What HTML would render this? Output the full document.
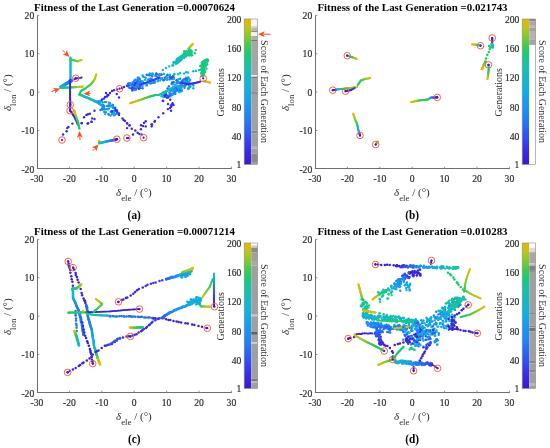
<!DOCTYPE html><html><head><meta charset="utf-8"><style>html,body{margin:0;padding:0;background:#fff;width:550px;height:448px;overflow:hidden}svg{display:block}</style></head><body>
<svg width="550" height="448" viewBox="0 0 550 448">
<defs><linearGradient id="parula" x1="0" y1="0" x2="0" y2="1"><stop offset="0.000" stop-color="#e8b800"/><stop offset="0.062" stop-color="#bfc417"/><stop offset="0.125" stop-color="#7ecb2d"/><stop offset="0.188" stop-color="#39cc51"/><stop offset="0.250" stop-color="#16ca7d"/><stop offset="0.312" stop-color="#14c4a5"/><stop offset="0.375" stop-color="#11bdbe"/><stop offset="0.438" stop-color="#10b5d2"/><stop offset="0.500" stop-color="#10ace4"/><stop offset="0.562" stop-color="#159eed"/><stop offset="0.625" stop-color="#1a8ff3"/><stop offset="0.688" stop-color="#1f7ef7"/><stop offset="0.750" stop-color="#2767f8"/><stop offset="0.812" stop-color="#304ff6"/><stop offset="0.875" stop-color="#3734ef"/><stop offset="0.938" stop-color="#3c23e0"/><stop offset="1.000" stop-color="#3e18cd"/></linearGradient></defs>
<rect width="550" height="448" fill="#fff"/>
<g transform="translate(0,0)">
<path d="M37.5 15.3 V168.5 H231.8" fill="none" stroke="#707070" stroke-width="1"/>
<path d="M37.50 168.5 v-1.8 M69.40 168.5 v-1.8 M101.80 168.5 v-1.8 M134.20 168.5 v-1.8 M166.60 168.5 v-1.8 M199.00 168.5 v-1.8 M231.40 168.5 v-1.8 M37.5 168.50 h1.8 M37.5 130.50 h1.8 M37.5 92.10 h1.8 M37.5 53.70 h1.8 M37.5 15.30 h1.8" stroke="#707070" stroke-width="0.8"/>
<g font-family="'Liberation Serif', 'Times New Roman', serif" font-size="9.6" fill="#2e2e2e" stroke="#2e2e2e" stroke-width="0.18">
<text x="37.00" y="182" text-anchor="middle">-30</text>
<text x="69.40" y="182" text-anchor="middle">-20</text>
<text x="101.80" y="182" text-anchor="middle">-10</text>
<text x="134.20" y="182" text-anchor="middle">0</text>
<text x="166.60" y="182" text-anchor="middle">10</text>
<text x="199.00" y="182" text-anchor="middle">20</text>
<text x="231.40" y="182" text-anchor="middle">30</text>
<text x="34.2" y="172.60" text-anchor="end">-20</text>
<text x="34.2" y="134.20" text-anchor="end">-10</text>
<text x="34.2" y="95.80" text-anchor="end">0</text>
<text x="34.2" y="57.40" text-anchor="end">10</text>
<text x="34.2" y="19.00" text-anchor="end">20</text>
<text x="241.3" y="168.30" text-anchor="end">1</text>
<text x="241.3" y="139.80" text-anchor="end">40</text>
<text x="241.3" y="110.58" text-anchor="end">80</text>
<text x="241.3" y="81.35" text-anchor="end">120</text>
<text x="241.3" y="52.13" text-anchor="end">160</text>
<text x="241.3" y="22.90" text-anchor="end">200</text>
</g>
<text font-family="'Liberation Serif', 'Times New Roman', serif" font-size="11" fill="#2e2e2e" x="116.1" y="195.6"><tspan font-style="italic">δ</tspan><tspan font-size="8.8" dy="5">ele</tspan><tspan dy="-5"> / (°)</tspan></text>
<text font-family="'Liberation Serif', 'Times New Roman', serif" font-size="11" fill="#2e2e2e" transform="translate(10.9,111.0) rotate(-90)"><tspan font-style="italic">δ</tspan><tspan font-size="8.8" dy="5.4">lon</tspan><tspan dy="-5.4"> / (°)</tspan></text>
<text font-family="'Liberation Serif', 'Times New Roman', serif" font-size="10" fill="#2e2e2e" text-anchor="middle" transform="translate(224.2,92.3) rotate(-90)">Generations</text>
<text font-family="'Liberation Serif', 'Times New Roman', serif" font-size="10" fill="#2e2e2e" text-anchor="middle" transform="translate(261.4,91.6) rotate(90)">Score of Each Generation</text>
<text font-family="'Liberation Serif', 'Times New Roman', serif" font-size="10.9" font-weight="bold" fill="#000" x="134.5" y="10.7" text-anchor="middle">Fitness of the Last Generation =0.00070624</text>
<text font-family="'Liberation Serif', 'Times New Roman', serif" font-size="11.3" font-weight="bold" fill="#000" transform="translate(134.2 216.5) scale(1 1.12)" x="0" y="2.45" text-anchor="middle">(a)</text>
<rect x="244.2" y="19.0" width="7.0" height="145.4" fill="url(#parula)"/>
<rect x="251.2" y="19.0" width="6.400000000000034" height="145.4" fill="#ffffff"/>
<rect x="251.2" y="19" width="6.400000000000034" height="6.899999999999999" fill="#f6f6f6"/>
<rect x="251.2" y="25.9" width="6.400000000000034" height="1.7000000000000028" fill="#d4d4d4"/>
<rect x="251.2" y="27.6" width="6.400000000000034" height="3.3999999999999986" fill="#b8b8b8"/>
<rect x="251.2" y="31" width="6.400000000000034" height="1.2999999999999972" fill="#8c8c8c"/>
<rect x="251.2" y="32.3" width="6.400000000000034" height="3.700000000000003" fill="#f2f2f2"/>
<rect x="251.2" y="36" width="6.400000000000034" height="3.8999999999999986" fill="#b0b0b0"/>
<rect x="251.2" y="39.9" width="6.400000000000034" height="1.7000000000000028" fill="#767676"/>
<rect x="251.2" y="41.6" width="6.400000000000034" height="33.4" fill="#a6a6a6"/>
<rect x="251.2" y="75" width="6.400000000000034" height="1.7000000000000028" fill="#eeeeee"/>
<rect x="251.2" y="76.7" width="6.400000000000034" height="1.2999999999999972" fill="#7a7a7a"/>
<rect x="251.2" y="78" width="6.400000000000034" height="14" fill="#a0a0a0"/>
<rect x="251.2" y="92" width="6.400000000000034" height="2" fill="#8e8e8e"/>
<rect x="251.2" y="94" width="6.400000000000034" height="36.80000000000001" fill="#a2a2a2"/>
<rect x="251.2" y="130.8" width="6.400000000000034" height="2.3999999999999773" fill="#8a8a8a"/>
<rect x="251.2" y="133.2" width="6.400000000000034" height="12.800000000000011" fill="#a0a0a0"/>
<rect x="251.2" y="146" width="6.400000000000034" height="2.5999999999999943" fill="#b2b2b2"/>
<rect x="251.2" y="148.6" width="6.400000000000034" height="4.900000000000006" fill="#a0a0a0"/>
<rect x="251.2" y="153.5" width="6.400000000000034" height="8.5" fill="#8c8c8c"/>
<rect x="251.2" y="162" width="6.400000000000034" height="2.4000000000000057" fill="#a0a0a0"/>
<rect x="244.2" y="19.0" width="13.400000000000034" height="145.4" fill="none" stroke="#8a8a8a" stroke-width="0.6"/>
</g>
<g transform="translate(278,0)">
<path d="M37.5 15.3 V168.5 H231.8" fill="none" stroke="#707070" stroke-width="1"/>
<path d="M37.50 168.5 v-1.8 M69.40 168.5 v-1.8 M101.80 168.5 v-1.8 M134.20 168.5 v-1.8 M166.60 168.5 v-1.8 M199.00 168.5 v-1.8 M231.40 168.5 v-1.8 M37.5 168.50 h1.8 M37.5 130.50 h1.8 M37.5 92.10 h1.8 M37.5 53.70 h1.8 M37.5 15.30 h1.8" stroke="#707070" stroke-width="0.8"/>
<g font-family="'Liberation Serif', 'Times New Roman', serif" font-size="9.6" fill="#2e2e2e" stroke="#2e2e2e" stroke-width="0.18">
<text x="37.00" y="182" text-anchor="middle">-30</text>
<text x="69.40" y="182" text-anchor="middle">-20</text>
<text x="101.80" y="182" text-anchor="middle">-10</text>
<text x="134.20" y="182" text-anchor="middle">0</text>
<text x="166.60" y="182" text-anchor="middle">10</text>
<text x="199.00" y="182" text-anchor="middle">20</text>
<text x="231.40" y="182" text-anchor="middle">30</text>
<text x="34.2" y="172.60" text-anchor="end">-20</text>
<text x="34.2" y="134.20" text-anchor="end">-10</text>
<text x="34.2" y="95.80" text-anchor="end">0</text>
<text x="34.2" y="57.40" text-anchor="end">10</text>
<text x="34.2" y="19.00" text-anchor="end">20</text>
<text x="241.3" y="168.30" text-anchor="end">1</text>
<text x="241.3" y="139.80" text-anchor="end">40</text>
<text x="241.3" y="110.58" text-anchor="end">80</text>
<text x="241.3" y="81.35" text-anchor="end">120</text>
<text x="241.3" y="52.13" text-anchor="end">160</text>
<text x="241.3" y="22.90" text-anchor="end">200</text>
</g>
<text font-family="'Liberation Serif', 'Times New Roman', serif" font-size="11" fill="#2e2e2e" x="116.1" y="195.6"><tspan font-style="italic">δ</tspan><tspan font-size="8.8" dy="5">ele</tspan><tspan dy="-5"> / (°)</tspan></text>
<text font-family="'Liberation Serif', 'Times New Roman', serif" font-size="11" fill="#2e2e2e" transform="translate(10.9,111.0) rotate(-90)"><tspan font-style="italic">δ</tspan><tspan font-size="8.8" dy="5.4">lon</tspan><tspan dy="-5.4"> / (°)</tspan></text>
<text font-family="'Liberation Serif', 'Times New Roman', serif" font-size="10" fill="#2e2e2e" text-anchor="middle" transform="translate(224.2,92.3) rotate(-90)">Generations</text>
<text font-family="'Liberation Serif', 'Times New Roman', serif" font-size="10" fill="#2e2e2e" text-anchor="middle" transform="translate(261.4,91.6) rotate(90)">Score of Each Generation</text>
<text font-family="'Liberation Serif', 'Times New Roman', serif" font-size="10.9" font-weight="bold" fill="#000" x="134.5" y="10.7" text-anchor="middle">Fitness of the Last Generation =0.021743</text>
<text font-family="'Liberation Serif', 'Times New Roman', serif" font-size="11.3" font-weight="bold" fill="#000" transform="translate(134.2 216.5) scale(1 1.12)" x="0" y="2.45" text-anchor="middle">(b)</text>
<rect x="244.2" y="19.0" width="7.0" height="145.4" fill="url(#parula)"/>
<rect x="251.2" y="19.0" width="6.400000000000034" height="145.4" fill="#ffffff"/>
<rect x="251.2" y="19" width="6.400000000000034" height="2.5" fill="#8a8a8a"/>
<rect x="251.2" y="21.5" width="6.400000000000034" height="3.8999999999999986" fill="#a8a8a8"/>
<rect x="251.2" y="25.4" width="6.400000000000034" height="0.5" fill="#909090"/>
<rect x="251.2" y="25.9" width="6.400000000000034" height="1.7000000000000028" fill="#b8b8b8"/>
<rect x="251.2" y="27.6" width="6.400000000000034" height="2.599999999999998" fill="#a0a0a0"/>
<rect x="251.2" y="30.2" width="6.400000000000034" height="0.8000000000000007" fill="#8c8c8c"/>
<rect x="251.2" y="31" width="6.400000000000034" height="8.899999999999999" fill="#b4b4b4"/>
<rect x="251.2" y="39.9" width="6.400000000000034" height="5.0" fill="#a4a4a4"/>
<rect x="244.2" y="19.0" width="13.400000000000034" height="145.4" fill="none" stroke="#8a8a8a" stroke-width="0.6"/>
</g>
<g transform="translate(0,224)">
<path d="M37.5 15.3 V168.5 H231.8" fill="none" stroke="#707070" stroke-width="1"/>
<path d="M37.50 168.5 v-1.8 M69.40 168.5 v-1.8 M101.80 168.5 v-1.8 M134.20 168.5 v-1.8 M166.60 168.5 v-1.8 M199.00 168.5 v-1.8 M231.40 168.5 v-1.8 M37.5 168.50 h1.8 M37.5 130.50 h1.8 M37.5 92.10 h1.8 M37.5 53.70 h1.8 M37.5 15.30 h1.8" stroke="#707070" stroke-width="0.8"/>
<g font-family="'Liberation Serif', 'Times New Roman', serif" font-size="9.6" fill="#2e2e2e" stroke="#2e2e2e" stroke-width="0.18">
<text x="37.00" y="182" text-anchor="middle">-30</text>
<text x="69.40" y="182" text-anchor="middle">-20</text>
<text x="101.80" y="182" text-anchor="middle">-10</text>
<text x="134.20" y="182" text-anchor="middle">0</text>
<text x="166.60" y="182" text-anchor="middle">10</text>
<text x="199.00" y="182" text-anchor="middle">20</text>
<text x="231.40" y="182" text-anchor="middle">30</text>
<text x="34.2" y="172.60" text-anchor="end">-20</text>
<text x="34.2" y="134.20" text-anchor="end">-10</text>
<text x="34.2" y="95.80" text-anchor="end">0</text>
<text x="34.2" y="57.40" text-anchor="end">10</text>
<text x="34.2" y="19.00" text-anchor="end">20</text>
<text x="241.3" y="168.30" text-anchor="end">1</text>
<text x="241.3" y="139.80" text-anchor="end">40</text>
<text x="241.3" y="110.58" text-anchor="end">80</text>
<text x="241.3" y="81.35" text-anchor="end">120</text>
<text x="241.3" y="52.13" text-anchor="end">160</text>
<text x="241.3" y="22.90" text-anchor="end">200</text>
</g>
<text font-family="'Liberation Serif', 'Times New Roman', serif" font-size="11" fill="#2e2e2e" x="116.1" y="195.6"><tspan font-style="italic">δ</tspan><tspan font-size="8.8" dy="5">ele</tspan><tspan dy="-5"> / (°)</tspan></text>
<text font-family="'Liberation Serif', 'Times New Roman', serif" font-size="11" fill="#2e2e2e" transform="translate(10.9,111.0) rotate(-90)"><tspan font-style="italic">δ</tspan><tspan font-size="8.8" dy="5.4">lon</tspan><tspan dy="-5.4"> / (°)</tspan></text>
<text font-family="'Liberation Serif', 'Times New Roman', serif" font-size="10" fill="#2e2e2e" text-anchor="middle" transform="translate(224.2,92.3) rotate(-90)">Generations</text>
<text font-family="'Liberation Serif', 'Times New Roman', serif" font-size="10" fill="#2e2e2e" text-anchor="middle" transform="translate(261.4,91.6) rotate(90)">Score of Each Generation</text>
<text font-family="'Liberation Serif', 'Times New Roman', serif" font-size="10.9" font-weight="bold" fill="#000" x="134.5" y="10.7" text-anchor="middle">Fitness of the Last Generation =0.00071214</text>
<text font-family="'Liberation Serif', 'Times New Roman', serif" font-size="11.3" font-weight="bold" fill="#000" transform="translate(134.2 216.5) scale(1 1.12)" x="0" y="2.45" text-anchor="middle">(c)</text>
<rect x="244.2" y="19.0" width="7.0" height="145.4" fill="url(#parula)"/>
<rect x="251.2" y="19.0" width="6.400000000000034" height="145.4" fill="#ffffff"/>
<rect x="251.2" y="21.5" width="6.400000000000034" height="2.1999999999999993" fill="#c8c8c8"/>
<rect x="251.2" y="23.7" width="6.400000000000034" height="4.5" fill="#8c8c8c"/>
<rect x="251.2" y="28.2" width="6.400000000000034" height="8.8" fill="#a0a0a0"/>
<rect x="251.2" y="37" width="6.400000000000034" height="4.600000000000001" fill="#aaaaaa"/>
<rect x="251.2" y="41.6" width="6.400000000000034" height="49.1" fill="#a0a0a0"/>
<rect x="251.2" y="90.7" width="6.400000000000034" height="1.5999999999999943" fill="#c8c8c8"/>
<rect x="251.2" y="92.3" width="6.400000000000034" height="15.700000000000003" fill="#a0a0a0"/>
<rect x="251.2" y="108" width="6.400000000000034" height="2.799999999999997" fill="#606060"/>
<rect x="251.2" y="110.8" width="6.400000000000034" height="7.700000000000003" fill="#a0a0a0"/>
<rect x="251.2" y="118.5" width="6.400000000000034" height="1.2000000000000028" fill="#d0d0d0"/>
<rect x="251.2" y="119.7" width="6.400000000000034" height="34.999999999999986" fill="#a0a0a0"/>
<rect x="251.2" y="154.7" width="6.400000000000034" height="2.5" fill="#7a7a7a"/>
<rect x="251.2" y="157.2" width="6.400000000000034" height="1.3000000000000114" fill="#b0b0b0"/>
<rect x="251.2" y="158.5" width="6.400000000000034" height="5.900000000000006" fill="#a0a0a0"/>
<rect x="244.2" y="19.0" width="13.400000000000034" height="145.4" fill="none" stroke="#8a8a8a" stroke-width="0.6"/>
</g>
<g transform="translate(278,224)">
<path d="M37.5 15.3 V168.5 H231.8" fill="none" stroke="#707070" stroke-width="1"/>
<path d="M37.50 168.5 v-1.8 M69.40 168.5 v-1.8 M101.80 168.5 v-1.8 M134.20 168.5 v-1.8 M166.60 168.5 v-1.8 M199.00 168.5 v-1.8 M231.40 168.5 v-1.8 M37.5 168.50 h1.8 M37.5 130.50 h1.8 M37.5 92.10 h1.8 M37.5 53.70 h1.8 M37.5 15.30 h1.8" stroke="#707070" stroke-width="0.8"/>
<g font-family="'Liberation Serif', 'Times New Roman', serif" font-size="9.6" fill="#2e2e2e" stroke="#2e2e2e" stroke-width="0.18">
<text x="37.00" y="182" text-anchor="middle">-30</text>
<text x="69.40" y="182" text-anchor="middle">-20</text>
<text x="101.80" y="182" text-anchor="middle">-10</text>
<text x="134.20" y="182" text-anchor="middle">0</text>
<text x="166.60" y="182" text-anchor="middle">10</text>
<text x="199.00" y="182" text-anchor="middle">20</text>
<text x="231.40" y="182" text-anchor="middle">30</text>
<text x="34.2" y="172.60" text-anchor="end">-20</text>
<text x="34.2" y="134.20" text-anchor="end">-10</text>
<text x="34.2" y="95.80" text-anchor="end">0</text>
<text x="34.2" y="57.40" text-anchor="end">10</text>
<text x="34.2" y="19.00" text-anchor="end">20</text>
<text x="241.3" y="168.30" text-anchor="end">1</text>
<text x="241.3" y="139.80" text-anchor="end">40</text>
<text x="241.3" y="110.58" text-anchor="end">80</text>
<text x="241.3" y="81.35" text-anchor="end">120</text>
<text x="241.3" y="52.13" text-anchor="end">160</text>
<text x="241.3" y="22.90" text-anchor="end">200</text>
</g>
<text font-family="'Liberation Serif', 'Times New Roman', serif" font-size="11" fill="#2e2e2e" x="116.1" y="195.6"><tspan font-style="italic">δ</tspan><tspan font-size="8.8" dy="5">ele</tspan><tspan dy="-5"> / (°)</tspan></text>
<text font-family="'Liberation Serif', 'Times New Roman', serif" font-size="11" fill="#2e2e2e" transform="translate(10.9,111.0) rotate(-90)"><tspan font-style="italic">δ</tspan><tspan font-size="8.8" dy="5.4">lon</tspan><tspan dy="-5.4"> / (°)</tspan></text>
<text font-family="'Liberation Serif', 'Times New Roman', serif" font-size="10" fill="#2e2e2e" text-anchor="middle" transform="translate(224.2,92.3) rotate(-90)">Generations</text>
<text font-family="'Liberation Serif', 'Times New Roman', serif" font-size="10" fill="#2e2e2e" text-anchor="middle" transform="translate(261.4,91.6) rotate(90)">Score of Each Generation</text>
<text font-family="'Liberation Serif', 'Times New Roman', serif" font-size="10.9" font-weight="bold" fill="#000" x="134.5" y="10.7" text-anchor="middle">Fitness of the Last Generation =0.010283</text>
<text font-family="'Liberation Serif', 'Times New Roman', serif" font-size="11.3" font-weight="bold" fill="#000" transform="translate(134.2 216.5) scale(1 1.12)" x="0" y="2.45" text-anchor="middle">(d)</text>
<rect x="244.2" y="19.0" width="7.0" height="145.4" fill="url(#parula)"/>
<rect x="251.2" y="19.0" width="6.400000000000034" height="145.4" fill="#ffffff"/>
<rect x="251.2" y="23.7" width="6.400000000000034" height="4.5" fill="#dadada"/>
<rect x="251.2" y="28.2" width="6.400000000000034" height="11.099999999999998" fill="#a8a8a8"/>
<rect x="251.2" y="39.3" width="6.400000000000034" height="2.3000000000000043" fill="#c0c0c0"/>
<rect x="251.2" y="41.6" width="6.400000000000034" height="5.0" fill="#828282"/>
<rect x="251.2" y="46.6" width="6.400000000000034" height="1.1000000000000014" fill="#606060"/>
<rect x="251.2" y="47.7" width="6.400000000000034" height="41.3" fill="#a0a0a0"/>
<rect x="251.2" y="89" width="6.400000000000034" height="1.7000000000000028" fill="#888888"/>
<rect x="251.2" y="90.7" width="6.400000000000034" height="11.099999999999994" fill="#a0a0a0"/>
<rect x="251.2" y="101.8" width="6.400000000000034" height="1.7000000000000028" fill="#888888"/>
<rect x="251.2" y="103.5" width="6.400000000000034" height="0.5" fill="#a0a0a0"/>
<rect x="251.2" y="104" width="6.400000000000034" height="3.4000000000000057" fill="#747474"/>
<rect x="251.2" y="107.4" width="6.400000000000034" height="28.900000000000006" fill="#a0a0a0"/>
<rect x="251.2" y="136.3" width="6.400000000000034" height="3.0999999999999943" fill="#888888"/>
<rect x="251.2" y="139.4" width="6.400000000000034" height="6.599999999999994" fill="#a0a0a0"/>
<rect x="251.2" y="146" width="6.400000000000034" height="2.5999999999999943" fill="#888888"/>
<rect x="251.2" y="148.6" width="6.400000000000034" height="10.400000000000006" fill="#a0a0a0"/>
<rect x="251.2" y="159" width="6.400000000000034" height="3" fill="#b8b8b8"/>
<rect x="251.2" y="162" width="6.400000000000034" height="2.4000000000000057" fill="#a0a0a0"/>
<rect x="244.2" y="19.0" width="13.400000000000034" height="145.4" fill="none" stroke="#8a8a8a" stroke-width="0.6"/>
</g>
<circle cx="70.5" cy="57.5" r="1.1" fill="#17cb76"/>
<circle cx="70.5" cy="58.2" r="1.1" fill="#16c982"/>
<circle cx="70.5" cy="59.0" r="1.1" fill="#15c88d"/>
<circle cx="70.5" cy="59.8" r="1.1" fill="#14c799"/>
<circle cx="70.5" cy="60.5" r="1.1" fill="#14c5a3"/>
<circle cx="70.5" cy="61.2" r="1.1" fill="#13c3a9"/>
<circle cx="70.5" cy="62.0" r="1.1" fill="#12c1b0"/>
<circle cx="70.5" cy="62.7" r="1.1" fill="#12c1b2"/>
<circle cx="70.5" cy="63.4" r="1.1" fill="#12c0b4"/>
<circle cx="70.5" cy="64.2" r="1.1" fill="#12bfb7"/>
<circle cx="70.5" cy="64.9" r="1.1" fill="#12bfb9"/>
<circle cx="70.5" cy="65.6" r="1.1" fill="#11bebb"/>
<circle cx="70.5" cy="66.3" r="1.1" fill="#11bdbd"/>
<circle cx="70.5" cy="67.1" r="1.1" fill="#11bdc0"/>
<circle cx="70.5" cy="67.8" r="1.1" fill="#11bcc2"/>
<circle cx="70.5" cy="68.5" r="1.1" fill="#10bbc4"/>
<circle cx="70.5" cy="69.2" r="1.1" fill="#10bbc6"/>
<circle cx="70.5" cy="69.9" r="1.1" fill="#10bac8"/>
<circle cx="70.5" cy="70.7" r="1.1" fill="#10b9ca"/>
<circle cx="70.5" cy="71.4" r="1.1" fill="#10b8cb"/>
<circle cx="70.5" cy="72.1" r="1.1" fill="#10b8cd"/>
<circle cx="70.5" cy="72.8" r="1.1" fill="#10b7cf"/>
<circle cx="70.5" cy="73.6" r="1.1" fill="#10b6d0"/>
<circle cx="70.5" cy="74.3" r="1.1" fill="#10b5d2"/>
<circle cx="70.5" cy="75.0" r="1.1" fill="#10b4d3"/>
<circle cx="70.5" cy="75.8" r="1.1" fill="#10b3d7"/>
<circle cx="70.5" cy="76.5" r="1.1" fill="#10b1da"/>
<circle cx="70.5" cy="77.3" r="1.1" fill="#10afdd"/>
<circle cx="70.5" cy="78.1" r="1.1" fill="#10aee1"/>
<circle cx="70.5" cy="78.8" r="1.1" fill="#10ace4"/>
<circle cx="70.5" cy="79.6" r="1.1" fill="#11a9e6"/>
<circle cx="70.5" cy="80.4" r="1.1" fill="#12a6e8"/>
<circle cx="70.5" cy="81.1" r="1.1" fill="#13a4e9"/>
<circle cx="70.5" cy="81.9" r="1.1" fill="#14a1eb"/>
<circle cx="70.5" cy="59.2" r="1.0" fill="#17cb76"/>
<circle cx="71.2" cy="59.4" r="1.0" fill="#18cb6f"/>
<circle cx="71.9" cy="59.7" r="1.0" fill="#18cc68"/>
<circle cx="72.7" cy="59.9" r="1.0" fill="#22cc61"/>
<circle cx="73.4" cy="60.1" r="1.0" fill="#2dcc5a"/>
<circle cx="74.1" cy="60.4" r="1.0" fill="#37cc53"/>
<circle cx="74.8" cy="60.6" r="1.0" fill="#41cc4b"/>
<circle cx="75.5" cy="60.8" r="1.0" fill="#4bcc44"/>
<circle cx="76.3" cy="61.0" r="1.0" fill="#56cc3d"/>
<circle cx="77.0" cy="61.3" r="1.0" fill="#60cc36"/>
<circle cx="77.7" cy="61.5" r="1.0" fill="#6ccb33"/>
<circle cx="78.4" cy="61.2" r="1.0" fill="#84ca2c"/>
<circle cx="79.0" cy="60.9" r="1.0" fill="#9cc925"/>
<circle cx="79.7" cy="60.6" r="1.0" fill="#b4c81e"/>
<circle cx="80.4" cy="60.4" r="1.0" fill="#c1c417"/>
<circle cx="81.0" cy="60.1" r="1.0" fill="#cec00f"/>
<circle cx="81.7" cy="59.8" r="1.0" fill="#dbbc08"/>
<circle cx="74.2" cy="79.0" r="0.9" fill="#3c1fd9"/>
<circle cx="75.0" cy="78.8" r="0.9" fill="#3c20db"/>
<circle cx="75.7" cy="78.7" r="0.9" fill="#3c21dd"/>
<circle cx="76.5" cy="78.5" r="0.9" fill="#3c22df"/>
<circle cx="77.2" cy="78.4" r="0.9" fill="#3b24e1"/>
<circle cx="78.0" cy="78.2" r="0.9" fill="#3b25e3"/>
<circle cx="78.7" cy="78.1" r="0.9" fill="#3b26e5"/>
<circle cx="79.5" cy="78.0" r="0.9" fill="#3b27e6"/>
<circle cx="80.2" cy="77.8" r="0.9" fill="#3a28e8"/>
<circle cx="81.0" cy="77.7" r="0.9" fill="#3a29ea"/>
<circle cx="81.7" cy="77.5" r="0.9" fill="#3a2aec"/>
<circle cx="60.8" cy="87.1" r="1.75" fill="#11bcc0"/>
<circle cx="61.4" cy="86.7" r="1.75" fill="#10b9c9"/>
<circle cx="62.0" cy="86.4" r="1.75" fill="#10b6d0"/>
<circle cx="62.6" cy="86.0" r="1.75" fill="#10b3d7"/>
<circle cx="63.2" cy="85.6" r="1.75" fill="#10afde"/>
<circle cx="63.8" cy="85.2" r="1.75" fill="#10ace4"/>
<circle cx="64.4" cy="84.9" r="1.75" fill="#12a6e8"/>
<circle cx="65.0" cy="84.5" r="1.75" fill="#14a1eb"/>
<circle cx="65.6" cy="84.1" r="1.75" fill="#169dee"/>
<circle cx="66.3" cy="83.7" r="1.75" fill="#1798f1"/>
<circle cx="66.9" cy="83.4" r="1.75" fill="#1993f3"/>
<circle cx="67.5" cy="83.0" r="1.75" fill="#1a8ef4"/>
<circle cx="68.2" cy="82.6" r="1.75" fill="#1c88f5"/>
<circle cx="68.8" cy="82.2" r="1.75" fill="#1e82f6"/>
<circle cx="69.4" cy="81.8" r="1.75" fill="#1f7df7"/>
<circle cx="70.0" cy="81.5" r="1.75" fill="#2176f8"/>
<circle cx="70.7" cy="81.1" r="1.75" fill="#246ff8"/>
<circle cx="71.3" cy="80.7" r="1.75" fill="#2767f8"/>
<circle cx="96.3" cy="74.3" r="1.1" fill="#e8b800"/>
<circle cx="96.0" cy="75.1" r="1.1" fill="#e1ba04"/>
<circle cx="95.8" cy="75.8" r="1.1" fill="#d9bd09"/>
<circle cx="95.5" cy="76.6" r="1.1" fill="#d2bf0d"/>
<circle cx="95.3" cy="77.3" r="1.1" fill="#cac111"/>
<circle cx="95.0" cy="78.1" r="1.1" fill="#c3c315"/>
<circle cx="94.8" cy="78.8" r="1.1" fill="#bbc61a"/>
<circle cx="94.5" cy="79.6" r="1.1" fill="#b4c81e"/>
<circle cx="94.1" cy="80.2" r="1.1" fill="#a8c921"/>
<circle cx="93.6" cy="80.8" r="1.1" fill="#9cc925"/>
<circle cx="93.2" cy="81.3" r="1.1" fill="#90ca28"/>
<circle cx="92.8" cy="81.9" r="1.1" fill="#84ca2c"/>
<circle cx="92.3" cy="82.5" r="1.1" fill="#78cb2f"/>
<circle cx="91.9" cy="83.0" r="1.1" fill="#6ccb33"/>
<circle cx="91.4" cy="83.6" r="1.1" fill="#60cc36"/>
<circle cx="91.0" cy="84.2" r="1.1" fill="#56cc3d"/>
<circle cx="90.4" cy="84.7" r="1.1" fill="#51cc41"/>
<circle cx="89.8" cy="85.2" r="1.1" fill="#4bcc44"/>
<circle cx="89.1" cy="85.6" r="1.1" fill="#46cc48"/>
<circle cx="88.5" cy="86.1" r="1.1" fill="#41cc4b"/>
<circle cx="87.9" cy="86.6" r="1.1" fill="#3ccc4f"/>
<circle cx="87.2" cy="87.0" r="1.1" fill="#37cc53"/>
<circle cx="86.6" cy="87.5" r="1.1" fill="#32cc56"/>
<circle cx="86.0" cy="88.0" r="1.1" fill="#2dcc5a"/>
<circle cx="85.4" cy="88.4" r="1.1" fill="#2acc5b"/>
<circle cx="84.8" cy="88.8" r="1.1" fill="#27cc5d"/>
<circle cx="84.1" cy="89.1" r="1.1" fill="#25cc5f"/>
<circle cx="83.5" cy="89.5" r="1.1" fill="#22cc61"/>
<circle cx="82.9" cy="89.9" r="1.1" fill="#20cc63"/>
<circle cx="82.2" cy="90.2" r="1.1" fill="#1dcc64"/>
<circle cx="81.6" cy="90.6" r="1.1" fill="#1bcc66"/>
<circle cx="81.0" cy="91.0" r="1.1" fill="#18cc68"/>
<circle cx="80.7" cy="91.7" r="1.1" fill="#18cc6b"/>
<circle cx="80.4" cy="92.4" r="1.1" fill="#18cb6e"/>
<circle cx="80.0" cy="93.1" r="1.1" fill="#17cb70"/>
<circle cx="79.7" cy="93.8" r="1.1" fill="#17cb73"/>
<circle cx="79.4" cy="94.5" r="1.1" fill="#17cb76"/>
<circle cx="60.8" cy="87.9" r="1.1" fill="#15c892"/>
<circle cx="61.5" cy="87.9" r="1.1" fill="#15c88e"/>
<circle cx="62.2" cy="87.8" r="1.1" fill="#16c889"/>
<circle cx="62.9" cy="87.8" r="1.1" fill="#16c985"/>
<circle cx="63.6" cy="87.8" r="1.1" fill="#16c981"/>
<circle cx="64.3" cy="87.7" r="1.1" fill="#17ca7c"/>
<circle cx="65.0" cy="87.7" r="1.1" fill="#17ca78"/>
<circle cx="65.8" cy="87.7" r="1.1" fill="#17cb74"/>
<circle cx="66.5" cy="87.7" r="1.1" fill="#17cb70"/>
<circle cx="67.2" cy="87.6" r="1.1" fill="#18cc6b"/>
<circle cx="67.9" cy="87.6" r="1.1" fill="#1acc67"/>
<circle cx="68.6" cy="87.6" r="1.1" fill="#20cc63"/>
<circle cx="69.3" cy="87.5" r="1.1" fill="#26cc5e"/>
<circle cx="70.0" cy="87.5" r="1.1" fill="#2dcc5a"/>
<circle cx="70.7" cy="87.5" r="1.1" fill="#36cc53"/>
<circle cx="71.5" cy="87.4" r="1.1" fill="#3fcc4d"/>
<circle cx="72.2" cy="87.4" r="1.1" fill="#49cc46"/>
<circle cx="72.9" cy="87.3" r="1.1" fill="#52cc40"/>
<circle cx="73.6" cy="87.3" r="1.1" fill="#5bcc39"/>
<circle cx="74.4" cy="87.2" r="1.1" fill="#65cc34"/>
<circle cx="75.1" cy="87.2" r="1.1" fill="#70cb31"/>
<circle cx="75.8" cy="87.1" r="1.1" fill="#7bcb2e"/>
<circle cx="76.5" cy="87.1" r="1.1" fill="#86ca2b"/>
<circle cx="77.3" cy="87.0" r="1.1" fill="#91ca28"/>
<circle cx="78.0" cy="87.0" r="1.1" fill="#9cc925"/>
<circle cx="78.7" cy="87.0" r="1.1" fill="#adc820"/>
<circle cx="79.4" cy="86.9" r="1.1" fill="#bac61b"/>
<circle cx="80.1" cy="86.9" r="1.1" fill="#c3c315"/>
<circle cx="80.8" cy="86.8" r="1.1" fill="#ccc110"/>
<circle cx="81.5" cy="86.8" r="1.1" fill="#d5be0b"/>
<circle cx="82.2" cy="86.7" r="1.1" fill="#dfbb05"/>
<circle cx="82.9" cy="86.7" r="1.1" fill="#e8b800"/>
<circle cx="70.1" cy="80.0" r="1.0" fill="#3a2aec"/>
<circle cx="70.1" cy="80.7" r="1.0" fill="#3a2aeb"/>
<circle cx="70.1" cy="81.4" r="1.0" fill="#3a29eb"/>
<circle cx="70.1" cy="82.1" r="1.0" fill="#3a29ea"/>
<circle cx="70.1" cy="82.9" r="1.0" fill="#3a28e9"/>
<circle cx="70.1" cy="83.6" r="1.0" fill="#3a28e8"/>
<circle cx="70.1" cy="84.3" r="1.0" fill="#3b27e8"/>
<circle cx="70.1" cy="85.0" r="1.0" fill="#3b27e7"/>
<circle cx="70.1" cy="85.7" r="1.0" fill="#3b27e6"/>
<circle cx="70.1" cy="86.4" r="1.0" fill="#3b26e5"/>
<circle cx="70.1" cy="87.1" r="1.0" fill="#3b26e5"/>
<circle cx="70.1" cy="87.9" r="1.0" fill="#3b25e4"/>
<circle cx="70.1" cy="88.6" r="1.0" fill="#3b25e3"/>
<circle cx="70.1" cy="89.3" r="1.0" fill="#3b24e2"/>
<circle cx="70.1" cy="90.0" r="1.0" fill="#3b24e2"/>
<circle cx="70.1" cy="90.7" r="1.0" fill="#3b24e1"/>
<circle cx="70.1" cy="91.4" r="1.0" fill="#3c23e0"/>
<circle cx="70.1" cy="92.1" r="1.0" fill="#3c23df"/>
<circle cx="70.1" cy="92.9" r="1.0" fill="#3c22df"/>
<circle cx="70.1" cy="93.6" r="1.0" fill="#3c22de"/>
<circle cx="70.1" cy="94.3" r="1.0" fill="#3c21dd"/>
<circle cx="70.1" cy="95.0" r="1.0" fill="#3c21dc"/>
<circle cx="70.1" cy="95.7" r="1.0" fill="#3c20db"/>
<circle cx="70.1" cy="96.5" r="1.0" fill="#3c20da"/>
<circle cx="70.1" cy="97.2" r="1.0" fill="#3c1fd9"/>
<circle cx="70.2" cy="98.0" r="1.0" fill="#3d1ed8"/>
<circle cx="70.2" cy="98.7" r="1.0" fill="#3d1ed7"/>
<circle cx="70.2" cy="99.5" r="1.0" fill="#3d1dd5"/>
<circle cx="70.2" cy="100.2" r="1.0" fill="#3d1cd4"/>
<circle cx="70.2" cy="101.0" r="1.0" fill="#3d1bd3"/>
<circle cx="70.2" cy="101.7" r="1.0" fill="#3d1bd2"/>
<circle cx="70.3" cy="102.5" r="1.0" fill="#3e1ad1"/>
<circle cx="70.3" cy="103.2" r="1.0" fill="#3e19cf"/>
<circle cx="70.3" cy="104.0" r="1.0" fill="#3e19ce"/>
<circle cx="70.3" cy="104.7" r="1.0" fill="#3e18cd"/>
<circle cx="70.3" cy="105.5" r="1.0" fill="#3e18cd"/>
<circle cx="70.2" cy="106.2" r="1.0" fill="#3e18cd"/>
<circle cx="70.2" cy="107.0" r="1.0" fill="#3e18cd"/>
<circle cx="70.2" cy="107.8" r="1.0" fill="#3e18cd"/>
<circle cx="70.2" cy="108.5" r="1.0" fill="#3e18cd"/>
<circle cx="70.1" cy="109.3" r="1.0" fill="#3e18cd"/>
<circle cx="70.1" cy="110.0" r="1.0" fill="#3e18cd"/>
<circle cx="70.1" cy="110.8" r="1.0" fill="#3e18cd"/>
<circle cx="71.0" cy="111.4" r="1.0" fill="#3e18cd"/>
<circle cx="71.4" cy="112.0" r="1.0" fill="#3e1ad0"/>
<circle cx="71.7" cy="112.6" r="1.0" fill="#3d1bd3"/>
<circle cx="72.1" cy="113.2" r="1.0" fill="#3d1dd5"/>
<circle cx="72.5" cy="113.8" r="1.0" fill="#3d1fd8"/>
<circle cx="72.8" cy="114.4" r="1.0" fill="#3c20db"/>
<circle cx="73.2" cy="115.0" r="1.0" fill="#3c22de"/>
<circle cx="73.5" cy="115.6" r="1.0" fill="#3b23e1"/>
<circle cx="73.9" cy="116.2" r="1.0" fill="#3b25e4"/>
<circle cx="74.3" cy="116.8" r="1.0" fill="#3b27e6"/>
<circle cx="74.6" cy="117.4" r="1.0" fill="#3a28e9"/>
<circle cx="75.0" cy="118.0" r="1.0" fill="#3a2aec"/>
<circle cx="75.3" cy="118.7" r="1.0" fill="#392eed"/>
<circle cx="75.6" cy="119.4" r="1.0" fill="#3832ee"/>
<circle cx="75.9" cy="120.1" r="1.0" fill="#3637f0"/>
<circle cx="76.2" cy="120.8" r="1.0" fill="#353bf1"/>
<circle cx="76.5" cy="121.5" r="1.0" fill="#343ff2"/>
<circle cx="76.8" cy="122.2" r="1.0" fill="#3343f3"/>
<circle cx="77.1" cy="122.9" r="1.0" fill="#3247f4"/>
<circle cx="77.4" cy="123.6" r="1.0" fill="#304cf6"/>
<circle cx="77.7" cy="124.3" r="1.0" fill="#2f50f7"/>
<circle cx="78.0" cy="125.0" r="1.0" fill="#2e54f8"/>
<circle cx="74.2" cy="110.3" r="1.1" fill="#e8b800"/>
<circle cx="74.4" cy="111.0" r="1.1" fill="#e0ba05"/>
<circle cx="74.7" cy="111.7" r="1.1" fill="#d8bd09"/>
<circle cx="74.9" cy="112.4" r="1.1" fill="#d0c00e"/>
<circle cx="75.1" cy="113.2" r="1.1" fill="#c7c213"/>
<circle cx="75.3" cy="113.9" r="1.1" fill="#bfc417"/>
<circle cx="75.5" cy="114.6" r="1.1" fill="#b7c71c"/>
<circle cx="75.8" cy="115.3" r="1.1" fill="#abc821"/>
<circle cx="76.0" cy="116.0" r="1.1" fill="#9cc925"/>
<circle cx="76.2" cy="116.7" r="1.1" fill="#8fca29"/>
<circle cx="76.4" cy="117.3" r="1.1" fill="#81ca2c"/>
<circle cx="76.7" cy="118.0" r="1.1" fill="#74cb30"/>
<circle cx="76.9" cy="118.7" r="1.1" fill="#67cc34"/>
<circle cx="77.1" cy="119.3" r="1.1" fill="#5acc3a"/>
<circle cx="77.3" cy="120.0" r="1.1" fill="#4fcc42"/>
<circle cx="77.6" cy="120.7" r="1.1" fill="#43cc4a"/>
<circle cx="77.8" cy="121.3" r="1.1" fill="#38cc52"/>
<circle cx="78.0" cy="122.0" r="1.1" fill="#2dcc5a"/>
<circle cx="78.2" cy="122.7" r="1.1" fill="#28cc5d"/>
<circle cx="78.3" cy="123.5" r="1.1" fill="#23cc60"/>
<circle cx="78.5" cy="124.2" r="1.1" fill="#1fcc63"/>
<circle cx="78.6" cy="125.0" r="1.1" fill="#1acc66"/>
<circle cx="78.8" cy="125.7" r="1.1" fill="#18cc6a"/>
<circle cx="78.9" cy="126.5" r="1.1" fill="#18cc6d"/>
<circle cx="79.1" cy="127.2" r="1.1" fill="#17cb70"/>
<circle cx="79.2" cy="128.0" r="1.1" fill="#17cb73"/>
<circle cx="79.4" cy="128.7" r="1.1" fill="#17cb76"/>
<circle cx="79.4" cy="94.5" r="1.25" fill="#16c984"/>
<circle cx="80.1" cy="94.8" r="1.25" fill="#16c88a"/>
<circle cx="80.7" cy="95.0" r="1.25" fill="#15c891"/>
<circle cx="81.4" cy="95.3" r="1.25" fill="#15c797"/>
<circle cx="82.0" cy="95.6" r="1.25" fill="#14c69e"/>
<circle cx="82.7" cy="95.8" r="1.25" fill="#14c5a2"/>
<circle cx="83.4" cy="96.1" r="1.25" fill="#13c4a6"/>
<circle cx="84.0" cy="96.4" r="1.25" fill="#13c3aa"/>
<circle cx="84.7" cy="96.7" r="1.25" fill="#13c2ae"/>
<circle cx="85.4" cy="96.9" r="1.25" fill="#12c1b1"/>
<circle cx="86.0" cy="97.2" r="1.25" fill="#12c0b5"/>
<circle cx="86.7" cy="97.5" r="1.25" fill="#12bfb9"/>
<circle cx="87.3" cy="97.7" r="1.25" fill="#11bebc"/>
<circle cx="88.0" cy="98.0" r="1.25" fill="#11bcc0"/>
<circle cx="88.7" cy="98.3" r="1.25" fill="#11bcc2"/>
<circle cx="89.4" cy="98.6" r="1.25" fill="#10bbc4"/>
<circle cx="90.1" cy="98.9" r="1.25" fill="#10bac6"/>
<circle cx="90.7" cy="99.3" r="1.25" fill="#10bac8"/>
<circle cx="91.4" cy="99.6" r="1.25" fill="#10b9ca"/>
<circle cx="92.1" cy="99.9" r="1.25" fill="#10b8cb"/>
<circle cx="92.8" cy="100.2" r="1.25" fill="#10b8cd"/>
<circle cx="93.5" cy="100.5" r="1.25" fill="#10b7ce"/>
<circle cx="94.2" cy="100.8" r="1.25" fill="#10b6d0"/>
<circle cx="94.8" cy="101.2" r="1.25" fill="#10b5d1"/>
<circle cx="95.5" cy="101.5" r="1.25" fill="#10b5d3"/>
<circle cx="96.2" cy="101.8" r="1.25" fill="#10b4d4"/>
<circle cx="96.9" cy="102.1" r="1.25" fill="#10b3d6"/>
<circle cx="97.5" cy="102.5" r="1.25" fill="#10b2d7"/>
<circle cx="98.1" cy="102.9" r="1.25" fill="#10b2d8"/>
<circle cx="98.7" cy="103.3" r="1.25" fill="#10b1d9"/>
<circle cx="99.2" cy="103.7" r="1.25" fill="#10b1db"/>
<circle cx="99.8" cy="104.1" r="1.25" fill="#10b0dc"/>
<circle cx="100.4" cy="104.4" r="1.25" fill="#10b0dd"/>
<circle cx="101.0" cy="104.8" r="1.25" fill="#10afde"/>
<circle cx="101.6" cy="105.2" r="1.25" fill="#10aedf"/>
<circle cx="102.2" cy="105.6" r="1.25" fill="#10aee1"/>
<circle cx="102.7" cy="106.0" r="1.25" fill="#10ade2"/>
<circle cx="103.3" cy="106.4" r="1.25" fill="#10ade3"/>
<circle cx="103.9" cy="106.8" r="1.25" fill="#10ace4"/>
<circle cx="115.2" cy="107.8" r="1.2" fill="#179af0"/>
<circle cx="113.1" cy="106.8" r="1.2" fill="#1993f3"/>
<circle cx="111.9" cy="106.4" r="1.2" fill="#12a6e8"/>
<circle cx="109.9" cy="103.3" r="1.2" fill="#1c89f5"/>
<circle cx="108.0" cy="105.9" r="1.2" fill="#169cee"/>
<circle cx="111.0" cy="111.4" r="1.2" fill="#10ade3"/>
<circle cx="102.2" cy="109.8" r="1.2" fill="#1b8af5"/>
<circle cx="108.9" cy="102.8" r="1.2" fill="#10abe4"/>
<circle cx="112.3" cy="113.5" r="1.2" fill="#1f7cf8"/>
<circle cx="116.7" cy="110.0" r="1.2" fill="#1a90f3"/>
<circle cx="105.9" cy="112.2" r="1.2" fill="#10abe5"/>
<circle cx="100.4" cy="110.0" r="1.2" fill="#1d86f6"/>
<circle cx="117.0" cy="111.7" r="1.2" fill="#14a1eb"/>
<circle cx="102.0" cy="108.4" r="1.2" fill="#1d84f6"/>
<circle cx="104.3" cy="112.0" r="1.2" fill="#1b8bf4"/>
<circle cx="112.5" cy="111.5" r="1.2" fill="#1a8ff3"/>
<circle cx="100.3" cy="100.9" r="1.2" fill="#14a1eb"/>
<circle cx="110.1" cy="105.5" r="1.2" fill="#10ade1"/>
<circle cx="107.4" cy="106.0" r="1.2" fill="#1d86f5"/>
<circle cx="106.6" cy="109.3" r="1.2" fill="#1c89f5"/>
<circle cx="112.4" cy="105.3" r="1.2" fill="#14a1eb"/>
<circle cx="104.8" cy="109.3" r="1.2" fill="#10b0dc"/>
<circle cx="105.2" cy="114.1" r="1.2" fill="#11aae5"/>
<circle cx="104.7" cy="102.1" r="1.2" fill="#1799f0"/>
<circle cx="115.3" cy="114.5" r="1.2" fill="#1f7cf7"/>
<circle cx="98.7" cy="101.5" r="1.2" fill="#1f7cf8"/>
<circle cx="110.7" cy="111.9" r="1.2" fill="#12a6e8"/>
<circle cx="115.4" cy="110.6" r="1.2" fill="#1895f2"/>
<circle cx="110.5" cy="115.5" r="1.2" fill="#13a3ea"/>
<circle cx="101.6" cy="101.0" r="1.2" fill="#10b1db"/>
<circle cx="109.6" cy="105.6" r="1.2" fill="#14a1eb"/>
<circle cx="108.9" cy="108.4" r="1.2" fill="#1f7ef7"/>
<circle cx="104.1" cy="106.6" r="1.2" fill="#1c88f5"/>
<circle cx="111.2" cy="111.4" r="1.2" fill="#11a9e6"/>
<circle cx="112.6" cy="112.0" r="1.2" fill="#1b8cf4"/>
<circle cx="117.1" cy="113.7" r="1.2" fill="#10aee0"/>
<circle cx="97.2" cy="101.5" r="1.2" fill="#10ace3"/>
<circle cx="106.8" cy="105.9" r="1.2" fill="#10b2d7"/>
<circle cx="106.2" cy="102.1" r="1.2" fill="#1896f2"/>
<circle cx="112.3" cy="114.1" r="1.2" fill="#207cf8"/>
<circle cx="112.8" cy="105.0" r="1.2" fill="#1d83f6"/>
<circle cx="114.3" cy="112.9" r="1.2" fill="#10aee0"/>
<circle cx="103.0" cy="106.8" r="1.2" fill="#1b8bf4"/>
<circle cx="108.8" cy="105.3" r="1.2" fill="#1992f3"/>
<circle cx="114.0" cy="115.3" r="1.2" fill="#14a0ec"/>
<circle cx="112.5" cy="113.4" r="1.2" fill="#12a7e7"/>
<circle cx="108.3" cy="114.3" r="1.2" fill="#10ade2"/>
<circle cx="102.7" cy="102.5" r="1.2" fill="#1994f2"/>
<circle cx="103.9" cy="109.2" r="1.2" fill="#1f7df7"/>
<circle cx="114.7" cy="110.4" r="1.2" fill="#1a90f3"/>
<circle cx="102.9" cy="105.6" r="1.2" fill="#1991f3"/>
<circle cx="113.2" cy="108.0" r="1.2" fill="#159dee"/>
<circle cx="103.5" cy="105.2" r="1.2" fill="#1f7ff7"/>
<circle cx="118.3" cy="113.1" r="1.2" fill="#10b0db"/>
<circle cx="117.2" cy="112.8" r="1.2" fill="#1d83f6"/>
<circle cx="108.0" cy="109.2" r="1.2" fill="#10b3d7"/>
<circle cx="114.0" cy="111.2" r="1.2" fill="#11a9e6"/>
<circle cx="110.8" cy="106.4" r="1.2" fill="#179af0"/>
<circle cx="99.9" cy="102.4" r="1.2" fill="#12a6e8"/>
<circle cx="108.9" cy="114.5" r="1.2" fill="#1c87f5"/>
<circle cx="117.0" cy="111.0" r="1.2" fill="#343ff2"/>
<circle cx="119.0" cy="113.5" r="1.2" fill="#343ff2"/>
<circle cx="115.0" cy="108.0" r="1.2" fill="#343ff2"/>
<circle cx="106.0" cy="93.0" r="1.2" fill="#3b26e6"/>
<circle cx="108.5" cy="95.0" r="1.2" fill="#3b26e6"/>
<circle cx="107.0" cy="96.5" r="1.2" fill="#3b26e6"/>
<circle cx="103.9" cy="98.6" r="1.2" fill="#3b26e6"/>
<circle cx="94.5" cy="110.8" r="1.2" fill="#3b26e6"/>
<circle cx="86.4" cy="114.9" r="1.2" fill="#3b26e6"/>
<circle cx="88.0" cy="114.3" r="1.2" fill="#3b26e6"/>
<circle cx="89.9" cy="113.7" r="1.2" fill="#3b26e6"/>
<circle cx="84.0" cy="117.2" r="1.2" fill="#3b26e6"/>
<circle cx="92.2" cy="118.4" r="1.2" fill="#3b26e6"/>
<circle cx="94.5" cy="119.0" r="1.2" fill="#3b26e6"/>
<circle cx="91.6" cy="121.9" r="1.2" fill="#3b26e6"/>
<circle cx="87.6" cy="123.6" r="1.2" fill="#3b26e6"/>
<circle cx="81.7" cy="123.0" r="1.2" fill="#3b26e6"/>
<circle cx="72.4" cy="123.6" r="1.2" fill="#3b26e6"/>
<circle cx="68.4" cy="127.0" r="1.2" fill="#3b26e6"/>
<circle cx="67.2" cy="128.1" r="1.2" fill="#3b26e6"/>
<circle cx="66.6" cy="131.3" r="1.2" fill="#3b26e6"/>
<circle cx="63.1" cy="134.5" r="1.2" fill="#3b26e6"/>
<circle cx="81.7" cy="123.3" r="1.2" fill="#3b26e6"/>
<circle cx="88.1" cy="123.3" r="1.2" fill="#3b26e6"/>
<circle cx="91.6" cy="121.7" r="1.2" fill="#3b26e6"/>
<circle cx="99.2" cy="141.0" r="1.25" fill="#e8b800"/>
<circle cx="99.2" cy="141.8" r="1.25" fill="#bdc519"/>
<circle cx="99.2" cy="142.5" r="1.25" fill="#74cb30"/>
<circle cx="99.2" cy="143.3" r="1.25" fill="#2dcc5a"/>
<circle cx="99.9" cy="143.1" r="1.25" fill="#17cb73"/>
<circle cx="100.6" cy="142.9" r="1.25" fill="#15c88c"/>
<circle cx="101.3" cy="142.7" r="1.25" fill="#14c5a3"/>
<circle cx="101.9" cy="142.6" r="1.25" fill="#12c1b1"/>
<circle cx="102.6" cy="142.4" r="1.25" fill="#11bdbf"/>
<circle cx="103.3" cy="142.2" r="1.25" fill="#10b8cc"/>
<circle cx="104.0" cy="142.0" r="1.25" fill="#10b3d6"/>
<circle cx="104.7" cy="141.9" r="1.25" fill="#10b0dc"/>
<circle cx="105.5" cy="141.7" r="1.25" fill="#10ade3"/>
<circle cx="106.2" cy="141.6" r="1.25" fill="#11a8e7"/>
<circle cx="106.9" cy="141.4" r="1.25" fill="#13a3ea"/>
<circle cx="107.6" cy="141.3" r="1.25" fill="#159eed"/>
<circle cx="108.4" cy="141.1" r="1.25" fill="#1799f0"/>
<circle cx="109.1" cy="141.0" r="1.25" fill="#1993f3"/>
<circle cx="109.8" cy="140.8" r="1.25" fill="#1b8df4"/>
<circle cx="110.5" cy="140.7" r="1.25" fill="#1c87f5"/>
<circle cx="111.3" cy="140.5" r="1.25" fill="#1e80f7"/>
<circle cx="112.0" cy="140.4" r="1.25" fill="#207af8"/>
<circle cx="112.7" cy="140.2" r="1.25" fill="#256cf8"/>
<circle cx="113.4" cy="140.1" r="1.25" fill="#2a5ff8"/>
<circle cx="114.1" cy="139.9" r="1.25" fill="#2f51f7"/>
<circle cx="114.8" cy="139.7" r="1.25" fill="#3342f3"/>
<circle cx="115.5" cy="139.5" r="1.25" fill="#3733ef"/>
<circle cx="116.2" cy="139.4" r="1.25" fill="#3b27e8"/>
<circle cx="116.9" cy="139.2" r="1.25" fill="#3c21dc"/>
<circle cx="123.6" cy="120.0" r="1.2" fill="#3b25e3"/>
<circle cx="127.1" cy="123.5" r="1.2" fill="#3b25e3"/>
<circle cx="129.5" cy="125.2" r="1.2" fill="#3b25e3"/>
<circle cx="127.1" cy="128.1" r="1.2" fill="#3b25e3"/>
<circle cx="131.8" cy="128.7" r="1.2" fill="#3b25e3"/>
<circle cx="135.3" cy="130.5" r="1.2" fill="#3b25e3"/>
<circle cx="137.6" cy="132.8" r="1.2" fill="#3b25e3"/>
<circle cx="139.3" cy="134.0" r="1.2" fill="#3b25e3"/>
<circle cx="141.7" cy="134.5" r="1.2" fill="#3b25e3"/>
<circle cx="133.0" cy="134.5" r="1.2" fill="#3b25e3"/>
<circle cx="128.3" cy="138.0" r="1.2" fill="#3b25e3"/>
<circle cx="141.0" cy="125.2" r="1.2" fill="#3b25e3"/>
<circle cx="144.0" cy="122.9" r="1.2" fill="#3b25e3"/>
<circle cx="145.7" cy="126.4" r="1.2" fill="#3b25e3"/>
<circle cx="143.0" cy="126.0" r="1.2" fill="#3b25e3"/>
<circle cx="145.7" cy="121.2" r="1.2" fill="#3b25e3"/>
<circle cx="152.1" cy="124.7" r="1.2" fill="#3b25e3"/>
<circle cx="154.5" cy="121.7" r="1.2" fill="#3b25e3"/>
<circle cx="151.6" cy="126.4" r="1.2" fill="#3b25e3"/>
<circle cx="140.9" cy="129.3" r="1.2" fill="#3b25e3"/>
<circle cx="112.0" cy="111.4" r="1.2" fill="#3a2aec"/>
<circle cx="115.5" cy="110.3" r="1.2" fill="#3a2aec"/>
<circle cx="117.0" cy="111.5" r="1.2" fill="#3a2aec"/>
<circle cx="119.0" cy="114.9" r="1.2" fill="#3a2aec"/>
<circle cx="122.5" cy="118.4" r="1.2" fill="#3a2aec"/>
<circle cx="125.0" cy="121.0" r="1.2" fill="#3a2aec"/>
<circle cx="127.1" cy="123.1" r="1.2" fill="#3a2aec"/>
<circle cx="129.5" cy="125.4" r="1.2" fill="#3a2aec"/>
<circle cx="151.6" cy="124.2" r="1.2" fill="#3a2aec"/>
<circle cx="155.0" cy="121.0" r="1.2" fill="#3a2aec"/>
<circle cx="158.5" cy="117.2" r="1.2" fill="#3a2aec"/>
<circle cx="163.2" cy="113.2" r="1.2" fill="#3a2aec"/>
<circle cx="167.9" cy="109.1" r="1.2" fill="#3a2aec"/>
<circle cx="171.3" cy="106.8" r="1.2" fill="#3a2aec"/>
<circle cx="172.5" cy="103.3" r="1.2" fill="#3a2aec"/>
<circle cx="170.2" cy="99.8" r="1.2" fill="#3a2aec"/>
<circle cx="166.7" cy="97.5" r="1.2" fill="#3a2aec"/>
<circle cx="163.2" cy="101.0" r="1.2" fill="#3a2aec"/>
<circle cx="168.0" cy="104.0" r="1.2" fill="#3a2aec"/>
<circle cx="170.0" cy="108.0" r="1.2" fill="#3a2aec"/>
<circle cx="173.5" cy="105.0" r="1.2" fill="#3a2aec"/>
<circle cx="171.0" cy="110.7" r="1.2" fill="#3a2aec"/>
<circle cx="172.0" cy="104.5" r="1.2" fill="#3a2aec"/>
<circle cx="112.0" cy="91.0" r="1.2" fill="#3b26e6"/>
<circle cx="114.0" cy="90.3" r="1.2" fill="#3b26e6"/>
<circle cx="116.7" cy="94.0" r="1.2" fill="#3b26e6"/>
<circle cx="119.0" cy="97.5" r="1.2" fill="#3b26e6"/>
<circle cx="117.0" cy="89.5" r="1.2" fill="#3b26e6"/>
<circle cx="122.0" cy="88.0" r="1.2" fill="#3b26e6"/>
<circle cx="124.0" cy="87.0" r="1.2" fill="#3b26e6"/>
<circle cx="127.0" cy="85.8" r="1.2" fill="#3b26e6"/>
<circle cx="102.0" cy="99.5" r="1.2" fill="#3b26e6"/>
<circle cx="105.0" cy="97.0" r="1.2" fill="#3b26e6"/>
<circle cx="107.5" cy="95.0" r="1.2" fill="#3b26e6"/>
<circle cx="110.0" cy="93.0" r="1.2" fill="#3b26e6"/>
<circle cx="152.4" cy="82.3" r="1.2" fill="#11a9e6"/>
<circle cx="157.2" cy="78.2" r="1.2" fill="#2470f8"/>
<circle cx="151.5" cy="83.1" r="1.2" fill="#1a8ff3"/>
<circle cx="145.1" cy="79.8" r="1.2" fill="#10b1da"/>
<circle cx="167.3" cy="79.5" r="1.2" fill="#1d85f6"/>
<circle cx="164.9" cy="79.3" r="1.2" fill="#13a3ea"/>
<circle cx="150.3" cy="78.7" r="1.2" fill="#1d84f6"/>
<circle cx="140.0" cy="81.8" r="1.2" fill="#14a2eb"/>
<circle cx="160.1" cy="80.4" r="1.2" fill="#13a5e8"/>
<circle cx="161.2" cy="74.4" r="1.2" fill="#2e55f8"/>
<circle cx="172.8" cy="76.8" r="1.2" fill="#3344f3"/>
<circle cx="139.7" cy="81.2" r="1.2" fill="#10b2d9"/>
<circle cx="146.5" cy="85.5" r="1.2" fill="#11aae5"/>
<circle cx="132.1" cy="83.5" r="1.2" fill="#10b4d4"/>
<circle cx="153.5" cy="82.2" r="1.2" fill="#2177f8"/>
<circle cx="132.8" cy="82.5" r="1.2" fill="#1e80f7"/>
<circle cx="159.2" cy="74.9" r="1.2" fill="#266af8"/>
<circle cx="140.9" cy="81.2" r="1.2" fill="#12a7e7"/>
<circle cx="159.4" cy="74.3" r="1.2" fill="#1f7df7"/>
<circle cx="159.0" cy="77.9" r="1.2" fill="#1b8af5"/>
<circle cx="167.6" cy="74.7" r="1.2" fill="#1f7cf7"/>
<circle cx="170.0" cy="76.3" r="1.2" fill="#1b8cf4"/>
<circle cx="174.0" cy="77.9" r="1.2" fill="#1c89f5"/>
<circle cx="138.0" cy="86.1" r="1.2" fill="#2276f8"/>
<circle cx="140.4" cy="82.3" r="1.2" fill="#1e83f6"/>
<circle cx="138.6" cy="77.6" r="1.2" fill="#159fec"/>
<circle cx="147.1" cy="75.1" r="1.2" fill="#2a5ff8"/>
<circle cx="156.3" cy="75.4" r="1.2" fill="#1e80f7"/>
<circle cx="141.0" cy="85.0" r="1.2" fill="#266bf8"/>
<circle cx="137.9" cy="79.2" r="1.2" fill="#1d86f5"/>
<circle cx="143.7" cy="83.4" r="1.2" fill="#2b5df8"/>
<circle cx="152.8" cy="73.8" r="1.2" fill="#2274f8"/>
<circle cx="142.6" cy="81.4" r="1.2" fill="#2274f8"/>
<circle cx="156.6" cy="74.3" r="1.2" fill="#2864f8"/>
<circle cx="143.8" cy="83.3" r="1.2" fill="#1b8cf4"/>
<circle cx="161.6" cy="74.6" r="1.2" fill="#2372f8"/>
<circle cx="157.6" cy="77.0" r="1.2" fill="#169cee"/>
<circle cx="140.7" cy="81.8" r="1.2" fill="#2373f8"/>
<circle cx="172.0" cy="79.0" r="1.2" fill="#12a7e7"/>
<circle cx="146.8" cy="84.7" r="1.2" fill="#1897f1"/>
<circle cx="152.5" cy="82.7" r="1.2" fill="#1a8ef4"/>
<circle cx="148.2" cy="82.4" r="1.2" fill="#2768f8"/>
<circle cx="140.6" cy="82.1" r="1.2" fill="#1c86f5"/>
<circle cx="146.7" cy="74.6" r="1.2" fill="#207bf8"/>
<circle cx="159.7" cy="75.5" r="1.2" fill="#10afdd"/>
<circle cx="134.6" cy="88.2" r="1.2" fill="#2963f8"/>
<circle cx="135.4" cy="87.7" r="1.2" fill="#1f7cf8"/>
<circle cx="148.4" cy="74.9" r="1.2" fill="#1895f2"/>
<circle cx="140.5" cy="84.5" r="1.2" fill="#12a7e7"/>
<circle cx="157.8" cy="79.4" r="1.2" fill="#1a91f3"/>
<circle cx="147.0" cy="83.4" r="1.2" fill="#3148f5"/>
<circle cx="149.8" cy="73.5" r="1.2" fill="#159fed"/>
<circle cx="151.6" cy="79.0" r="1.2" fill="#256bf8"/>
<circle cx="166.0" cy="77.1" r="1.2" fill="#11a8e7"/>
<circle cx="139.1" cy="82.6" r="1.2" fill="#2079f8"/>
<circle cx="135.4" cy="86.4" r="1.2" fill="#10b0dd"/>
<circle cx="142.6" cy="88.2" r="1.2" fill="#2177f8"/>
<circle cx="148.2" cy="79.4" r="1.2" fill="#246ff8"/>
<circle cx="152.1" cy="73.8" r="1.2" fill="#169cee"/>
<circle cx="169.4" cy="75.8" r="1.2" fill="#1799f0"/>
<circle cx="150.6" cy="78.8" r="1.2" fill="#159fec"/>
<circle cx="169.6" cy="79.5" r="1.2" fill="#11aae5"/>
<circle cx="136.1" cy="85.3" r="1.2" fill="#2f50f7"/>
<circle cx="149.4" cy="81.0" r="1.2" fill="#1c89f5"/>
<circle cx="137.0" cy="80.5" r="1.2" fill="#1a8ef4"/>
<circle cx="167.0" cy="75.4" r="1.2" fill="#207bf8"/>
<circle cx="165.0" cy="77.8" r="1.2" fill="#2c59f8"/>
<circle cx="146.4" cy="83.9" r="1.2" fill="#14a1eb"/>
<circle cx="143.9" cy="77.0" r="1.2" fill="#13a5e9"/>
<circle cx="136.1" cy="83.0" r="1.2" fill="#1b8bf4"/>
<circle cx="139.5" cy="86.4" r="1.2" fill="#2e54f8"/>
<circle cx="157.9" cy="79.6" r="1.2" fill="#1a90f3"/>
<circle cx="157.8" cy="81.2" r="1.2" fill="#10b3d6"/>
<circle cx="172.3" cy="78.3" r="1.2" fill="#256cf8"/>
<circle cx="147.3" cy="83.2" r="1.2" fill="#10b4d5"/>
<circle cx="160.8" cy="78.4" r="1.2" fill="#1a8df4"/>
<circle cx="148.8" cy="81.6" r="1.2" fill="#1e80f7"/>
<circle cx="135.8" cy="79.7" r="1.2" fill="#1f7df7"/>
<circle cx="137.3" cy="87.1" r="1.2" fill="#2079f8"/>
<circle cx="135.0" cy="82.7" r="1.2" fill="#10abe5"/>
<circle cx="161.9" cy="78.7" r="1.2" fill="#2d57f8"/>
<circle cx="139.8" cy="78.9" r="1.2" fill="#256cf8"/>
<circle cx="149.7" cy="75.4" r="1.2" fill="#2e55f8"/>
<circle cx="137.2" cy="80.3" r="1.2" fill="#10ade2"/>
<circle cx="154.8" cy="82.5" r="1.2" fill="#1f7df7"/>
<circle cx="137.1" cy="83.7" r="1.2" fill="#304cf6"/>
<circle cx="162.6" cy="79.5" r="1.2" fill="#169dee"/>
<circle cx="155.4" cy="75.1" r="1.2" fill="#1a8ef4"/>
<circle cx="145.7" cy="77.8" r="1.2" fill="#169bef"/>
<circle cx="173.8" cy="79.0" r="1.2" fill="#10abe5"/>
<circle cx="138.4" cy="85.2" r="1.2" fill="#2177f8"/>
<circle cx="152.8" cy="74.4" r="1.2" fill="#11aae6"/>
<circle cx="137.7" cy="80.9" r="1.2" fill="#246ef8"/>
<circle cx="166.4" cy="78.3" r="1.2" fill="#11a8e6"/>
<circle cx="132.8" cy="87.7" r="1.2" fill="#1798f1"/>
<circle cx="151.6" cy="74.9" r="1.2" fill="#10afde"/>
<circle cx="134.2" cy="85.3" r="1.2" fill="#2669f8"/>
<circle cx="137.4" cy="86.2" r="1.2" fill="#207bf8"/>
<circle cx="150.4" cy="83.5" r="1.2" fill="#266bf8"/>
<circle cx="163.7" cy="80.2" r="1.2" fill="#256bf8"/>
<circle cx="132.5" cy="87.3" r="1.2" fill="#2e55f8"/>
<circle cx="154.0" cy="80.7" r="1.2" fill="#3247f4"/>
<circle cx="137.9" cy="87.2" r="1.2" fill="#1a8ef4"/>
<circle cx="132.4" cy="84.7" r="1.2" fill="#3246f4"/>
<circle cx="147.6" cy="80.5" r="1.2" fill="#10b2d8"/>
<circle cx="155.6" cy="76.1" r="1.2" fill="#1b8bf4"/>
<circle cx="152.2" cy="76.2" r="1.2" fill="#2079f8"/>
<circle cx="164.0" cy="73.9" r="1.2" fill="#10afde"/>
<circle cx="170.1" cy="77.8" r="1.2" fill="#3246f4"/>
<circle cx="166.8" cy="79.7" r="1.2" fill="#10b4d4"/>
<circle cx="158.0" cy="79.7" r="1.2" fill="#10afde"/>
<circle cx="150.1" cy="80.3" r="1.2" fill="#1994f3"/>
<circle cx="142.7" cy="75.4" r="1.2" fill="#1994f3"/>
<circle cx="167.5" cy="77.7" r="1.2" fill="#10ade3"/>
<circle cx="133.3" cy="82.8" r="1.2" fill="#3341f3"/>
<circle cx="169.9" cy="78.7" r="1.2" fill="#207af8"/>
<circle cx="155.0" cy="81.3" r="1.2" fill="#1798f1"/>
<circle cx="143.1" cy="76.5" r="1.2" fill="#10aedf"/>
<circle cx="142.7" cy="81.7" r="1.2" fill="#11a9e6"/>
<circle cx="156.3" cy="73.5" r="1.2" fill="#314af5"/>
<circle cx="153.5" cy="82.8" r="1.2" fill="#1897f1"/>
<circle cx="171.4" cy="77.5" r="1.2" fill="#304df6"/>
<circle cx="141.1" cy="85.5" r="1.2" fill="#266af8"/>
<circle cx="137.8" cy="77.6" r="1.2" fill="#1c87f5"/>
<circle cx="162.2" cy="78.1" r="1.2" fill="#10ade2"/>
<circle cx="134.2" cy="80.5" r="1.2" fill="#207af8"/>
<circle cx="142.6" cy="85.9" r="1.2" fill="#10aee0"/>
<circle cx="129.9" cy="83.1" r="1.2" fill="#169bef"/>
<circle cx="173.1" cy="76.3" r="1.2" fill="#2e53f8"/>
<circle cx="134.0" cy="83.1" r="1.2" fill="#2e54f8"/>
<circle cx="128.3" cy="85.5" r="0.9" fill="#3a2aec"/>
<circle cx="129.0" cy="85.4" r="0.9" fill="#3a2aec"/>
<circle cx="129.8" cy="85.4" r="0.9" fill="#3a2aec"/>
<circle cx="130.5" cy="85.3" r="0.9" fill="#3a2aec"/>
<circle cx="131.2" cy="85.2" r="0.9" fill="#3a2aec"/>
<circle cx="132.0" cy="85.2" r="0.9" fill="#3a2aec"/>
<circle cx="132.7" cy="85.1" r="0.9" fill="#3a2aec"/>
<circle cx="133.4" cy="85.1" r="0.9" fill="#3a2aec"/>
<circle cx="134.2" cy="85.0" r="0.9" fill="#3a2aec"/>
<circle cx="134.9" cy="84.9" r="0.9" fill="#3a2aec"/>
<circle cx="135.6" cy="84.9" r="0.9" fill="#3a2aec"/>
<circle cx="136.3" cy="84.8" r="0.9" fill="#3a2aec"/>
<circle cx="137.1" cy="84.8" r="0.9" fill="#3a2aec"/>
<circle cx="137.8" cy="84.7" r="0.9" fill="#3a2aec"/>
<circle cx="138.5" cy="84.6" r="0.9" fill="#3a2aec"/>
<circle cx="139.3" cy="84.6" r="0.9" fill="#3a2aec"/>
<circle cx="140.0" cy="84.5" r="0.9" fill="#3a2aec"/>
<circle cx="140.7" cy="84.3" r="0.9" fill="#392ced"/>
<circle cx="141.4" cy="84.1" r="0.9" fill="#392eed"/>
<circle cx="142.1" cy="83.8" r="0.9" fill="#3830ee"/>
<circle cx="142.8" cy="83.6" r="0.9" fill="#3832ee"/>
<circle cx="143.5" cy="83.4" r="0.9" fill="#3734ef"/>
<circle cx="144.1" cy="83.2" r="0.9" fill="#3735ef"/>
<circle cx="144.8" cy="83.0" r="0.9" fill="#3637f0"/>
<circle cx="145.5" cy="82.8" r="0.9" fill="#3639f0"/>
<circle cx="146.2" cy="82.5" r="0.9" fill="#353bf1"/>
<circle cx="146.9" cy="82.3" r="0.9" fill="#353df1"/>
<circle cx="147.6" cy="82.1" r="0.9" fill="#343ff2"/>
<circle cx="148.3" cy="81.8" r="0.9" fill="#343ff2"/>
<circle cx="149.0" cy="81.6" r="0.9" fill="#343ff2"/>
<circle cx="149.7" cy="81.3" r="0.9" fill="#343ff2"/>
<circle cx="150.4" cy="81.0" r="0.9" fill="#343ff2"/>
<circle cx="151.0" cy="80.7" r="0.9" fill="#343ff2"/>
<circle cx="151.7" cy="80.5" r="0.9" fill="#343ff2"/>
<circle cx="152.4" cy="80.2" r="0.9" fill="#343ff2"/>
<circle cx="153.1" cy="79.9" r="0.9" fill="#343ff2"/>
<circle cx="153.8" cy="79.7" r="0.9" fill="#343ff2"/>
<circle cx="154.5" cy="79.4" r="0.9" fill="#343ff2"/>
<circle cx="155.2" cy="79.1" r="0.9" fill="#343ff2"/>
<circle cx="155.9" cy="78.9" r="0.9" fill="#343ff2"/>
<circle cx="156.5" cy="78.6" r="0.9" fill="#343ff2"/>
<circle cx="157.2" cy="78.3" r="0.9" fill="#343ff2"/>
<circle cx="157.9" cy="78.0" r="0.9" fill="#343ff2"/>
<circle cx="158.6" cy="77.8" r="0.9" fill="#343ff2"/>
<circle cx="159.3" cy="77.5" r="0.9" fill="#343ff2"/>
<circle cx="162.8" cy="69.9" r="1.2" fill="#10bac8"/>
<circle cx="166.0" cy="68.0" r="1.2" fill="#10bac8"/>
<circle cx="169.2" cy="66.4" r="1.2" fill="#10bac8"/>
<circle cx="173.2" cy="65.2" r="1.2" fill="#10bac8"/>
<circle cx="176.1" cy="63.5" r="1.2" fill="#10bac8"/>
<circle cx="179.6" cy="61.2" r="1.2" fill="#10bac8"/>
<circle cx="172.3" cy="65.5" r="1.2" fill="#10bac8"/>
<circle cx="175.8" cy="63.7" r="1.2" fill="#10bac8"/>
<circle cx="179.3" cy="60.8" r="1.2" fill="#10bac8"/>
<circle cx="181.6" cy="57.9" r="1.2" fill="#10bac8"/>
<circle cx="192.7" cy="44.0" r="1.2" fill="#e8b800"/>
<circle cx="192.2" cy="44.6" r="1.2" fill="#debb06"/>
<circle cx="191.7" cy="45.1" r="1.2" fill="#d4be0b"/>
<circle cx="191.2" cy="45.7" r="1.2" fill="#cbc111"/>
<circle cx="190.6" cy="46.3" r="1.2" fill="#c1c417"/>
<circle cx="190.1" cy="46.9" r="1.2" fill="#b7c71c"/>
<circle cx="189.6" cy="47.5" r="1.2" fill="#a8c921"/>
<circle cx="189.1" cy="48.0" r="1.2" fill="#96c927"/>
<circle cx="188.6" cy="48.6" r="1.2" fill="#84ca2c"/>
<circle cx="188.9" cy="49.3" r="1.2" fill="#6ccb33"/>
<circle cx="189.2" cy="50.0" r="1.2" fill="#56cc3d"/>
<circle cx="189.4" cy="50.6" r="1.2" fill="#41cc4b"/>
<circle cx="189.7" cy="51.3" r="1.2" fill="#2dcc5a"/>
<circle cx="190.0" cy="52.0" r="1.2" fill="#18cc68"/>
<circle cx="189.2" cy="53.4" r="1.2" fill="#14c79a"/>
<circle cx="184.6" cy="54.2" r="1.2" fill="#16c88a"/>
<circle cx="190.6" cy="50.4" r="1.2" fill="#16c981"/>
<circle cx="187.7" cy="52.5" r="1.2" fill="#14c5a3"/>
<circle cx="188.7" cy="52.3" r="1.2" fill="#17cb71"/>
<circle cx="188.3" cy="53.6" r="1.2" fill="#16c986"/>
<circle cx="187.9" cy="53.9" r="1.2" fill="#15c88c"/>
<circle cx="190.3" cy="53.5" r="1.2" fill="#15c88c"/>
<circle cx="190.5" cy="51.4" r="1.2" fill="#17ca7a"/>
<circle cx="185.3" cy="53.8" r="1.2" fill="#15c88d"/>
<circle cx="185.5" cy="55.6" r="1.2" fill="#14c5a4"/>
<circle cx="190.4" cy="53.1" r="1.2" fill="#16ca7f"/>
<circle cx="188.7" cy="54.1" r="1.2" fill="#17cb74"/>
<circle cx="186.0" cy="56.2" r="1.2" fill="#12c1af"/>
<circle cx="190.2" cy="50.6" r="1.2" fill="#1dcc65"/>
<circle cx="191.6" cy="52.7" r="1.2" fill="#17ca77"/>
<circle cx="189.9" cy="53.7" r="1.2" fill="#14c69f"/>
<circle cx="190.3" cy="52.7" r="1.2" fill="#16c88a"/>
<circle cx="188.2" cy="53.9" r="1.2" fill="#14c69c"/>
<circle cx="189.0" cy="50.7" r="1.2" fill="#15c88d"/>
<circle cx="187.8" cy="53.4" r="1.2" fill="#15c797"/>
<circle cx="184.0" cy="57.9" r="1.2" fill="#12c0b4"/>
<circle cx="181.2" cy="56.8" r="1.2" fill="#12bfb8"/>
<circle cx="183.2" cy="54.6" r="1.2" fill="#12c1b1"/>
<circle cx="180.2" cy="57.1" r="1.2" fill="#11bdbe"/>
<circle cx="181.6" cy="59.3" r="1.2" fill="#11bcc3"/>
<circle cx="183.9" cy="56.6" r="1.2" fill="#14c5a4"/>
<circle cx="182.1" cy="56.0" r="1.2" fill="#13c4a5"/>
<circle cx="185.1" cy="56.3" r="1.2" fill="#15c797"/>
<circle cx="183.4" cy="54.2" r="1.2" fill="#15c793"/>
<circle cx="184.4" cy="56.5" r="1.2" fill="#13c2ad"/>
<circle cx="183.4" cy="57.4" r="1.2" fill="#11beb9"/>
<circle cx="184.4" cy="56.8" r="1.2" fill="#13c3ab"/>
<circle cx="181.9" cy="55.8" r="1.2" fill="#13c4a6"/>
<circle cx="181.1" cy="56.5" r="1.2" fill="#12c0b2"/>
<circle cx="183.4" cy="57.4" r="1.2" fill="#14c69f"/>
<circle cx="179.7" cy="57.4" r="1.2" fill="#12c1b2"/>
<circle cx="185.4" cy="56.6" r="1.2" fill="#15c794"/>
<circle cx="180.5" cy="58.5" r="1.2" fill="#13c4a8"/>
<circle cx="179.8" cy="58.0" r="1.2" fill="#11beba"/>
<circle cx="177.6" cy="61.5" r="1.2" fill="#11bcc3"/>
<circle cx="178.2" cy="62.5" r="1.2" fill="#10b9ca"/>
<circle cx="178.9" cy="59.6" r="1.2" fill="#13c2af"/>
<circle cx="176.5" cy="63.2" r="1.2" fill="#10bbc5"/>
<circle cx="177.0" cy="62.8" r="1.2" fill="#10b7cd"/>
<circle cx="176.9" cy="62.5" r="1.2" fill="#11bdbd"/>
<circle cx="178.2" cy="58.8" r="1.2" fill="#11bcc1"/>
<circle cx="177.3" cy="60.8" r="1.2" fill="#12c0b2"/>
<circle cx="173.8" cy="62.2" r="1.2" fill="#11bcc1"/>
<circle cx="180.2" cy="60.2" r="1.2" fill="#12bfb8"/>
<circle cx="173.6" cy="62.8" r="1.2" fill="#10b7cf"/>
<circle cx="176.9" cy="59.3" r="1.2" fill="#11bdbd"/>
<circle cx="174.0" cy="61.9" r="1.2" fill="#11bdbd"/>
<circle cx="175.9" cy="61.4" r="1.2" fill="#10bac7"/>
<circle cx="178.3" cy="58.3" r="1.2" fill="#10bac9"/>
<circle cx="178.1" cy="59.9" r="1.2" fill="#13c2ad"/>
<circle cx="179.3" cy="60.7" r="1.2" fill="#12c1b0"/>
<circle cx="178.2" cy="60.7" r="1.2" fill="#11bcc2"/>
<circle cx="178.8" cy="58.0" r="1.2" fill="#12c0b2"/>
<circle cx="180.8" cy="60.2" r="1.2" fill="#10bbc4"/>
<circle cx="177.0" cy="59.6" r="1.2" fill="#10bac9"/>
<circle cx="179.0" cy="60.6" r="1.2" fill="#11bebb"/>
<circle cx="194.8" cy="53.2" r="1.2" fill="#18cb6d"/>
<circle cx="190.5" cy="52.6" r="1.2" fill="#17cb6f"/>
<circle cx="191.0" cy="52.8" r="1.2" fill="#16c983"/>
<circle cx="188.3" cy="52.6" r="1.2" fill="#14c69c"/>
<circle cx="186.5" cy="54.6" r="1.2" fill="#15c799"/>
<circle cx="186.5" cy="51.0" r="1.2" fill="#15c88c"/>
<circle cx="184.6" cy="52.2" r="1.2" fill="#16ca7e"/>
<circle cx="192.1" cy="55.2" r="1.2" fill="#14c79b"/>
<circle cx="191.7" cy="51.2" r="1.2" fill="#15c88d"/>
<circle cx="190.9" cy="55.0" r="1.2" fill="#17ca7a"/>
<circle cx="195.8" cy="50.1" r="1.2" fill="#15c88e"/>
<circle cx="189.8" cy="50.2" r="1.2" fill="#14c69d"/>
<circle cx="188.4" cy="53.4" r="1.2" fill="#15c798"/>
<circle cx="184.8" cy="51.9" r="1.2" fill="#17ca76"/>
<circle cx="191.3" cy="55.3" r="1.2" fill="#16c980"/>
<circle cx="189.8" cy="52.5" r="1.2" fill="#14c69c"/>
<circle cx="184.8" cy="54.0" r="1.2" fill="#17cb70"/>
<circle cx="184.2" cy="51.1" r="1.2" fill="#15c88e"/>
<circle cx="187.8" cy="55.0" r="1.2" fill="#15c892"/>
<circle cx="187.7" cy="52.9" r="1.2" fill="#18cc6b"/>
<circle cx="187.5" cy="53.8" r="1.2" fill="#14c69d"/>
<circle cx="189.2" cy="55.6" r="1.2" fill="#15c794"/>
<circle cx="188.3" cy="53.9" r="1.2" fill="#16c980"/>
<circle cx="190.9" cy="53.7" r="1.2" fill="#17ca7a"/>
<circle cx="187.9" cy="52.1" r="1.2" fill="#16c88a"/>
<circle cx="207.2" cy="60.3" r="2.0" fill="#2dcc5a"/>
<circle cx="206.5" cy="60.6" r="2.0" fill="#28cc5d"/>
<circle cx="205.8" cy="61.0" r="2.0" fill="#24cc5f"/>
<circle cx="205.1" cy="61.3" r="2.0" fill="#20cc62"/>
<circle cx="204.4" cy="61.7" r="2.0" fill="#1ccc65"/>
<circle cx="203.7" cy="62.0" r="2.0" fill="#18cc68"/>
<circle cx="203.6" cy="62.8" r="2.0" fill="#18cc6c"/>
<circle cx="203.4" cy="63.6" r="2.0" fill="#17cb70"/>
<circle cx="203.3" cy="64.4" r="2.0" fill="#17cb75"/>
<circle cx="203.1" cy="65.2" r="2.0" fill="#17ca79"/>
<circle cx="203.0" cy="66.0" r="2.0" fill="#16ca7d"/>
<circle cx="203.0" cy="66.8" r="2.0" fill="#16c981"/>
<circle cx="203.0" cy="67.6" r="2.0" fill="#16c985"/>
<circle cx="203.0" cy="68.4" r="2.0" fill="#16c88a"/>
<circle cx="203.0" cy="69.2" r="2.0" fill="#15c88e"/>
<circle cx="203.0" cy="70.0" r="2.0" fill="#15c892"/>
<circle cx="202.9" cy="70.8" r="2.0" fill="#15c794"/>
<circle cx="202.9" cy="71.5" r="2.0" fill="#15c796"/>
<circle cx="202.8" cy="72.3" r="2.0" fill="#15c798"/>
<circle cx="202.8" cy="73.1" r="2.0" fill="#14c79a"/>
<circle cx="202.7" cy="73.9" r="2.0" fill="#14c69c"/>
<circle cx="202.7" cy="74.6" r="2.0" fill="#14c69e"/>
<circle cx="202.6" cy="75.4" r="2.0" fill="#14c6a0"/>
<circle cx="202.5" cy="62.5" r="1.2" fill="#22cc61"/>
<circle cx="205.1" cy="64.6" r="1.2" fill="#16c97f"/>
<circle cx="203.3" cy="67.1" r="1.2" fill="#16c980"/>
<circle cx="201.0" cy="69.7" r="1.2" fill="#27cc5e"/>
<circle cx="204.8" cy="72.5" r="1.2" fill="#15c796"/>
<circle cx="202.9" cy="70.3" r="1.2" fill="#17cb70"/>
<circle cx="205.1" cy="66.8" r="1.2" fill="#18cc6a"/>
<circle cx="203.5" cy="73.3" r="1.2" fill="#13c4a5"/>
<circle cx="206.0" cy="61.1" r="1.2" fill="#15c88d"/>
<circle cx="203.5" cy="62.5" r="1.2" fill="#16c988"/>
<circle cx="207.2" cy="60.1" r="1.2" fill="#14c69e"/>
<circle cx="203.0" cy="74.6" r="1.2" fill="#18cb6d"/>
<circle cx="201.1" cy="69.4" r="1.2" fill="#14c69f"/>
<circle cx="206.5" cy="68.7" r="1.2" fill="#18cc6b"/>
<circle cx="201.6" cy="73.5" r="1.2" fill="#16c889"/>
<circle cx="207.5" cy="61.2" r="1.2" fill="#13c4a5"/>
<circle cx="203.7" cy="74.9" r="1.2" fill="#16c987"/>
<circle cx="204.1" cy="62.2" r="1.2" fill="#16c981"/>
<circle cx="203.3" cy="74.2" r="1.2" fill="#17cb70"/>
<circle cx="203.8" cy="62.0" r="1.2" fill="#14c6a1"/>
<circle cx="201.5" cy="72.9" r="1.2" fill="#14c69c"/>
<circle cx="203.6" cy="74.0" r="1.2" fill="#14c5a3"/>
<circle cx="200.9" cy="65.7" r="1.2" fill="#15c793"/>
<circle cx="203.9" cy="66.8" r="1.2" fill="#17cb70"/>
<circle cx="202.2" cy="69.1" r="1.2" fill="#15c794"/>
<circle cx="206.3" cy="62.4" r="1.2" fill="#16c985"/>
<circle cx="203.5" cy="67.1" r="1.2" fill="#16c981"/>
<circle cx="204.3" cy="64.7" r="1.2" fill="#18cc69"/>
<circle cx="205.2" cy="71.4" r="1.2" fill="#15c793"/>
<circle cx="204.8" cy="67.1" r="1.2" fill="#16c985"/>
<circle cx="203.0" cy="68.3" r="1.2" fill="#14c69c"/>
<circle cx="201.7" cy="62.8" r="1.2" fill="#17ca7c"/>
<circle cx="201.7" cy="72.4" r="1.2" fill="#21cc62"/>
<circle cx="206.3" cy="64.9" r="1.2" fill="#25cc5f"/>
<circle cx="202.6" cy="65.5" r="1.2" fill="#17ca7c"/>
<circle cx="205.4" cy="66.2" r="1.2" fill="#18cc6c"/>
<circle cx="207.2" cy="64.3" r="1.2" fill="#14c79b"/>
<circle cx="203.1" cy="71.0" r="1.2" fill="#17cb76"/>
<circle cx="201.1" cy="65.9" r="1.2" fill="#20cc62"/>
<circle cx="205.0" cy="65.8" r="1.2" fill="#17cb72"/>
<circle cx="202.1" cy="66.7" r="1.2" fill="#18cc6a"/>
<circle cx="200.3" cy="66.2" r="1.2" fill="#14c6a1"/>
<circle cx="204.3" cy="71.6" r="1.2" fill="#2bcc5b"/>
<circle cx="206.3" cy="61.9" r="1.2" fill="#16c889"/>
<circle cx="204.4" cy="70.0" r="1.2" fill="#17cb73"/>
<circle cx="170.0" cy="74.8" r="1.2" fill="#10b7ce"/>
<circle cx="174.0" cy="74.5" r="1.2" fill="#10b7ce"/>
<circle cx="178.0" cy="74.2" r="1.2" fill="#10b7ce"/>
<circle cx="184.0" cy="73.6" r="1.2" fill="#10b7ce"/>
<circle cx="188.0" cy="72.5" r="1.2" fill="#10b7ce"/>
<circle cx="193.3" cy="71.3" r="1.2" fill="#10b7ce"/>
<circle cx="199.0" cy="70.1" r="1.2" fill="#10b7ce"/>
<circle cx="174.4" cy="74.0" r="1.2" fill="#10b7ce"/>
<circle cx="180.0" cy="73.0" r="1.2" fill="#10b7ce"/>
<circle cx="186.0" cy="72.2" r="1.2" fill="#10b7ce"/>
<circle cx="196.0" cy="71.0" r="1.2" fill="#10b7ce"/>
<circle cx="203.7" cy="81.1" r="1.1" fill="#9cc925"/>
<circle cx="204.4" cy="81.3" r="1.1" fill="#a9c921"/>
<circle cx="205.1" cy="81.4" r="1.1" fill="#b5c81d"/>
<circle cx="205.8" cy="81.6" r="1.1" fill="#bdc519"/>
<circle cx="206.5" cy="81.8" r="1.1" fill="#c4c315"/>
<circle cx="207.3" cy="81.9" r="1.1" fill="#cbc111"/>
<circle cx="208.0" cy="82.1" r="1.1" fill="#d2bf0d"/>
<circle cx="208.7" cy="82.3" r="1.1" fill="#dabc08"/>
<circle cx="209.4" cy="82.4" r="1.1" fill="#e1ba04"/>
<circle cx="210.1" cy="82.6" r="1.1" fill="#e8b800"/>
<circle cx="177.5" cy="79.9" r="1.2" fill="#1e81f6"/>
<circle cx="164.3" cy="94.9" r="1.2" fill="#1e80f7"/>
<circle cx="182.3" cy="81.1" r="1.2" fill="#10afdf"/>
<circle cx="165.9" cy="92.9" r="1.2" fill="#11a9e6"/>
<circle cx="183.9" cy="79.2" r="1.2" fill="#1d85f6"/>
<circle cx="180.2" cy="90.3" r="1.2" fill="#2767f8"/>
<circle cx="171.5" cy="84.0" r="1.2" fill="#13a4e9"/>
<circle cx="172.8" cy="84.4" r="1.2" fill="#1994f2"/>
<circle cx="180.8" cy="86.1" r="1.2" fill="#1799f0"/>
<circle cx="184.4" cy="85.3" r="1.2" fill="#10ace4"/>
<circle cx="181.6" cy="90.2" r="1.2" fill="#10aedf"/>
<circle cx="181.4" cy="87.5" r="1.2" fill="#1897f1"/>
<circle cx="170.8" cy="93.8" r="1.2" fill="#2275f8"/>
<circle cx="179.8" cy="85.7" r="1.2" fill="#2768f8"/>
<circle cx="168.9" cy="86.4" r="1.2" fill="#2d58f8"/>
<circle cx="174.6" cy="89.1" r="1.2" fill="#2961f8"/>
<circle cx="176.7" cy="90.5" r="1.2" fill="#10b0db"/>
<circle cx="179.9" cy="87.9" r="1.2" fill="#1d86f5"/>
<circle cx="174.8" cy="91.7" r="1.2" fill="#1c89f5"/>
<circle cx="186.8" cy="84.4" r="1.2" fill="#2961f8"/>
<circle cx="163.3" cy="95.1" r="1.2" fill="#2963f8"/>
<circle cx="180.3" cy="78.8" r="1.2" fill="#1a90f3"/>
<circle cx="188.2" cy="81.7" r="1.2" fill="#1f7cf8"/>
<circle cx="179.0" cy="88.5" r="1.2" fill="#1895f2"/>
<circle cx="178.5" cy="82.5" r="1.2" fill="#179af0"/>
<circle cx="173.6" cy="82.4" r="1.2" fill="#10b3d6"/>
<circle cx="170.0" cy="96.4" r="1.2" fill="#1b8df4"/>
<circle cx="176.6" cy="82.4" r="1.2" fill="#256bf8"/>
<circle cx="181.9" cy="86.1" r="1.2" fill="#1897f1"/>
<circle cx="180.7" cy="85.3" r="1.2" fill="#159fec"/>
<circle cx="178.5" cy="86.5" r="1.2" fill="#169bef"/>
<circle cx="164.6" cy="96.5" r="1.2" fill="#10aee1"/>
<circle cx="185.6" cy="82.2" r="1.2" fill="#11abe5"/>
<circle cx="184.5" cy="87.8" r="1.2" fill="#207cf8"/>
<circle cx="163.3" cy="97.0" r="1.2" fill="#10b3d6"/>
<circle cx="181.2" cy="89.1" r="1.2" fill="#169bef"/>
<circle cx="173.9" cy="89.2" r="1.2" fill="#1992f3"/>
<circle cx="178.3" cy="90.6" r="1.2" fill="#256df8"/>
<circle cx="169.5" cy="92.7" r="1.2" fill="#266af8"/>
<circle cx="164.7" cy="94.3" r="1.2" fill="#2a60f8"/>
<circle cx="170.9" cy="90.8" r="1.2" fill="#1895f2"/>
<circle cx="177.9" cy="82.0" r="1.2" fill="#10ace4"/>
<circle cx="168.2" cy="95.7" r="1.2" fill="#2d57f8"/>
<circle cx="178.9" cy="82.6" r="1.2" fill="#1b8df4"/>
<circle cx="173.5" cy="93.2" r="1.2" fill="#256df8"/>
<circle cx="173.3" cy="94.0" r="1.2" fill="#1e81f7"/>
<circle cx="171.0" cy="95.2" r="1.2" fill="#10b3d7"/>
<circle cx="184.5" cy="81.6" r="1.2" fill="#10b0dc"/>
<circle cx="171.3" cy="94.4" r="1.2" fill="#1f7ef7"/>
<circle cx="169.7" cy="92.5" r="1.2" fill="#14a0ec"/>
<circle cx="183.8" cy="86.1" r="1.2" fill="#10ace3"/>
<circle cx="164.1" cy="94.1" r="1.2" fill="#169cee"/>
<circle cx="173.5" cy="87.3" r="1.2" fill="#2961f8"/>
<circle cx="167.5" cy="88.5" r="1.2" fill="#256cf8"/>
<circle cx="171.1" cy="89.9" r="1.2" fill="#1798f1"/>
<circle cx="177.2" cy="85.4" r="1.2" fill="#13a4e9"/>
<circle cx="169.1" cy="89.3" r="1.2" fill="#169bef"/>
<circle cx="178.5" cy="82.3" r="1.2" fill="#11aae5"/>
<circle cx="163.3" cy="92.7" r="1.2" fill="#2768f8"/>
<circle cx="174.1" cy="92.0" r="1.2" fill="#207af8"/>
<circle cx="184.9" cy="85.1" r="1.2" fill="#10b2d9"/>
<circle cx="164.0" cy="92.3" r="1.2" fill="#10b2d9"/>
<circle cx="175.3" cy="93.8" r="1.2" fill="#2373f8"/>
<circle cx="176.7" cy="89.4" r="1.2" fill="#10abe4"/>
<circle cx="186.5" cy="80.4" r="1.2" fill="#169aef"/>
<circle cx="187.2" cy="82.0" r="1.2" fill="#1798f0"/>
<circle cx="181.7" cy="83.2" r="1.2" fill="#10b3d7"/>
<circle cx="185.8" cy="83.5" r="1.2" fill="#207cf8"/>
<circle cx="169.8" cy="95.2" r="1.2" fill="#2470f8"/>
<circle cx="179.8" cy="87.2" r="1.2" fill="#12a7e7"/>
<circle cx="176.2" cy="91.3" r="1.2" fill="#1895f2"/>
<circle cx="174.2" cy="87.8" r="1.2" fill="#256ef8"/>
<circle cx="187.0" cy="80.9" r="1.2" fill="#246ef8"/>
<circle cx="181.3" cy="90.4" r="1.2" fill="#2d57f8"/>
<circle cx="188.3" cy="78.7" r="1.2" fill="#1993f3"/>
<circle cx="176.4" cy="87.7" r="1.2" fill="#2079f8"/>
<circle cx="172.2" cy="95.0" r="1.2" fill="#2470f8"/>
<circle cx="172.3" cy="94.6" r="1.2" fill="#14a2ea"/>
<circle cx="187.3" cy="78.3" r="1.2" fill="#159fec"/>
<circle cx="172.1" cy="82.4" r="1.2" fill="#2c5af8"/>
<circle cx="166.0" cy="91.1" r="1.2" fill="#10b1da"/>
<circle cx="188.2" cy="77.5" r="1.2" fill="#1896f2"/>
<circle cx="176.5" cy="80.2" r="1.2" fill="#2a60f8"/>
<circle cx="186.0" cy="77.8" r="1.2" fill="#1897f1"/>
<circle cx="187.1" cy="78.3" r="1.2" fill="#1f7ff7"/>
<circle cx="174.7" cy="87.2" r="1.2" fill="#1e82f6"/>
<circle cx="171.7" cy="89.4" r="1.2" fill="#2962f8"/>
<circle cx="181.3" cy="89.0" r="1.2" fill="#11a8e7"/>
<circle cx="179.4" cy="92.3" r="1.2" fill="#10b0db"/>
<circle cx="174.1" cy="87.2" r="1.2" fill="#10aee1"/>
<circle cx="181.0" cy="82.5" r="1.2" fill="#1797f1"/>
<circle cx="181.3" cy="91.3" r="1.2" fill="#14a2ea"/>
<circle cx="175.2" cy="84.7" r="1.2" fill="#10b1da"/>
<circle cx="179.4" cy="90.3" r="1.2" fill="#2371f8"/>
<circle cx="182.9" cy="80.4" r="1.2" fill="#1e82f6"/>
<circle cx="174.0" cy="93.2" r="1.2" fill="#1b8cf4"/>
<circle cx="177.4" cy="88.3" r="1.2" fill="#10b0dd"/>
<circle cx="176.7" cy="89.4" r="1.2" fill="#159eed"/>
<circle cx="167.4" cy="96.3" r="1.2" fill="#1e80f7"/>
<circle cx="176.7" cy="89.4" r="1.2" fill="#266af8"/>
<circle cx="186.0" cy="81.4" r="1.2" fill="#10b0dc"/>
<circle cx="173.6" cy="93.8" r="1.2" fill="#1799f0"/>
<circle cx="182.2" cy="85.2" r="1.2" fill="#1a90f3"/>
<circle cx="188.7" cy="78.6" r="1.2" fill="#11aae5"/>
<circle cx="183.2" cy="80.2" r="1.2" fill="#1c88f5"/>
<circle cx="175.7" cy="87.1" r="1.2" fill="#266bf8"/>
<circle cx="177.1" cy="82.7" r="1.2" fill="#1e81f6"/>
<circle cx="181.8" cy="81.5" r="1.2" fill="#2d57f8"/>
<circle cx="180.4" cy="82.3" r="1.2" fill="#10ade2"/>
<circle cx="165.0" cy="96.9" r="1.2" fill="#12a8e7"/>
<circle cx="185.4" cy="79.2" r="1.2" fill="#2768f8"/>
<circle cx="174.6" cy="91.8" r="1.2" fill="#2470f8"/>
<circle cx="178.5" cy="79.2" r="1.2" fill="#10aee0"/>
<circle cx="185.3" cy="85.8" r="1.2" fill="#1e80f7"/>
<circle cx="173.2" cy="91.2" r="1.2" fill="#14a2ea"/>
<circle cx="173.5" cy="82.3" r="1.2" fill="#2768f8"/>
<circle cx="161.6" cy="96.2" r="1.2" fill="#10b1d9"/>
<circle cx="190.1" cy="79.9" r="1.2" fill="#14a1eb"/>
<circle cx="186.1" cy="79.3" r="1.2" fill="#246ff8"/>
<circle cx="189.3" cy="81.7" r="1.2" fill="#1799f0"/>
<circle cx="193.3" cy="88.3" r="1.2" fill="#10b0dc"/>
<circle cx="188.4" cy="89.1" r="1.2" fill="#13a4e9"/>
<circle cx="189.2" cy="86.9" r="1.2" fill="#10afde"/>
<circle cx="188.9" cy="84.9" r="1.2" fill="#10b2d9"/>
<circle cx="189.5" cy="87.5" r="1.2" fill="#11aae5"/>
<circle cx="193.2" cy="84.5" r="1.2" fill="#10aee1"/>
<circle cx="190.4" cy="86.8" r="1.2" fill="#13a5e9"/>
<circle cx="188.2" cy="88.3" r="1.2" fill="#11aae5"/>
<circle cx="190.3" cy="85.6" r="1.2" fill="#10b3d7"/>
<circle cx="193.4" cy="85.6" r="1.2" fill="#11a9e6"/>
<circle cx="127.7" cy="85.6" r="1.2" fill="#3342f3"/>
<circle cx="137.6" cy="84.8" r="1.2" fill="#207af8"/>
<circle cx="136.2" cy="84.6" r="1.2" fill="#1e81f6"/>
<circle cx="137.1" cy="86.0" r="1.2" fill="#256ef8"/>
<circle cx="138.2" cy="84.8" r="1.2" fill="#1b8cf4"/>
<circle cx="138.6" cy="88.2" r="1.2" fill="#1e80f7"/>
<circle cx="133.1" cy="88.2" r="1.2" fill="#2276f8"/>
<circle cx="132.8" cy="88.6" r="1.2" fill="#1c89f5"/>
<circle cx="135.5" cy="88.9" r="1.2" fill="#2f50f7"/>
<circle cx="134.3" cy="87.5" r="1.2" fill="#1d86f5"/>
<circle cx="128.7" cy="87.1" r="1.2" fill="#1f7df7"/>
<circle cx="130.1" cy="88.1" r="1.2" fill="#1e82f6"/>
<circle cx="132.3" cy="90.5" r="1.2" fill="#2c59f8"/>
<circle cx="128.3" cy="83.5" r="1.2" fill="#2d56f8"/>
<circle cx="140.4" cy="88.0" r="1.2" fill="#2864f8"/>
<circle cx="136.3" cy="87.4" r="1.2" fill="#1992f3"/>
<circle cx="132.3" cy="85.5" r="1.2" fill="#1f7ef7"/>
<circle cx="138.9" cy="88.7" r="1.2" fill="#3637f0"/>
<circle cx="136.1" cy="84.4" r="1.2" fill="#3246f4"/>
<circle cx="138.7" cy="83.0" r="1.2" fill="#1991f3"/>
<circle cx="133.5" cy="89.0" r="1.2" fill="#3a29ea"/>
<circle cx="136.5" cy="82.4" r="1.2" fill="#2c59f8"/>
<circle cx="139.0" cy="83.0" r="1.2" fill="#1c88f5"/>
<circle cx="135.8" cy="89.4" r="1.2" fill="#3637f0"/>
<circle cx="135.2" cy="89.9" r="1.2" fill="#1b8af5"/>
<circle cx="132.4" cy="86.6" r="1.2" fill="#1d84f6"/>
<circle cx="136.7" cy="84.9" r="1.2" fill="#1c89f5"/>
<circle cx="135.2" cy="82.9" r="1.2" fill="#392ded"/>
<circle cx="130.5" cy="84.7" r="1.2" fill="#1a90f3"/>
<circle cx="133.3" cy="83.1" r="1.2" fill="#1993f3"/>
<circle cx="129.6" cy="87.8" r="1.2" fill="#1e82f6"/>
<circle cx="134.2" cy="90.0" r="1.2" fill="#1a91f3"/>
<circle cx="131.9" cy="88.4" r="1.2" fill="#392eed"/>
<circle cx="132.9" cy="88.0" r="1.2" fill="#3247f4"/>
<circle cx="132.0" cy="88.8" r="1.2" fill="#343ef2"/>
<circle cx="130.0" cy="103.3" r="1.1" fill="#e8b800"/>
<circle cx="130.7" cy="103.1" r="1.1" fill="#e4b903"/>
<circle cx="131.3" cy="102.9" r="1.1" fill="#dfbb05"/>
<circle cx="132.0" cy="102.6" r="1.1" fill="#dbbc08"/>
<circle cx="132.7" cy="102.4" r="1.1" fill="#d7bd0a"/>
<circle cx="133.3" cy="102.2" r="1.1" fill="#d2bf0d"/>
<circle cx="134.0" cy="102.0" r="1.1" fill="#cec00f"/>
<circle cx="134.7" cy="101.8" r="1.1" fill="#cac111"/>
<circle cx="135.3" cy="101.5" r="1.1" fill="#c5c314"/>
<circle cx="136.0" cy="101.3" r="1.1" fill="#c1c416"/>
<circle cx="136.7" cy="101.1" r="1.1" fill="#bdc519"/>
<circle cx="137.3" cy="100.9" r="1.1" fill="#b8c71b"/>
<circle cx="138.0" cy="100.7" r="1.1" fill="#b4c81e"/>
<circle cx="138.7" cy="100.4" r="1.1" fill="#acc820"/>
<circle cx="139.3" cy="100.2" r="1.1" fill="#a4c923"/>
<circle cx="140.0" cy="100.0" r="1.1" fill="#9cc925"/>
<circle cx="140.7" cy="99.8" r="1.1" fill="#94ca27"/>
<circle cx="141.4" cy="99.5" r="1.1" fill="#8bca2a"/>
<circle cx="142.1" cy="99.2" r="1.1" fill="#83ca2c"/>
<circle cx="142.8" cy="99.0" r="1.1" fill="#7acb2e"/>
<circle cx="143.4" cy="98.8" r="1.1" fill="#72cb31"/>
<circle cx="144.1" cy="98.5" r="1.1" fill="#6acc33"/>
<circle cx="144.8" cy="98.2" r="1.1" fill="#61cc36"/>
<circle cx="145.5" cy="98.0" r="1.1" fill="#5acc3a"/>
<circle cx="146.2" cy="97.8" r="1.1" fill="#53cc3f"/>
<circle cx="146.9" cy="97.5" r="1.1" fill="#4bcc44"/>
<circle cx="147.6" cy="97.3" r="1.1" fill="#45cc49"/>
<circle cx="148.3" cy="97.1" r="1.1" fill="#3fcc4d"/>
<circle cx="149.0" cy="96.9" r="1.1" fill="#38cc51"/>
<circle cx="149.6" cy="96.7" r="1.1" fill="#32cc56"/>
<circle cx="150.3" cy="96.5" r="1.1" fill="#2ccc5a"/>
<circle cx="151.0" cy="96.3" r="1.1" fill="#25cc5f"/>
<circle cx="151.7" cy="96.1" r="1.1" fill="#1fcc63"/>
<circle cx="152.4" cy="95.9" r="1.1" fill="#19cc67"/>
<circle cx="153.1" cy="95.7" r="1.1" fill="#18cc6c"/>
<circle cx="153.7" cy="95.5" r="1.1" fill="#17cb70"/>
<circle cx="154.4" cy="95.3" r="1.1" fill="#17cb74"/>
<circle cx="155.1" cy="95.1" r="1.1" fill="#17ca79"/>
<circle cx="155.8" cy="94.9" r="1.1" fill="#16ca7d"/>
<circle cx="156.7" cy="95.0" r="1.1" fill="#16c984"/>
<circle cx="157.6" cy="95.0" r="1.1" fill="#16c88b"/>
<circle cx="158.5" cy="95.1" r="1.1" fill="#15c892"/>
<circle cx="159.2" cy="94.8" r="1.1" fill="#15c797"/>
<circle cx="159.8" cy="94.5" r="1.1" fill="#14c69c"/>
<circle cx="160.4" cy="94.2" r="1.1" fill="#14c6a0"/>
<circle cx="161.1" cy="93.9" r="1.1" fill="#14c5a3"/>
<circle cx="161.8" cy="93.5" r="1.1" fill="#13c4a6"/>
<circle cx="162.4" cy="93.2" r="1.1" fill="#13c3a9"/>
<circle cx="163.1" cy="92.9" r="1.1" fill="#13c3ac"/>
<circle cx="163.7" cy="92.6" r="1.1" fill="#13c2ae"/>
<circle cx="164.3" cy="92.3" r="1.1" fill="#12c1b1"/>
<circle cx="165.0" cy="92.0" r="1.1" fill="#12c0b4"/>
<circle cx="165.6" cy="91.7" r="1.1" fill="#12c0b6"/>
<circle cx="166.2" cy="91.3" r="1.1" fill="#12bfb7"/>
<circle cx="166.8" cy="91.0" r="1.1" fill="#12bfb9"/>
<circle cx="167.4" cy="90.6" r="1.1" fill="#11beba"/>
<circle cx="168.1" cy="90.3" r="1.1" fill="#11bebc"/>
<circle cx="168.7" cy="89.9" r="1.1" fill="#11bdbd"/>
<circle cx="169.3" cy="89.6" r="1.1" fill="#11bdbf"/>
<circle cx="169.9" cy="89.2" r="1.1" fill="#11bcc0"/>
<circle cx="170.5" cy="88.9" r="1.1" fill="#11bcc2"/>
<circle cx="171.1" cy="88.6" r="1.1" fill="#10bbc4"/>
<circle cx="171.7" cy="88.2" r="1.1" fill="#10bbc5"/>
<circle cx="172.3" cy="87.9" r="1.1" fill="#10bac7"/>
<circle cx="172.9" cy="87.5" r="1.1" fill="#10bac8"/>
<circle cx="173.6" cy="87.2" r="1.1" fill="#10b9c9"/>
<circle cx="174.2" cy="86.8" r="1.1" fill="#10b9ca"/>
<circle cx="174.8" cy="86.5" r="1.1" fill="#10b8cb"/>
<circle cx="175.4" cy="86.1" r="1.1" fill="#10b8cd"/>
<circle cx="176.0" cy="85.8" r="1.1" fill="#10b7ce"/>
<circle cx="162.8" cy="100.7" r="1.2" fill="#3a2aec"/>
<circle cx="166.3" cy="94.9" r="1.2" fill="#3a2aec"/>
<circle cx="170.9" cy="105.4" r="1.2" fill="#3a2aec"/>
<circle cx="165.0" cy="96.0" r="1.2" fill="#3a2aec"/>
<circle cx="168.0" cy="97.5" r="1.2" fill="#3a2aec"/>
<circle cx="200.3" cy="81.6" r="1.0" fill="#3c21dc"/>
<circle cx="199.6" cy="81.8" r="1.0" fill="#3c22dd"/>
<circle cx="198.8" cy="82.0" r="1.0" fill="#3c22de"/>
<circle cx="198.1" cy="82.2" r="1.0" fill="#3c23df"/>
<circle cx="197.4" cy="82.4" r="1.0" fill="#3c23e0"/>
<circle cx="196.7" cy="82.5" r="1.0" fill="#3b24e1"/>
<circle cx="195.9" cy="82.7" r="1.0" fill="#3b24e2"/>
<circle cx="195.2" cy="82.9" r="1.0" fill="#3b25e3"/>
<circle cx="194.5" cy="83.1" r="1.0" fill="#3b25e4"/>
<circle cx="193.7" cy="83.3" r="1.0" fill="#3b26e5"/>
<circle cx="193.0" cy="83.5" r="1.0" fill="#3b26e6"/>
<circle cx="192.2" cy="83.6" r="1.0" fill="#3b27e7"/>
<circle cx="191.4" cy="83.6" r="1.0" fill="#3b27e8"/>
<circle cx="190.6" cy="83.7" r="1.0" fill="#3a28e8"/>
<circle cx="189.9" cy="83.8" r="1.0" fill="#3a28e9"/>
<circle cx="189.1" cy="83.9" r="1.0" fill="#3a29ea"/>
<circle cx="188.3" cy="83.9" r="1.0" fill="#3a29eb"/>
<circle cx="187.5" cy="84.0" r="1.0" fill="#3a2aec"/>
<circle cx="186.8" cy="83.8" r="1.0" fill="#392ded"/>
<circle cx="186.0" cy="83.7" r="1.0" fill="#382fee"/>
<circle cx="185.3" cy="83.5" r="1.0" fill="#3832ee"/>
<circle cx="184.6" cy="83.4" r="1.0" fill="#3734ef"/>
<circle cx="183.8" cy="83.2" r="1.0" fill="#3637f0"/>
<circle cx="183.1" cy="83.1" r="1.0" fill="#363af0"/>
<circle cx="182.3" cy="83.0" r="1.0" fill="#353cf1"/>
<circle cx="181.6" cy="82.8" r="1.0" fill="#343ff2"/>
<circle cx="180.9" cy="83.0" r="1.0" fill="#343ff2"/>
<circle cx="180.2" cy="83.3" r="1.0" fill="#343ff2"/>
<circle cx="75.7" cy="78.2" r="1.1" fill="#3e18cd"/>
<circle cx="75.7" cy="78.2" r="3.3" fill="none" stroke="#f4633c" stroke-width="1.0"/>
<circle cx="70.3" cy="104.7" r="1.1" fill="#3e18cd"/>
<circle cx="70.3" cy="104.7" r="3.3" fill="none" stroke="#f4633c" stroke-width="1.0"/>
<circle cx="70.1" cy="110.8" r="1.1" fill="#3e18cd"/>
<circle cx="70.1" cy="110.8" r="3.3" fill="none" stroke="#f4633c" stroke-width="1.0"/>
<circle cx="62.0" cy="140.0" r="1.1" fill="#3e18cd"/>
<circle cx="62.0" cy="140.0" r="3.3" fill="none" stroke="#f4633c" stroke-width="1.0"/>
<circle cx="116.9" cy="139.2" r="1.1" fill="#3e18cd"/>
<circle cx="116.9" cy="139.2" r="3.3" fill="none" stroke="#f4633c" stroke-width="1.0"/>
<circle cx="126.9" cy="138.0" r="1.1" fill="#3e18cd"/>
<circle cx="126.9" cy="138.0" r="3.3" fill="none" stroke="#f4633c" stroke-width="1.0"/>
<circle cx="143.6" cy="137.7" r="1.1" fill="#3e18cd"/>
<circle cx="143.6" cy="137.7" r="3.3" fill="none" stroke="#f4633c" stroke-width="1.0"/>
<circle cx="119.6" cy="88.7" r="1.1" fill="#3e18cd"/>
<circle cx="119.6" cy="88.7" r="3.3" fill="none" stroke="#f4633c" stroke-width="1.0"/>
<circle cx="203.2" cy="78.4" r="1.1" fill="#3e18cd"/>
<circle cx="203.2" cy="78.4" r="3.3" fill="none" stroke="#f4633c" stroke-width="1.0"/>
<path d="M62.5 50.2 L65.5 53.0" stroke="#fc4f18" stroke-width="1.0" fill="none"/>
<path d="M69.5 56.9 L62.7 54.4 L65.7 53.2 L66.7 50.2Z" fill="#fc4f18"/>
<path d="M51.5 91.6 L54.9 90.3" stroke="#fc4f18" stroke-width="1.0" fill="none"/>
<path d="M60.2 88.4 L55.0 93.4 L55.2 90.2 L53.0 88.0Z" fill="#fc4f18"/>
<path d="M90.5 93.4 L89.1 93.5" stroke="#fc4f18" stroke-width="1.0" fill="none"/>
<path d="M83.5 93.7 L90.0 90.5 L88.8 93.5 L90.2 96.3Z" fill="#fc4f18"/>
<path d="M80.0 139.8 L79.8 136.6" stroke="#fc4f18" stroke-width="1.0" fill="none"/>
<path d="M79.4 131.0 L82.7 137.4 L79.8 136.3 L77.0 137.8Z" fill="#fc4f18"/>
<path d="M92.8 150.8 L94.8 148.5" stroke="#fc4f18" stroke-width="1.0" fill="none"/>
<path d="M98.6 144.4 L96.3 151.2 L95.0 148.3 L92.0 147.3Z" fill="#fc4f18"/>
<path d="M270.5 34.2 L263.6 34.2" stroke="#fc4f18" stroke-width="1.0" fill="none"/>
<path d="M258.0 34.2 L264.6 31.3 L263.3 34.2 L264.6 37.1Z" fill="#fc4f18"/>
<circle cx="347.3" cy="55.7" r="1.1" fill="#3e18cd"/>
<circle cx="348.3" cy="56.0" r="1.1" fill="#1c88f5"/>
<circle cx="349.3" cy="56.3" r="1.1" fill="#14c6a0"/>
<circle cx="350.0" cy="56.5" r="1.1" fill="#15c892"/>
<circle cx="350.6" cy="56.8" r="1.1" fill="#16c984"/>
<circle cx="351.3" cy="57.0" r="1.1" fill="#17cb76"/>
<circle cx="352.0" cy="57.2" r="1.1" fill="#18cc68"/>
<circle cx="352.7" cy="57.4" r="1.1" fill="#38cc52"/>
<circle cx="353.3" cy="57.7" r="1.1" fill="#59cc3b"/>
<circle cx="354.0" cy="57.9" r="1.1" fill="#7dcb2e"/>
<circle cx="354.7" cy="58.2" r="1.1" fill="#a3c923"/>
<circle cx="355.4" cy="58.4" r="1.1" fill="#bfc518"/>
<circle cx="356.0" cy="58.7" r="1.1" fill="#d4be0c"/>
<circle cx="356.7" cy="58.9" r="1.1" fill="#e8b800"/>
<circle cx="332.8" cy="90.2" r="1.1" fill="#3d1cd3"/>
<circle cx="333.6" cy="90.1" r="1.1" fill="#3d1dd6"/>
<circle cx="334.4" cy="90.0" r="1.1" fill="#3d1ed8"/>
<circle cx="335.2" cy="89.8" r="1.1" fill="#3c20da"/>
<circle cx="336.0" cy="89.7" r="1.1" fill="#3c21dc"/>
<circle cx="336.7" cy="89.6" r="1.1" fill="#2c59f8"/>
<circle cx="337.4" cy="89.5" r="1.1" fill="#1a8ff3"/>
<circle cx="338.2" cy="89.3" r="1.1" fill="#10b1da"/>
<circle cx="338.9" cy="89.2" r="1.1" fill="#14c6a0"/>
<circle cx="339.6" cy="89.1" r="1.1" fill="#15c798"/>
<circle cx="340.4" cy="89.1" r="1.1" fill="#15c890"/>
<circle cx="341.1" cy="89.0" r="1.1" fill="#16c889"/>
<circle cx="341.8" cy="89.0" r="1.1" fill="#16c981"/>
<circle cx="342.6" cy="88.9" r="1.1" fill="#17ca79"/>
<circle cx="343.3" cy="88.9" r="1.1" fill="#17cb71"/>
<circle cx="344.0" cy="88.8" r="1.1" fill="#18cc6a"/>
<circle cx="344.8" cy="88.8" r="1.1" fill="#21cc62"/>
<circle cx="345.5" cy="88.7" r="1.1" fill="#2dcc5a"/>
<circle cx="346.2" cy="88.6" r="1.1" fill="#3ccc4f"/>
<circle cx="346.9" cy="88.5" r="1.1" fill="#4bcc44"/>
<circle cx="347.7" cy="88.4" r="1.1" fill="#5bcc3a"/>
<circle cx="348.4" cy="88.3" r="1.1" fill="#6ccb33"/>
<circle cx="349.1" cy="88.2" r="1.1" fill="#7ecb2d"/>
<circle cx="349.8" cy="88.1" r="1.1" fill="#90ca28"/>
<circle cx="350.5" cy="88.0" r="1.1" fill="#a2c923"/>
<circle cx="351.3" cy="87.9" r="1.1" fill="#b4c81e"/>
<circle cx="352.0" cy="87.8" r="1.1" fill="#bec518"/>
<circle cx="352.7" cy="87.7" r="1.1" fill="#c7c213"/>
<circle cx="353.4" cy="87.5" r="1.1" fill="#cdc010"/>
<circle cx="354.2" cy="87.4" r="1.1" fill="#d2bf0d"/>
<circle cx="354.9" cy="87.2" r="1.1" fill="#d8bd09"/>
<circle cx="355.6" cy="87.1" r="1.1" fill="#ddbb06"/>
<circle cx="356.4" cy="87.0" r="1.1" fill="#e3ba03"/>
<circle cx="357.1" cy="86.8" r="1.1" fill="#e8b800"/>
<circle cx="345.5" cy="91.2" r="1.0" fill="#3e18cd"/>
<circle cx="346.2" cy="91.1" r="1.0" fill="#3e19cf"/>
<circle cx="346.9" cy="90.9" r="1.0" fill="#3d1bd1"/>
<circle cx="347.6" cy="90.8" r="1.0" fill="#3d1cd4"/>
<circle cx="348.4" cy="90.6" r="1.0" fill="#3d1dd6"/>
<circle cx="349.1" cy="90.5" r="1.0" fill="#3d1ed8"/>
<circle cx="349.8" cy="90.3" r="1.0" fill="#3c20da"/>
<circle cx="350.5" cy="90.2" r="1.0" fill="#3c21dc"/>
<circle cx="351.1" cy="89.9" r="1.0" fill="#3b25e3"/>
<circle cx="351.8" cy="89.6" r="1.0" fill="#3a29ea"/>
<circle cx="352.4" cy="89.3" r="1.0" fill="#3830ee"/>
<circle cx="353.0" cy="88.9" r="1.0" fill="#3639f0"/>
<circle cx="353.6" cy="88.6" r="1.0" fill="#3342f3"/>
<circle cx="354.3" cy="88.3" r="1.0" fill="#314bf5"/>
<circle cx="354.9" cy="88.0" r="1.0" fill="#2e54f8"/>
<circle cx="357.8" cy="85.1" r="1.1" fill="#18cc68"/>
<circle cx="358.2" cy="84.5" r="1.1" fill="#1bcc66"/>
<circle cx="358.6" cy="83.8" r="1.1" fill="#1ecc64"/>
<circle cx="359.0" cy="83.2" r="1.1" fill="#21cc62"/>
<circle cx="359.5" cy="82.6" r="1.1" fill="#24cc60"/>
<circle cx="359.9" cy="82.0" r="1.1" fill="#27cc5e"/>
<circle cx="360.3" cy="81.3" r="1.1" fill="#2acc5c"/>
<circle cx="360.7" cy="80.7" r="1.1" fill="#2dcc5a"/>
<circle cx="361.4" cy="80.4" r="1.1" fill="#35cc54"/>
<circle cx="362.1" cy="80.1" r="1.1" fill="#3ecc4e"/>
<circle cx="362.9" cy="79.8" r="1.1" fill="#46cc48"/>
<circle cx="363.6" cy="79.6" r="1.1" fill="#4fcc42"/>
<circle cx="364.3" cy="79.3" r="1.1" fill="#57cc3c"/>
<circle cx="365.0" cy="79.0" r="1.1" fill="#60cc36"/>
<circle cx="365.7" cy="78.9" r="1.1" fill="#7acb2f"/>
<circle cx="366.5" cy="78.7" r="1.1" fill="#93ca27"/>
<circle cx="367.2" cy="78.6" r="1.1" fill="#adc820"/>
<circle cx="368.0" cy="78.5" r="1.1" fill="#bec518"/>
<circle cx="368.7" cy="78.4" r="1.1" fill="#ccc110"/>
<circle cx="369.5" cy="78.2" r="1.1" fill="#dabc08"/>
<circle cx="370.2" cy="78.1" r="1.1" fill="#e8b800"/>
<circle cx="360.0" cy="135.4" r="1.1" fill="#3e18cd"/>
<circle cx="359.8" cy="134.7" r="1.1" fill="#3b25e3"/>
<circle cx="359.6" cy="134.0" r="1.1" fill="#353cf1"/>
<circle cx="359.4" cy="133.3" r="1.1" fill="#2c59f8"/>
<circle cx="359.1" cy="132.7" r="1.1" fill="#2275f8"/>
<circle cx="358.9" cy="132.0" r="1.1" fill="#1b8af5"/>
<circle cx="358.7" cy="131.3" r="1.1" fill="#169cee"/>
<circle cx="358.5" cy="130.6" r="1.1" fill="#10ace4"/>
<circle cx="358.3" cy="129.9" r="1.1" fill="#10b1db"/>
<circle cx="358.2" cy="129.2" r="1.1" fill="#10b5d1"/>
<circle cx="358.0" cy="128.4" r="1.1" fill="#10bac8"/>
<circle cx="357.9" cy="127.7" r="1.1" fill="#11bebb"/>
<circle cx="357.7" cy="127.0" r="1.1" fill="#13c2ad"/>
<circle cx="357.6" cy="126.3" r="1.1" fill="#14c6a0"/>
<circle cx="357.4" cy="125.5" r="1.1" fill="#16c989"/>
<circle cx="357.3" cy="124.8" r="1.1" fill="#17cb71"/>
<circle cx="357.1" cy="124.1" r="1.1" fill="#2dcc5a"/>
<circle cx="356.8" cy="123.4" r="1.1" fill="#38cc52"/>
<circle cx="356.5" cy="122.6" r="1.1" fill="#44cc49"/>
<circle cx="356.2" cy="121.9" r="1.1" fill="#50cc41"/>
<circle cx="355.8" cy="121.2" r="1.1" fill="#5ccc39"/>
<circle cx="355.5" cy="120.5" r="1.1" fill="#69cc34"/>
<circle cx="355.2" cy="119.7" r="1.1" fill="#76cb30"/>
<circle cx="354.9" cy="119.0" r="1.1" fill="#84ca2c"/>
<circle cx="354.7" cy="118.3" r="1.1" fill="#96c927"/>
<circle cx="354.5" cy="117.7" r="1.1" fill="#a8c921"/>
<circle cx="354.3" cy="117.0" r="1.1" fill="#b7c71c"/>
<circle cx="354.0" cy="116.3" r="1.1" fill="#c1c417"/>
<circle cx="353.8" cy="115.6" r="1.1" fill="#cbc111"/>
<circle cx="353.6" cy="114.9" r="1.1" fill="#d4be0b"/>
<circle cx="353.4" cy="114.3" r="1.1" fill="#debb06"/>
<circle cx="353.2" cy="113.6" r="1.1" fill="#e8b800"/>
<circle cx="375.7" cy="144.5" r="1.1" fill="#3e18cd"/>
<circle cx="376.1" cy="143.8" r="1.1" fill="#1c88f5"/>
<circle cx="376.5" cy="143.0" r="1.1" fill="#14c6a0"/>
<circle cx="377.0" cy="142.4" r="1.1" fill="#2dcc5a"/>
<circle cx="377.4" cy="141.9" r="1.1" fill="#9cc925"/>
<circle cx="377.9" cy="141.3" r="1.1" fill="#e8b800"/>
<circle cx="437.3" cy="97.4" r="1.1" fill="#3e18cd"/>
<circle cx="436.6" cy="97.4" r="1.1" fill="#3e1ad0"/>
<circle cx="435.8" cy="97.4" r="1.1" fill="#3d1cd3"/>
<circle cx="435.1" cy="97.5" r="1.1" fill="#3d1dd6"/>
<circle cx="434.3" cy="97.5" r="1.1" fill="#3c1fd9"/>
<circle cx="433.6" cy="97.5" r="1.1" fill="#3c21dc"/>
<circle cx="432.9" cy="97.5" r="1.1" fill="#382fee"/>
<circle cx="432.1" cy="97.5" r="1.1" fill="#314af5"/>
<circle cx="431.4" cy="97.5" r="1.1" fill="#2962f8"/>
<circle cx="430.7" cy="97.5" r="1.1" fill="#207af8"/>
<circle cx="430.1" cy="98.0" r="1.1" fill="#169aef"/>
<circle cx="429.6" cy="98.4" r="1.1" fill="#10b2d9"/>
<circle cx="429.1" cy="98.8" r="1.1" fill="#12c1b0"/>
<circle cx="428.5" cy="99.3" r="1.1" fill="#18cc68"/>
<circle cx="427.8" cy="99.4" r="1.1" fill="#1ccc65"/>
<circle cx="427.1" cy="99.6" r="1.1" fill="#20cc62"/>
<circle cx="426.3" cy="99.7" r="1.1" fill="#24cc5f"/>
<circle cx="425.6" cy="99.9" r="1.1" fill="#28cc5d"/>
<circle cx="424.9" cy="100.0" r="1.1" fill="#2dcc5a"/>
<circle cx="424.2" cy="100.0" r="1.1" fill="#2fcc58"/>
<circle cx="423.4" cy="100.1" r="1.1" fill="#32cc56"/>
<circle cx="422.7" cy="100.2" r="1.1" fill="#34cc54"/>
<circle cx="422.0" cy="100.2" r="1.1" fill="#37cc53"/>
<circle cx="421.3" cy="100.2" r="1.1" fill="#39cc51"/>
<circle cx="420.6" cy="100.3" r="1.1" fill="#3ccc4f"/>
<circle cx="419.8" cy="100.4" r="1.1" fill="#3fcc4d"/>
<circle cx="419.1" cy="100.4" r="1.1" fill="#41cc4b"/>
<circle cx="418.4" cy="100.6" r="1.1" fill="#52cc40"/>
<circle cx="417.6" cy="100.7" r="1.1" fill="#63cc35"/>
<circle cx="416.9" cy="100.9" r="1.1" fill="#77cb2f"/>
<circle cx="416.2" cy="101.1" r="1.1" fill="#8bca2a"/>
<circle cx="415.5" cy="101.2" r="1.1" fill="#9ec924"/>
<circle cx="414.7" cy="101.4" r="1.1" fill="#b2c81f"/>
<circle cx="414.0" cy="101.5" r="1.1" fill="#bdc519"/>
<circle cx="413.3" cy="101.7" r="1.1" fill="#c8c212"/>
<circle cx="412.6" cy="101.9" r="1.1" fill="#d3bf0c"/>
<circle cx="411.8" cy="102.0" r="1.1" fill="#ddbb06"/>
<circle cx="411.1" cy="102.2" r="1.1" fill="#e8b800"/>
<circle cx="492.2" cy="38.0" r="1.1" fill="#3e18cd"/>
<circle cx="492.2" cy="38.7" r="1.1" fill="#3e1ad0"/>
<circle cx="492.2" cy="39.5" r="1.1" fill="#3d1bd2"/>
<circle cx="492.2" cy="40.2" r="1.1" fill="#3d1cd5"/>
<circle cx="492.2" cy="40.9" r="1.1" fill="#3d1ed7"/>
<circle cx="492.2" cy="41.7" r="1.1" fill="#3c20da"/>
<circle cx="492.2" cy="42.4" r="1.1" fill="#3c21dc"/>
<circle cx="492.0" cy="43.2" r="1.1" fill="#304ff6"/>
<circle cx="491.9" cy="44.0" r="1.1" fill="#1e81f6"/>
<circle cx="491.7" cy="44.9" r="1.1" fill="#13a4e9"/>
<circle cx="491.5" cy="45.7" r="1.1" fill="#10bac8"/>
<circle cx="490.0" cy="47.9" r="1.2" fill="#11bcc3"/>
<circle cx="489.0" cy="45.9" r="1.2" fill="#17ca7d"/>
<circle cx="492.3" cy="47.0" r="1.2" fill="#13c4a5"/>
<circle cx="492.4" cy="45.3" r="1.2" fill="#12c0b5"/>
<circle cx="491.5" cy="44.1" r="1.2" fill="#11bcc2"/>
<circle cx="492.8" cy="44.7" r="1.2" fill="#16c987"/>
<circle cx="492.9" cy="45.6" r="1.2" fill="#15c891"/>
<circle cx="492.9" cy="47.5" r="1.2" fill="#11bdbe"/>
<circle cx="491.3" cy="46.9" r="1.25" fill="#17cb76"/>
<circle cx="489.8" cy="49.0" r="1.25" fill="#17cb71"/>
<circle cx="488.8" cy="51.9" r="1.25" fill="#18cc6c"/>
<circle cx="487.3" cy="54.7" r="1.25" fill="#1acc67"/>
<circle cx="486.0" cy="58.5" r="1.25" fill="#24cc60"/>
<circle cx="485.6" cy="61.4" r="1.25" fill="#2bcc5b"/>
<circle cx="485.5" cy="61.8" r="1.2" fill="#2dcc5a"/>
<circle cx="485.1" cy="62.5" r="1.2" fill="#3dcc4e"/>
<circle cx="484.7" cy="63.2" r="1.2" fill="#4dcc43"/>
<circle cx="484.3" cy="63.8" r="1.2" fill="#5ecc37"/>
<circle cx="483.9" cy="64.5" r="1.2" fill="#71cb31"/>
<circle cx="483.5" cy="65.2" r="1.2" fill="#84ca2c"/>
<circle cx="483.3" cy="65.9" r="1.2" fill="#9cc925"/>
<circle cx="483.0" cy="66.5" r="1.2" fill="#b4c81e"/>
<circle cx="482.8" cy="67.2" r="1.2" fill="#c1c417"/>
<circle cx="482.6" cy="67.9" r="1.2" fill="#cec00f"/>
<circle cx="482.3" cy="68.5" r="1.2" fill="#dbbc08"/>
<circle cx="482.1" cy="69.2" r="1.2" fill="#e8b800"/>
<circle cx="480.5" cy="45.7" r="1.1" fill="#3a2aec"/>
<circle cx="479.5" cy="45.5" r="1.1" fill="#169cee"/>
<circle cx="478.5" cy="45.2" r="1.1" fill="#16ca7d"/>
<circle cx="477.6" cy="45.0" r="1.1" fill="#1dcc64"/>
<circle cx="476.8" cy="44.8" r="1.1" fill="#41cc4b"/>
<circle cx="476.0" cy="44.7" r="1.1" fill="#60cc36"/>
<circle cx="475.2" cy="44.7" r="1.1" fill="#84ca2c"/>
<circle cx="474.5" cy="44.6" r="1.1" fill="#a8c921"/>
<circle cx="473.7" cy="44.5" r="1.1" fill="#c1c417"/>
<circle cx="472.9" cy="44.5" r="1.1" fill="#d4be0b"/>
<circle cx="472.1" cy="44.4" r="1.1" fill="#e8b800"/>
<circle cx="488.5" cy="64.9" r="1.1" fill="#3e18cd"/>
<circle cx="488.6" cy="65.7" r="1.1" fill="#1c88f5"/>
<circle cx="488.6" cy="66.5" r="1.1" fill="#14c6a0"/>
<circle cx="488.7" cy="67.4" r="1.1" fill="#15c892"/>
<circle cx="488.7" cy="68.3" r="1.1" fill="#16c984"/>
<circle cx="488.8" cy="69.2" r="1.1" fill="#17cb76"/>
<circle cx="488.7" cy="70.0" r="1.1" fill="#17cb70"/>
<circle cx="488.6" cy="70.7" r="1.1" fill="#18cc6a"/>
<circle cx="488.5" cy="71.5" r="1.1" fill="#1ecc64"/>
<circle cx="488.4" cy="72.2" r="1.1" fill="#27cc5e"/>
<circle cx="488.3" cy="73.0" r="1.1" fill="#30cc58"/>
<circle cx="488.2" cy="73.7" r="1.1" fill="#38cc52"/>
<circle cx="488.1" cy="74.5" r="1.1" fill="#41cc4b"/>
<circle cx="488.0" cy="75.3" r="1.1" fill="#60cc36"/>
<circle cx="487.9" cy="76.1" r="1.1" fill="#84ca2c"/>
<circle cx="487.8" cy="76.8" r="1.1" fill="#a8c921"/>
<circle cx="487.7" cy="77.6" r="1.1" fill="#c1c417"/>
<circle cx="487.6" cy="78.4" r="1.1" fill="#d4be0b"/>
<circle cx="487.5" cy="79.2" r="1.1" fill="#e8b800"/>
<circle cx="347.3" cy="55.7" r="1.1" fill="#3e18cd"/>
<circle cx="347.3" cy="55.7" r="3.3" fill="none" stroke="#f4633c" stroke-width="1.0"/>
<circle cx="332.8" cy="90.2" r="1.1" fill="#3e18cd"/>
<circle cx="332.8" cy="90.2" r="3.3" fill="none" stroke="#f4633c" stroke-width="1.0"/>
<circle cx="345.5" cy="91.2" r="1.1" fill="#3e18cd"/>
<circle cx="345.5" cy="91.2" r="3.3" fill="none" stroke="#f4633c" stroke-width="1.0"/>
<circle cx="360.0" cy="135.4" r="1.1" fill="#3e18cd"/>
<circle cx="360.0" cy="135.4" r="3.3" fill="none" stroke="#f4633c" stroke-width="1.0"/>
<circle cx="375.7" cy="144.5" r="1.1" fill="#3e18cd"/>
<circle cx="375.7" cy="144.5" r="3.3" fill="none" stroke="#f4633c" stroke-width="1.0"/>
<circle cx="437.3" cy="97.4" r="1.1" fill="#3e18cd"/>
<circle cx="437.3" cy="97.4" r="3.3" fill="none" stroke="#f4633c" stroke-width="1.0"/>
<circle cx="492.2" cy="38.0" r="1.1" fill="#3e18cd"/>
<circle cx="492.2" cy="38.0" r="3.3" fill="none" stroke="#f4633c" stroke-width="1.0"/>
<circle cx="480.5" cy="45.7" r="1.1" fill="#3e18cd"/>
<circle cx="480.5" cy="45.7" r="3.3" fill="none" stroke="#f4633c" stroke-width="1.0"/>
<circle cx="488.5" cy="64.9" r="1.1" fill="#3e18cd"/>
<circle cx="488.5" cy="64.9" r="3.3" fill="none" stroke="#f4633c" stroke-width="1.0"/>
<circle cx="68.1" cy="261.5" r="1.25" fill="#3d1cd3"/>
<circle cx="68.7" cy="263.8" r="1.25" fill="#3d1cd4"/>
<circle cx="68.7" cy="265.4" r="1.25" fill="#3d1cd5"/>
<circle cx="69.3" cy="267.4" r="1.25" fill="#3d1dd5"/>
<circle cx="70.1" cy="269.7" r="1.25" fill="#3d1dd6"/>
<circle cx="70.4" cy="272.7" r="1.25" fill="#3d1ed7"/>
<circle cx="71.3" cy="276.3" r="1.25" fill="#3d1fd8"/>
<circle cx="71.7" cy="279.3" r="1.25" fill="#3c1fd9"/>
<circle cx="72.4" cy="281.8" r="1.25" fill="#3c20da"/>
<circle cx="72.8" cy="285.7" r="1.25" fill="#3c21dc"/>
<circle cx="73.2" cy="267.8" r="1.25" fill="#3d1cd3"/>
<circle cx="74.1" cy="269.8" r="1.25" fill="#3d1cd4"/>
<circle cx="75.6" cy="273.1" r="1.25" fill="#3d1cd5"/>
<circle cx="75.8" cy="275.1" r="1.25" fill="#3d1dd5"/>
<circle cx="76.8" cy="277.1" r="1.25" fill="#3d1dd6"/>
<circle cx="77.6" cy="279.7" r="1.25" fill="#3d1dd6"/>
<circle cx="78.6" cy="282.6" r="1.25" fill="#3d1ed7"/>
<circle cx="79.9" cy="285.6" r="1.25" fill="#3d1ed8"/>
<circle cx="80.7" cy="289.0" r="1.25" fill="#3d1fd9"/>
<circle cx="81.6" cy="292.9" r="1.25" fill="#3c1fd9"/>
<circle cx="82.1" cy="295.3" r="1.25" fill="#3c20da"/>
<circle cx="83.6" cy="298.5" r="1.25" fill="#3c20db"/>
<circle cx="84.4" cy="300.2" r="1.25" fill="#3c20db"/>
<circle cx="85.0" cy="301.3" r="1.25" fill="#3c21dc"/>
<circle cx="85.4" cy="303.1" r="1.25" fill="#3c21dc"/>
<circle cx="86.4" cy="306.4" r="1.25" fill="#3c21dd"/>
<circle cx="87.1" cy="307.7" r="1.25" fill="#3c21dd"/>
<circle cx="87.7" cy="311.4" r="1.25" fill="#3c22de"/>
<circle cx="87.8" cy="315.1" r="1.25" fill="#3c22df"/>
<circle cx="86.1" cy="304.8" r="1.2" fill="#2767f8"/>
<circle cx="86.4" cy="305.8" r="1.2" fill="#2768f8"/>
<circle cx="86.4" cy="306.1" r="1.2" fill="#2669f8"/>
<circle cx="86.9" cy="307.0" r="1.2" fill="#266af8"/>
<circle cx="87.1" cy="308.1" r="1.2" fill="#256bf8"/>
<circle cx="86.8" cy="308.5" r="1.2" fill="#256cf8"/>
<circle cx="87.0" cy="309.3" r="1.2" fill="#256df8"/>
<circle cx="87.2" cy="310.0" r="1.2" fill="#246ef8"/>
<circle cx="87.3" cy="310.9" r="1.2" fill="#246ff8"/>
<circle cx="87.3" cy="311.3" r="1.2" fill="#2371f8"/>
<circle cx="87.5" cy="311.9" r="1.2" fill="#2372f8"/>
<circle cx="87.4" cy="313.0" r="1.2" fill="#2373f8"/>
<circle cx="87.6" cy="313.5" r="1.2" fill="#2274f8"/>
<circle cx="87.4" cy="314.1" r="1.2" fill="#2275f8"/>
<circle cx="87.8" cy="314.6" r="1.2" fill="#2276f8"/>
<circle cx="88.0" cy="315.7" r="1.2" fill="#2177f8"/>
<circle cx="87.7" cy="316.4" r="1.2" fill="#2178f8"/>
<circle cx="88.1" cy="317.1" r="1.2" fill="#2079f8"/>
<circle cx="88.1" cy="317.8" r="1.2" fill="#207af8"/>
<circle cx="88.5" cy="318.1" r="1.2" fill="#207bf8"/>
<circle cx="88.3" cy="319.2" r="1.2" fill="#1f7cf8"/>
<circle cx="89.1" cy="319.7" r="1.2" fill="#1f7df7"/>
<circle cx="89.0" cy="320.6" r="1.2" fill="#1f7ef7"/>
<circle cx="89.1" cy="321.1" r="1.2" fill="#1f7ff7"/>
<circle cx="89.3" cy="321.8" r="1.2" fill="#1e80f7"/>
<circle cx="89.7" cy="322.5" r="1.2" fill="#1e81f7"/>
<circle cx="89.7" cy="323.5" r="1.2" fill="#1e81f6"/>
<circle cx="89.7" cy="324.0" r="1.2" fill="#1e82f6"/>
<circle cx="90.4" cy="324.6" r="1.2" fill="#1d84f6"/>
<circle cx="90.3" cy="325.6" r="1.2" fill="#1d86f5"/>
<circle cx="90.5" cy="325.9" r="1.2" fill="#1c88f5"/>
<circle cx="90.9" cy="326.9" r="1.2" fill="#1c89f5"/>
<circle cx="90.9" cy="327.3" r="1.2" fill="#1b8bf4"/>
<circle cx="91.3" cy="328.3" r="1.2" fill="#1b8df4"/>
<circle cx="91.5" cy="329.0" r="1.2" fill="#1a8ff4"/>
<circle cx="91.6" cy="329.4" r="1.2" fill="#1a90f3"/>
<circle cx="92.0" cy="330.5" r="1.2" fill="#1993f3"/>
<circle cx="92.0" cy="330.9" r="1.2" fill="#1895f2"/>
<circle cx="91.9" cy="331.8" r="1.2" fill="#1897f2"/>
<circle cx="92.0" cy="332.8" r="1.2" fill="#1798f0"/>
<circle cx="92.5" cy="333.1" r="1.2" fill="#169aef"/>
<circle cx="92.3" cy="334.3" r="1.2" fill="#169cee"/>
<circle cx="92.6" cy="335.1" r="1.2" fill="#159eed"/>
<circle cx="92.5" cy="335.4" r="1.2" fill="#159fec"/>
<circle cx="92.6" cy="336.6" r="1.2" fill="#14a1eb"/>
<circle cx="92.7" cy="337.0" r="1.2" fill="#13a3ea"/>
<circle cx="92.9" cy="337.8" r="1.2" fill="#12a5e8"/>
<circle cx="93.0" cy="338.8" r="1.2" fill="#12a8e7"/>
<circle cx="93.0" cy="339.0" r="1.2" fill="#11aae5"/>
<circle cx="93.6" cy="340.3" r="1.2" fill="#10ace4"/>
<circle cx="93.7" cy="340.7" r="1.2" fill="#10ade1"/>
<circle cx="93.8" cy="341.7" r="1.2" fill="#10afde"/>
<circle cx="93.5" cy="342.4" r="1.2" fill="#10b0dc"/>
<circle cx="94.0" cy="343.0" r="1.2" fill="#10b2d9"/>
<circle cx="93.9" cy="343.5" r="1.2" fill="#10b3d6"/>
<circle cx="93.9" cy="344.2" r="1.2" fill="#10b4d3"/>
<circle cx="93.9" cy="345.2" r="1.2" fill="#10b6d0"/>
<circle cx="94.1" cy="346.0" r="1.2" fill="#10b7ce"/>
<circle cx="94.1" cy="346.8" r="1.2" fill="#10b9cb"/>
<circle cx="94.6" cy="347.6" r="1.2" fill="#10bac8"/>
<circle cx="94.9" cy="348.3" r="1.2" fill="#11bcc1"/>
<circle cx="94.9" cy="348.4" r="1.2" fill="#11beba"/>
<circle cx="95.2" cy="349.3" r="1.2" fill="#12c0b2"/>
<circle cx="95.1" cy="350.3" r="1.2" fill="#13c3ab"/>
<circle cx="95.5" cy="350.8" r="1.2" fill="#14c5a4"/>
<circle cx="95.9" cy="351.7" r="1.2" fill="#14c79a"/>
<circle cx="95.7" cy="352.2" r="1.2" fill="#15c88e"/>
<circle cx="96.2" cy="353.0" r="1.2" fill="#16c981"/>
<circle cx="96.4" cy="353.7" r="1.2" fill="#17cb75"/>
<circle cx="96.2" cy="354.5" r="1.2" fill="#18cc68"/>
<circle cx="96.8" cy="355.0" r="1.2" fill="#27cc5e"/>
<circle cx="97.1" cy="356.1" r="1.2" fill="#36cc53"/>
<circle cx="97.3" cy="356.7" r="1.2" fill="#45cc49"/>
<circle cx="97.1" cy="357.2" r="1.2" fill="#54cc3e"/>
<circle cx="97.8" cy="357.6" r="1.2" fill="#64cc35"/>
<circle cx="97.7" cy="358.4" r="1.2" fill="#76cb30"/>
<circle cx="98.1" cy="359.1" r="1.2" fill="#87ca2b"/>
<circle cx="98.3" cy="360.0" r="1.2" fill="#99c926"/>
<circle cx="98.3" cy="360.2" r="1.2" fill="#aac821"/>
<circle cx="98.6" cy="360.9" r="1.2" fill="#b8c71c"/>
<circle cx="98.8" cy="362.1" r="1.2" fill="#c2c416"/>
<circle cx="99.5" cy="362.3" r="1.2" fill="#cbc111"/>
<circle cx="99.5" cy="363.1" r="1.2" fill="#d5be0b"/>
<circle cx="99.6" cy="363.7" r="1.2" fill="#debb05"/>
<circle cx="100.1" cy="364.6" r="1.2" fill="#e8b800"/>
<circle cx="81.2" cy="284.3" r="1.25" fill="#e8b800"/>
<circle cx="80.6" cy="284.9" r="1.25" fill="#d2bf0d"/>
<circle cx="80.0" cy="285.5" r="1.25" fill="#bdc519"/>
<circle cx="79.4" cy="286.1" r="1.25" fill="#9cc925"/>
<circle cx="78.8" cy="286.6" r="1.25" fill="#84ca2c"/>
<circle cx="78.2" cy="287.0" r="1.25" fill="#6ccb33"/>
<circle cx="77.7" cy="287.5" r="1.25" fill="#56cc3d"/>
<circle cx="77.1" cy="287.9" r="1.25" fill="#41cc4b"/>
<circle cx="76.5" cy="288.4" r="1.25" fill="#2dcc5a"/>
<circle cx="75.7" cy="288.4" r="1.25" fill="#22cc61"/>
<circle cx="74.9" cy="288.4" r="1.25" fill="#18cc68"/>
<circle cx="74.0" cy="288.4" r="1.25" fill="#18cb6f"/>
<circle cx="73.2" cy="288.4" r="1.25" fill="#17cb76"/>
<circle cx="72.4" cy="288.4" r="1.25" fill="#16ca7d"/>
<circle cx="72.5" cy="289.1" r="1.25" fill="#16c88b"/>
<circle cx="72.6" cy="289.8" r="1.25" fill="#14c799"/>
<circle cx="72.8" cy="290.6" r="1.25" fill="#14c5a4"/>
<circle cx="72.9" cy="291.3" r="1.25" fill="#13c2ac"/>
<circle cx="73.0" cy="292.0" r="1.25" fill="#12c0b4"/>
<circle cx="73.0" cy="292.8" r="1.25" fill="#12beb9"/>
<circle cx="73.0" cy="293.5" r="1.25" fill="#11bdbe"/>
<circle cx="73.0" cy="294.2" r="1.25" fill="#10bcc3"/>
<circle cx="73.0" cy="295.0" r="1.25" fill="#10bac8"/>
<circle cx="73.0" cy="295.8" r="1.25" fill="#10b8cb"/>
<circle cx="73.0" cy="296.5" r="1.25" fill="#10b6cf"/>
<circle cx="73.0" cy="297.2" r="1.25" fill="#10b5d2"/>
<circle cx="73.0" cy="298.0" r="1.25" fill="#10b3d6"/>
<circle cx="73.3" cy="298.7" r="1.25" fill="#10b0dd"/>
<circle cx="73.7" cy="299.3" r="1.25" fill="#10ace4"/>
<circle cx="74.0" cy="300.0" r="1.25" fill="#12a7e8"/>
<circle cx="74.3" cy="300.7" r="1.25" fill="#14a1eb"/>
<circle cx="74.7" cy="301.3" r="1.25" fill="#169cee"/>
<circle cx="75.0" cy="302.0" r="1.25" fill="#1896f2"/>
<circle cx="75.3" cy="302.7" r="1.25" fill="#1993f3"/>
<circle cx="75.6" cy="303.4" r="1.25" fill="#1a90f3"/>
<circle cx="75.9" cy="304.1" r="1.25" fill="#1a8ef4"/>
<circle cx="76.1" cy="304.9" r="1.25" fill="#1b8bf4"/>
<circle cx="76.4" cy="305.6" r="1.25" fill="#1c88f5"/>
<circle cx="76.7" cy="306.3" r="1.25" fill="#1d85f6"/>
<circle cx="77.0" cy="307.0" r="1.25" fill="#1e82f6"/>
<circle cx="77.3" cy="307.7" r="1.25" fill="#1e81f6"/>
<circle cx="77.7" cy="308.3" r="1.25" fill="#1e80f7"/>
<circle cx="78.0" cy="309.0" r="1.25" fill="#1f7ef7"/>
<circle cx="78.3" cy="309.7" r="1.25" fill="#1f7df7"/>
<circle cx="78.7" cy="310.3" r="1.25" fill="#207bf8"/>
<circle cx="79.0" cy="311.0" r="1.25" fill="#207af8"/>
<circle cx="79.0" cy="311.0" r="1.3" fill="#207af8"/>
<circle cx="79.3" cy="312.0" r="1.3" fill="#207af8"/>
<circle cx="79.0" cy="312.1" r="1.3" fill="#207af8"/>
<circle cx="79.6" cy="313.5" r="1.3" fill="#207af8"/>
<circle cx="79.6" cy="313.8" r="1.3" fill="#207af8"/>
<circle cx="79.9" cy="314.3" r="1.3" fill="#207af8"/>
<circle cx="79.7" cy="315.0" r="1.3" fill="#207af8"/>
<circle cx="80.1" cy="315.9" r="1.3" fill="#207af8"/>
<circle cx="80.0" cy="317.0" r="1.3" fill="#2178f8"/>
<circle cx="80.8" cy="317.4" r="1.3" fill="#2177f8"/>
<circle cx="80.8" cy="318.3" r="1.3" fill="#2275f8"/>
<circle cx="81.1" cy="319.3" r="1.3" fill="#2274f8"/>
<circle cx="80.8" cy="319.8" r="1.3" fill="#2372f8"/>
<circle cx="80.8" cy="320.7" r="1.3" fill="#2372f8"/>
<circle cx="81.2" cy="321.2" r="1.3" fill="#2372f8"/>
<circle cx="81.3" cy="322.0" r="1.3" fill="#2372f8"/>
<circle cx="81.8" cy="322.6" r="1.3" fill="#2372f8"/>
<circle cx="82.1" cy="323.6" r="1.3" fill="#2372f8"/>
<circle cx="81.9" cy="324.3" r="1.3" fill="#2372f8"/>
<circle cx="82.2" cy="325.3" r="1.3" fill="#2372f8"/>
<circle cx="82.1" cy="325.8" r="1.3" fill="#2372f8"/>
<circle cx="82.4" cy="326.8" r="1.3" fill="#2372f8"/>
<circle cx="82.3" cy="327.5" r="1.3" fill="#2372f8"/>
<circle cx="82.9" cy="328.0" r="1.3" fill="#2372f8"/>
<circle cx="82.4" cy="328.5" r="1.3" fill="#2372f8"/>
<circle cx="82.9" cy="329.5" r="1.3" fill="#2372f8"/>
<circle cx="83.2" cy="330.4" r="1.3" fill="#2372f8"/>
<circle cx="82.7" cy="330.6" r="1.3" fill="#2372f8"/>
<circle cx="82.9" cy="331.2" r="1.3" fill="#2372f8"/>
<circle cx="83.3" cy="332.5" r="1.3" fill="#2372f8"/>
<circle cx="83.6" cy="332.7" r="1.3" fill="#2372f8"/>
<circle cx="83.7" cy="333.5" r="1.3" fill="#2372f8"/>
<circle cx="83.4" cy="334.5" r="1.3" fill="#2372f8"/>
<circle cx="83.3" cy="334.7" r="1.3" fill="#2372f8"/>
<circle cx="92.9" cy="363.5" r="1.25" fill="#3e18cd"/>
<circle cx="92.4" cy="361.5" r="1.25" fill="#3e19ce"/>
<circle cx="92.0" cy="360.0" r="1.25" fill="#3e19cf"/>
<circle cx="91.5" cy="357.5" r="1.25" fill="#3e1ad0"/>
<circle cx="91.0" cy="353.7" r="1.25" fill="#3d1bd3"/>
<circle cx="90.6" cy="352.2" r="1.25" fill="#3d1cd3"/>
<circle cx="90.4" cy="350.8" r="1.25" fill="#3d1cd4"/>
<circle cx="89.9" cy="349.0" r="1.25" fill="#3d1dd5"/>
<circle cx="88.8" cy="345.8" r="1.25" fill="#3d1ed7"/>
<circle cx="87.8" cy="343.1" r="1.25" fill="#3c1fd9"/>
<circle cx="87.2" cy="341.2" r="1.25" fill="#3c1fda"/>
<circle cx="86.1" cy="337.9" r="1.25" fill="#3c20dc"/>
<circle cx="85.1" cy="335.7" r="1.25" fill="#3c21dd"/>
<circle cx="84.2" cy="332.5" r="1.25" fill="#3c22df"/>
<circle cx="83.6" cy="329.5" r="1.25" fill="#3b23e0"/>
<circle cx="83.0" cy="325.9" r="1.25" fill="#3b24e2"/>
<circle cx="82.1" cy="322.3" r="1.25" fill="#3b26e4"/>
<circle cx="75.5" cy="311.0" r="1.25" fill="#2767f8"/>
<circle cx="75.7" cy="313.7" r="1.25" fill="#266af8"/>
<circle cx="75.6" cy="315.5" r="1.25" fill="#256bf8"/>
<circle cx="76.0" cy="318.6" r="1.25" fill="#246ef8"/>
<circle cx="76.0" cy="320.4" r="1.25" fill="#2470f8"/>
<circle cx="76.1" cy="323.8" r="1.25" fill="#2373f8"/>
<circle cx="76.6" cy="325.6" r="1.25" fill="#2275f8"/>
<circle cx="76.5" cy="327.7" r="1.25" fill="#2177f8"/>
<circle cx="76.7" cy="330.9" r="1.25" fill="#207af8"/>
<circle cx="74.5" cy="331.0" r="1.3" fill="#e8b800"/>
<circle cx="74.8" cy="331.7" r="1.3" fill="#d2bf0d"/>
<circle cx="75.0" cy="332.3" r="1.3" fill="#bdc519"/>
<circle cx="75.2" cy="333.0" r="1.3" fill="#9cc925"/>
<circle cx="75.5" cy="333.7" r="1.3" fill="#74cb30"/>
<circle cx="75.8" cy="334.3" r="1.3" fill="#4fcc42"/>
<circle cx="76.0" cy="335.0" r="1.3" fill="#2dcc5a"/>
<circle cx="76.2" cy="335.7" r="1.3" fill="#1ecc64"/>
<circle cx="76.4" cy="336.4" r="1.3" fill="#18cb6e"/>
<circle cx="76.6" cy="337.1" r="1.3" fill="#17ca78"/>
<circle cx="76.9" cy="337.9" r="1.3" fill="#16c982"/>
<circle cx="77.1" cy="338.6" r="1.3" fill="#15c88c"/>
<circle cx="77.3" cy="339.3" r="1.3" fill="#15c796"/>
<circle cx="77.5" cy="340.0" r="1.3" fill="#14c6a0"/>
<circle cx="77.7" cy="340.7" r="1.3" fill="#14c4a5"/>
<circle cx="77.9" cy="341.4" r="1.3" fill="#13c3aa"/>
<circle cx="78.1" cy="342.1" r="1.3" fill="#12c2af"/>
<circle cx="78.2" cy="342.8" r="1.3" fill="#12c0b4"/>
<circle cx="78.4" cy="343.4" r="1.3" fill="#11beb9"/>
<circle cx="78.6" cy="344.1" r="1.3" fill="#11bdbe"/>
<circle cx="78.8" cy="344.8" r="1.3" fill="#10bbc3"/>
<circle cx="79.0" cy="345.5" r="1.3" fill="#10bac8"/>
<circle cx="68.2" cy="312.7" r="1.1" fill="#18cc68"/>
<circle cx="68.9" cy="312.7" r="1.1" fill="#1acc67"/>
<circle cx="69.7" cy="312.7" r="1.1" fill="#1bcc66"/>
<circle cx="70.4" cy="312.6" r="1.1" fill="#1dcc64"/>
<circle cx="71.1" cy="312.6" r="1.1" fill="#1fcc63"/>
<circle cx="71.9" cy="312.6" r="1.1" fill="#21cc62"/>
<circle cx="72.6" cy="312.6" r="1.1" fill="#22cc61"/>
<circle cx="73.3" cy="312.6" r="1.1" fill="#24cc60"/>
<circle cx="74.1" cy="312.6" r="1.1" fill="#26cc5e"/>
<circle cx="74.8" cy="312.6" r="1.1" fill="#27cc5d"/>
<circle cx="75.5" cy="312.5" r="1.1" fill="#29cc5c"/>
<circle cx="76.3" cy="312.5" r="1.1" fill="#2bcc5b"/>
<circle cx="77.0" cy="312.5" r="1.1" fill="#2dcc5a"/>
<circle cx="77.7" cy="312.5" r="1.1" fill="#2dcc5a"/>
<circle cx="78.4" cy="312.5" r="1.1" fill="#2dcc5a"/>
<circle cx="79.2" cy="312.5" r="1.1" fill="#2dcc5a"/>
<circle cx="79.9" cy="312.4" r="1.1" fill="#2dcc5a"/>
<circle cx="80.6" cy="312.4" r="1.1" fill="#2dcc5a"/>
<circle cx="81.3" cy="312.4" r="1.1" fill="#2dcc5a"/>
<circle cx="82.1" cy="312.4" r="1.1" fill="#2dcc5a"/>
<circle cx="82.8" cy="312.4" r="1.1" fill="#2dcc5a"/>
<circle cx="83.5" cy="312.4" r="1.1" fill="#2dcc5a"/>
<circle cx="84.2" cy="312.3" r="1.1" fill="#2dcc5a"/>
<circle cx="85.0" cy="312.3" r="1.1" fill="#2dcc5a"/>
<circle cx="85.7" cy="312.3" r="1.1" fill="#2dcc5a"/>
<circle cx="86.4" cy="312.3" r="1.1" fill="#2dcc5a"/>
<circle cx="83.2" cy="311.2" r="1.4" fill="#dbbc08"/>
<circle cx="86.4" cy="312.3" r="0.85" fill="#3c21dc"/>
<circle cx="87.1" cy="312.3" r="0.85" fill="#3c21dc"/>
<circle cx="87.8" cy="312.2" r="0.85" fill="#3c21dc"/>
<circle cx="88.5" cy="312.2" r="0.85" fill="#3c21dc"/>
<circle cx="89.3" cy="312.2" r="0.85" fill="#3c21dc"/>
<circle cx="90.0" cy="312.2" r="0.85" fill="#3c21dc"/>
<circle cx="90.7" cy="312.1" r="0.85" fill="#3c21dc"/>
<circle cx="91.4" cy="312.1" r="0.85" fill="#3c21dc"/>
<circle cx="92.1" cy="312.1" r="0.85" fill="#3c21dc"/>
<circle cx="92.8" cy="312.1" r="0.85" fill="#3c21dc"/>
<circle cx="93.6" cy="312.0" r="0.85" fill="#3c21dc"/>
<circle cx="94.3" cy="312.0" r="0.85" fill="#3c21dc"/>
<circle cx="95.0" cy="312.0" r="0.85" fill="#3c21dc"/>
<circle cx="95.7" cy="311.9" r="0.85" fill="#3c21dc"/>
<circle cx="96.4" cy="311.9" r="0.85" fill="#3c21dc"/>
<circle cx="97.1" cy="311.9" r="0.85" fill="#3c21dc"/>
<circle cx="97.8" cy="311.9" r="0.85" fill="#3c21dc"/>
<circle cx="98.6" cy="311.8" r="0.85" fill="#3c21dc"/>
<circle cx="99.3" cy="311.8" r="0.85" fill="#3c21dc"/>
<circle cx="100.0" cy="311.8" r="0.85" fill="#3c21dc"/>
<circle cx="100.7" cy="311.8" r="0.85" fill="#3c21dc"/>
<circle cx="101.4" cy="311.7" r="0.85" fill="#3c21dc"/>
<circle cx="102.1" cy="311.7" r="0.85" fill="#3c21dc"/>
<circle cx="102.8" cy="311.7" r="0.85" fill="#3c21dc"/>
<circle cx="103.6" cy="311.6" r="0.85" fill="#3c21dc"/>
<circle cx="104.3" cy="311.6" r="0.85" fill="#3c21dc"/>
<circle cx="105.0" cy="311.6" r="0.85" fill="#3c21dc"/>
<circle cx="105.7" cy="311.6" r="0.85" fill="#3c21dc"/>
<circle cx="106.4" cy="311.5" r="0.85" fill="#3c21dc"/>
<circle cx="107.1" cy="311.5" r="0.85" fill="#3c21dc"/>
<circle cx="107.9" cy="311.5" r="0.85" fill="#3c21dc"/>
<circle cx="108.6" cy="311.5" r="0.85" fill="#3c21dc"/>
<circle cx="109.3" cy="311.4" r="0.85" fill="#3c21dc"/>
<circle cx="110.0" cy="311.4" r="0.85" fill="#3c21dc"/>
<circle cx="110.7" cy="311.3" r="0.85" fill="#3c21dc"/>
<circle cx="111.4" cy="311.3" r="0.85" fill="#3c21dc"/>
<circle cx="112.1" cy="311.2" r="0.85" fill="#3c21dc"/>
<circle cx="112.9" cy="311.1" r="0.85" fill="#3c21dc"/>
<circle cx="113.6" cy="311.1" r="0.85" fill="#3c21dc"/>
<circle cx="114.3" cy="311.0" r="0.85" fill="#3c21dc"/>
<circle cx="115.0" cy="310.9" r="0.85" fill="#3c21dc"/>
<circle cx="115.7" cy="310.9" r="0.85" fill="#3c21dc"/>
<circle cx="116.4" cy="310.8" r="0.85" fill="#3c21dc"/>
<circle cx="117.1" cy="310.8" r="0.85" fill="#3c21dc"/>
<circle cx="117.9" cy="310.7" r="0.85" fill="#3c21dc"/>
<circle cx="118.6" cy="310.6" r="0.85" fill="#3c21dc"/>
<circle cx="119.3" cy="310.6" r="0.85" fill="#3c21dc"/>
<circle cx="120.0" cy="310.5" r="0.85" fill="#3c21dc"/>
<circle cx="120.7" cy="310.4" r="0.85" fill="#3c21dc"/>
<circle cx="121.4" cy="310.4" r="0.85" fill="#3c21dc"/>
<circle cx="122.1" cy="310.3" r="0.85" fill="#3c21dc"/>
<circle cx="122.9" cy="310.2" r="0.85" fill="#3c21dc"/>
<circle cx="123.6" cy="310.2" r="0.85" fill="#3c21dc"/>
<circle cx="124.3" cy="310.1" r="0.85" fill="#3c21dc"/>
<circle cx="125.0" cy="310.1" r="0.85" fill="#3c21dc"/>
<circle cx="125.7" cy="310.0" r="0.85" fill="#3c21dc"/>
<circle cx="126.4" cy="309.9" r="0.85" fill="#3c21dc"/>
<circle cx="127.1" cy="309.9" r="0.85" fill="#3c21dc"/>
<circle cx="127.9" cy="309.8" r="0.85" fill="#3c21dc"/>
<circle cx="128.6" cy="309.7" r="0.85" fill="#3c21dc"/>
<circle cx="129.3" cy="309.7" r="0.85" fill="#3c21dc"/>
<circle cx="130.0" cy="309.6" r="0.85" fill="#3c21dc"/>
<circle cx="130.7" cy="309.6" r="0.85" fill="#3c21dc"/>
<circle cx="131.5" cy="309.5" r="0.85" fill="#3c20dc"/>
<circle cx="132.2" cy="309.5" r="0.85" fill="#3c20db"/>
<circle cx="132.9" cy="309.4" r="0.85" fill="#3c20db"/>
<circle cx="133.7" cy="309.4" r="0.85" fill="#3c20da"/>
<circle cx="134.4" cy="309.4" r="0.85" fill="#3c1fda"/>
<circle cx="135.1" cy="309.3" r="0.85" fill="#3c1fd9"/>
<circle cx="135.8" cy="309.3" r="0.85" fill="#3c1fd9"/>
<circle cx="136.6" cy="309.3" r="0.85" fill="#3d1fd8"/>
<circle cx="137.3" cy="309.2" r="0.85" fill="#3d1ed8"/>
<circle cx="138.0" cy="309.2" r="0.85" fill="#3d1ed7"/>
<circle cx="138.8" cy="309.1" r="0.85" fill="#3d1ed7"/>
<circle cx="139.5" cy="309.1" r="0.85" fill="#3d1dd6"/>
<circle cx="86.4" cy="313.6" r="1.1" fill="#18cc68"/>
<circle cx="87.1" cy="313.7" r="1.1" fill="#18cb6d"/>
<circle cx="87.9" cy="313.9" r="1.1" fill="#17cb72"/>
<circle cx="88.6" cy="314.0" r="1.1" fill="#17ca77"/>
<circle cx="89.3" cy="314.1" r="1.1" fill="#17ca7c"/>
<circle cx="90.1" cy="314.2" r="1.1" fill="#16c981"/>
<circle cx="90.8" cy="314.4" r="1.1" fill="#16c987"/>
<circle cx="91.6" cy="314.5" r="1.1" fill="#15c88c"/>
<circle cx="92.3" cy="314.6" r="1.1" fill="#15c891"/>
<circle cx="93.0" cy="314.7" r="1.1" fill="#15c796"/>
<circle cx="93.8" cy="314.9" r="1.1" fill="#14c79b"/>
<circle cx="94.5" cy="315.0" r="1.1" fill="#14c6a0"/>
<circle cx="95.2" cy="315.0" r="1.1" fill="#14c5a4"/>
<circle cx="96.0" cy="315.1" r="1.1" fill="#13c4a8"/>
<circle cx="96.7" cy="315.1" r="1.1" fill="#13c3ab"/>
<circle cx="97.4" cy="315.1" r="1.1" fill="#12c2af"/>
<circle cx="98.2" cy="315.2" r="1.1" fill="#12c0b3"/>
<circle cx="98.9" cy="315.2" r="1.1" fill="#12bfb6"/>
<circle cx="99.6" cy="315.3" r="1.1" fill="#11beba"/>
<circle cx="100.3" cy="315.3" r="1.1" fill="#11bdbe"/>
<circle cx="101.1" cy="315.3" r="1.1" fill="#11bcc2"/>
<circle cx="101.8" cy="315.4" r="1.1" fill="#10bbc6"/>
<circle cx="102.5" cy="315.4" r="1.1" fill="#10bac9"/>
<circle cx="103.3" cy="315.5" r="1.1" fill="#10b8cb"/>
<circle cx="104.0" cy="315.5" r="1.1" fill="#10b7ce"/>
<circle cx="104.7" cy="315.5" r="1.1" fill="#10b6d1"/>
<circle cx="105.5" cy="315.6" r="1.1" fill="#10b4d3"/>
<circle cx="106.2" cy="315.6" r="1.1" fill="#10b3d6"/>
<circle cx="107.0" cy="315.6" r="1.1" fill="#10b0dc"/>
<circle cx="107.7" cy="315.7" r="1.1" fill="#10ade1"/>
<circle cx="108.5" cy="315.7" r="1.1" fill="#11aae5"/>
<circle cx="109.2" cy="315.8" r="1.1" fill="#12a5e8"/>
<circle cx="110.0" cy="315.8" r="1.1" fill="#14a1eb"/>
<circle cx="110.2" cy="316.4" r="1.25" fill="#207af8"/>
<circle cx="112.4" cy="316.1" r="1.25" fill="#2079f8"/>
<circle cx="113.8" cy="316.3" r="1.25" fill="#2178f8"/>
<circle cx="115.6" cy="316.4" r="1.25" fill="#2178f8"/>
<circle cx="117.0" cy="316.5" r="1.25" fill="#2177f8"/>
<circle cx="119.3" cy="316.2" r="1.25" fill="#2276f8"/>
<circle cx="121.4" cy="316.1" r="1.25" fill="#2275f8"/>
<circle cx="123.5" cy="316.2" r="1.25" fill="#2274f8"/>
<circle cx="124.3" cy="316.5" r="1.25" fill="#2274f8"/>
<circle cx="126.4" cy="316.5" r="1.25" fill="#2373f8"/>
<circle cx="128.5" cy="316.2" r="1.25" fill="#2372f8"/>
<circle cx="129.6" cy="316.3" r="1.25" fill="#2371f8"/>
<circle cx="130.6" cy="316.2" r="1.25" fill="#2371f8"/>
<circle cx="131.9" cy="316.7" r="1.25" fill="#2470f8"/>
<circle cx="133.5" cy="316.4" r="1.25" fill="#2470f8"/>
<circle cx="135.4" cy="316.8" r="1.25" fill="#246ff8"/>
<circle cx="137.9" cy="316.7" r="1.25" fill="#246ef8"/>
<circle cx="139.0" cy="317.0" r="1.25" fill="#256df8"/>
<circle cx="140.8" cy="317.0" r="1.25" fill="#256df8"/>
<circle cx="141.9" cy="316.8" r="1.25" fill="#256cf8"/>
<circle cx="144.2" cy="317.4" r="1.25" fill="#256bf8"/>
<circle cx="145.8" cy="317.5" r="1.25" fill="#266af8"/>
<circle cx="148.1" cy="317.5" r="1.25" fill="#2669f8"/>
<circle cx="149.7" cy="317.6" r="1.25" fill="#2669f8"/>
<circle cx="152.1" cy="318.0" r="1.25" fill="#2768f8"/>
<circle cx="153.4" cy="318.2" r="1.25" fill="#2767f8"/>
<circle cx="153.6" cy="318.4" r="1.25" fill="#3c21dc"/>
<circle cx="155.5" cy="318.2" r="1.25" fill="#3c21dc"/>
<circle cx="158.6" cy="318.4" r="1.25" fill="#3c21dc"/>
<circle cx="162.9" cy="318.3" r="1.25" fill="#3c20db"/>
<circle cx="166.1" cy="319.2" r="1.25" fill="#3c20da"/>
<circle cx="168.5" cy="319.9" r="1.25" fill="#3c20da"/>
<circle cx="170.3" cy="320.0" r="1.25" fill="#3c1fda"/>
<circle cx="173.5" cy="320.9" r="1.25" fill="#3c1fd9"/>
<circle cx="176.6" cy="321.6" r="1.25" fill="#3d1fd9"/>
<circle cx="178.7" cy="322.0" r="1.25" fill="#3d1ed8"/>
<circle cx="181.1" cy="322.6" r="1.25" fill="#3d1ed8"/>
<circle cx="185.5" cy="323.2" r="1.25" fill="#3d1ed7"/>
<circle cx="187.8" cy="323.6" r="1.25" fill="#3d1ed7"/>
<circle cx="192.2" cy="324.5" r="1.25" fill="#3d1dd6"/>
<circle cx="194.3" cy="325.1" r="1.25" fill="#3d1dd5"/>
<circle cx="198.5" cy="325.9" r="1.25" fill="#3d1dd5"/>
<circle cx="202.0" cy="326.7" r="1.25" fill="#3d1cd4"/>
<circle cx="206.4" cy="327.9" r="1.25" fill="#3d1cd3"/>
<circle cx="95.9" cy="299.1" r="1.1" fill="#e8b800"/>
<circle cx="96.5" cy="299.6" r="1.1" fill="#dfbb05"/>
<circle cx="97.1" cy="300.0" r="1.1" fill="#d6bd0a"/>
<circle cx="97.6" cy="300.5" r="1.1" fill="#cdc00f"/>
<circle cx="98.2" cy="300.9" r="1.1" fill="#c5c314"/>
<circle cx="98.8" cy="301.4" r="1.1" fill="#bcc61a"/>
<circle cx="99.4" cy="301.8" r="1.1" fill="#b2c81f"/>
<circle cx="100.0" cy="302.3" r="1.1" fill="#a1c923"/>
<circle cx="100.6" cy="302.7" r="1.1" fill="#91ca28"/>
<circle cx="101.1" cy="303.2" r="1.1" fill="#81ca2d"/>
<circle cx="101.7" cy="303.6" r="1.1" fill="#70cb31"/>
<circle cx="102.3" cy="304.1" r="1.1" fill="#60cc36"/>
<circle cx="101.8" cy="304.6" r="1.1" fill="#5bcc39"/>
<circle cx="101.2" cy="305.1" r="1.1" fill="#57cc3c"/>
<circle cx="100.7" cy="305.6" r="1.1" fill="#52cc40"/>
<circle cx="100.2" cy="306.1" r="1.1" fill="#4dcc43"/>
<circle cx="99.6" cy="306.6" r="1.1" fill="#49cc46"/>
<circle cx="99.1" cy="307.0" r="1.1" fill="#44cc49"/>
<circle cx="98.5" cy="307.5" r="1.1" fill="#3fcc4d"/>
<circle cx="98.0" cy="308.0" r="1.1" fill="#3bcc50"/>
<circle cx="97.5" cy="308.5" r="1.1" fill="#36cc53"/>
<circle cx="96.9" cy="309.0" r="1.1" fill="#31cc56"/>
<circle cx="96.4" cy="309.5" r="1.1" fill="#2dcc5a"/>
<circle cx="95.8" cy="310.0" r="1.1" fill="#28cc5d"/>
<circle cx="95.3" cy="310.4" r="1.1" fill="#24cc5f"/>
<circle cx="94.7" cy="310.9" r="1.1" fill="#20cc62"/>
<circle cx="94.2" cy="311.3" r="1.1" fill="#1ccc65"/>
<circle cx="93.6" cy="311.8" r="1.1" fill="#18cc68"/>
<circle cx="118.3" cy="302.0" r="1.25" fill="#3d1cd3"/>
<circle cx="121.6" cy="300.0" r="1.25" fill="#3d1dd6"/>
<circle cx="123.3" cy="299.5" r="1.25" fill="#3d1ed8"/>
<circle cx="125.9" cy="297.9" r="1.25" fill="#3c20da"/>
<circle cx="127.2" cy="297.6" r="1.25" fill="#3c20dc"/>
<circle cx="130.7" cy="295.6" r="1.25" fill="#3c23df"/>
<circle cx="133.3" cy="293.7" r="1.25" fill="#3b24e2"/>
<circle cx="135.2" cy="291.9" r="1.25" fill="#3b26e5"/>
<circle cx="137.1" cy="290.3" r="1.25" fill="#3b27e7"/>
<circle cx="138.8" cy="289.1" r="1.25" fill="#3a28e9"/>
<circle cx="142.8" cy="287.5" r="1.25" fill="#3a2aec"/>
<circle cx="145.7" cy="285.9" r="1.25" fill="#392fed"/>
<circle cx="147.5" cy="284.7" r="1.25" fill="#3831ee"/>
<circle cx="150.9" cy="283.8" r="1.25" fill="#3735ef"/>
<circle cx="153.3" cy="283.0" r="1.25" fill="#3638f0"/>
<circle cx="155.6" cy="282.5" r="1.25" fill="#353bf1"/>
<circle cx="159.5" cy="281.1" r="1.25" fill="#3440f2"/>
<circle cx="162.2" cy="280.2" r="1.25" fill="#3344f3"/>
<circle cx="166.2" cy="279.0" r="1.25" fill="#3148f5"/>
<circle cx="169.5" cy="278.4" r="1.25" fill="#304df6"/>
<circle cx="171.7" cy="277.5" r="1.25" fill="#2f4ff7"/>
<circle cx="166.3" cy="279.4" r="1.3" fill="#2767f8"/>
<circle cx="167.3" cy="278.8" r="1.3" fill="#266af8"/>
<circle cx="167.6" cy="278.7" r="1.3" fill="#256df8"/>
<circle cx="168.4" cy="278.4" r="1.3" fill="#2470f8"/>
<circle cx="169.3" cy="278.6" r="1.3" fill="#2373f8"/>
<circle cx="170.0" cy="277.8" r="1.3" fill="#2276f8"/>
<circle cx="170.4" cy="277.8" r="1.3" fill="#2179f8"/>
<circle cx="171.4" cy="277.4" r="1.3" fill="#207bf8"/>
<circle cx="171.7" cy="277.3" r="1.3" fill="#1f7df7"/>
<circle cx="172.5" cy="276.9" r="1.3" fill="#1e7ff7"/>
<circle cx="173.4" cy="277.4" r="1.3" fill="#1e82f6"/>
<circle cx="174.1" cy="277.0" r="1.3" fill="#1d84f6"/>
<circle cx="175.1" cy="276.9" r="1.3" fill="#1d86f5"/>
<circle cx="175.8" cy="276.4" r="1.3" fill="#1c88f5"/>
<circle cx="176.4" cy="275.9" r="1.3" fill="#1b8cf4"/>
<circle cx="177.2" cy="275.9" r="1.3" fill="#1a90f3"/>
<circle cx="177.6" cy="276.1" r="1.3" fill="#1895f2"/>
<circle cx="178.2" cy="275.4" r="1.3" fill="#1798f1"/>
<circle cx="179.4" cy="275.5" r="1.3" fill="#169cee"/>
<circle cx="179.5" cy="274.9" r="1.3" fill="#159fec"/>
<circle cx="180.4" cy="274.7" r="1.3" fill="#14a2ea"/>
<circle cx="181.5" cy="274.6" r="1.3" fill="#12a5e8"/>
<circle cx="181.8" cy="274.6" r="1.3" fill="#11a9e6"/>
<circle cx="182.7" cy="274.4" r="1.3" fill="#10ace4"/>
<circle cx="183.5" cy="274.4" r="1.3" fill="#10afde"/>
<circle cx="184.0" cy="273.7" r="1.3" fill="#10b2d7"/>
<circle cx="185.1" cy="273.9" r="1.3" fill="#10b6d1"/>
<circle cx="185.0" cy="273.5" r="1.3" fill="#10b9cb"/>
<circle cx="186.2" cy="273.7" r="1.3" fill="#11bcc3"/>
<circle cx="186.3" cy="272.6" r="1.3" fill="#11beb9"/>
<circle cx="187.3" cy="272.7" r="1.3" fill="#12c1b0"/>
<circle cx="188.3" cy="272.8" r="1.3" fill="#13c4a7"/>
<circle cx="188.5" cy="272.2" r="1.3" fill="#14c69d"/>
<circle cx="189.4" cy="272.4" r="1.3" fill="#15c88d"/>
<circle cx="189.8" cy="271.7" r="1.3" fill="#16ca7d"/>
<circle cx="190.1" cy="271.3" r="1.3" fill="#24cc60"/>
<circle cx="190.5" cy="270.9" r="1.3" fill="#4fcc42"/>
<circle cx="191.4" cy="270.1" r="1.3" fill="#7ecb2d"/>
<circle cx="191.5" cy="269.2" r="1.3" fill="#b0c81f"/>
<circle cx="192.2" cy="269.1" r="1.3" fill="#cdc010"/>
<circle cx="192.7" cy="268.0" r="1.3" fill="#e8b800"/>
<circle cx="182.2" cy="277.2" r="1.2" fill="#169cee"/>
<circle cx="185.4" cy="275.0" r="1.2" fill="#12a6e8"/>
<circle cx="181.0" cy="276.6" r="1.2" fill="#10b8cb"/>
<circle cx="185.0" cy="273.1" r="1.2" fill="#10b6d0"/>
<circle cx="181.7" cy="275.6" r="1.2" fill="#13a5e8"/>
<circle cx="184.2" cy="274.5" r="1.2" fill="#14a1eb"/>
<circle cx="187.8" cy="271.7" r="1.2" fill="#10b1da"/>
<circle cx="188.5" cy="273.2" r="1.2" fill="#10ade2"/>
<circle cx="186.4" cy="275.0" r="1.2" fill="#11a9e6"/>
<circle cx="190.0" cy="273.9" r="1.2" fill="#10aee0"/>
<circle cx="181.8" cy="277.2" r="1.2" fill="#10b1da"/>
<circle cx="181.1" cy="276.5" r="1.2" fill="#10bac9"/>
<circle cx="188.0" cy="272.7" r="1.2" fill="#10b3d7"/>
<circle cx="185.4" cy="276.8" r="1.2" fill="#10abe5"/>
<circle cx="185.6" cy="276.9" r="1.2" fill="#11aae5"/>
<circle cx="184.9" cy="274.7" r="1.2" fill="#10b5d2"/>
<circle cx="188.7" cy="274.4" r="1.2" fill="#13a3ea"/>
<circle cx="187.5" cy="275.9" r="1.2" fill="#12a5e8"/>
<circle cx="184.7" cy="274.5" r="1.2" fill="#14a1eb"/>
<circle cx="187.8" cy="274.5" r="1.2" fill="#12a7e7"/>
<circle cx="182.5" cy="275.8" r="1.2" fill="#159eed"/>
<circle cx="183.7" cy="274.6" r="1.2" fill="#169bef"/>
<circle cx="190.2" cy="274.1" r="1.2" fill="#12a7e7"/>
<circle cx="184.7" cy="273.5" r="1.2" fill="#14a2eb"/>
<circle cx="191.5" cy="271.5" r="1.2" fill="#10aee0"/>
<circle cx="181.8" cy="272.5" r="1.1" fill="#60cc36"/>
<circle cx="182.5" cy="272.2" r="1.1" fill="#6bcb33"/>
<circle cx="183.2" cy="272.0" r="1.1" fill="#77cb30"/>
<circle cx="183.8" cy="271.7" r="1.1" fill="#82ca2c"/>
<circle cx="184.5" cy="271.4" r="1.1" fill="#8dca29"/>
<circle cx="185.2" cy="271.2" r="1.1" fill="#98c926"/>
<circle cx="185.9" cy="270.9" r="1.1" fill="#a3c923"/>
<circle cx="186.6" cy="270.6" r="1.1" fill="#afc820"/>
<circle cx="187.2" cy="270.4" r="1.1" fill="#b7c71c"/>
<circle cx="187.9" cy="270.1" r="1.1" fill="#bdc519"/>
<circle cx="188.6" cy="269.8" r="1.1" fill="#c3c315"/>
<circle cx="189.3" cy="269.5" r="1.1" fill="#cac112"/>
<circle cx="190.0" cy="269.3" r="1.1" fill="#d0c00e"/>
<circle cx="190.7" cy="269.0" r="1.1" fill="#d6be0b"/>
<circle cx="191.3" cy="268.7" r="1.1" fill="#dcbc07"/>
<circle cx="192.0" cy="268.5" r="1.1" fill="#e2ba04"/>
<circle cx="192.7" cy="268.2" r="1.1" fill="#e8b800"/>
<circle cx="214.0" cy="306.4" r="1.05" fill="#3e18cd"/>
<circle cx="214.0" cy="305.7" r="1.05" fill="#3e1ad0"/>
<circle cx="214.0" cy="305.0" r="1.05" fill="#3d1bd3"/>
<circle cx="214.0" cy="304.3" r="1.05" fill="#3d1dd6"/>
<circle cx="214.0" cy="303.5" r="1.05" fill="#3c1fd9"/>
<circle cx="214.0" cy="302.8" r="1.05" fill="#3c20dc"/>
<circle cx="214.0" cy="302.1" r="1.05" fill="#3c22de"/>
<circle cx="214.0" cy="301.4" r="1.05" fill="#3b24e1"/>
<circle cx="214.0" cy="300.7" r="1.05" fill="#3b25e4"/>
<circle cx="214.0" cy="300.0" r="1.05" fill="#3b27e7"/>
<circle cx="214.0" cy="299.3" r="1.05" fill="#3a29ea"/>
<circle cx="214.0" cy="298.6" r="1.05" fill="#3a2bec"/>
<circle cx="214.0" cy="297.9" r="1.05" fill="#392fee"/>
<circle cx="214.0" cy="297.1" r="1.05" fill="#3733ef"/>
<circle cx="214.0" cy="296.4" r="1.05" fill="#3637f0"/>
<circle cx="214.0" cy="295.7" r="1.05" fill="#353bf1"/>
<circle cx="214.0" cy="295.0" r="1.05" fill="#343ff2"/>
<circle cx="214.0" cy="294.3" r="1.05" fill="#3343f3"/>
<circle cx="214.0" cy="293.6" r="1.05" fill="#3148f5"/>
<circle cx="214.0" cy="292.9" r="1.05" fill="#304cf6"/>
<circle cx="214.0" cy="292.1" r="1.05" fill="#2f51f7"/>
<circle cx="214.0" cy="291.4" r="1.05" fill="#2e55f8"/>
<circle cx="214.0" cy="290.7" r="1.05" fill="#2c59f8"/>
<circle cx="214.0" cy="290.0" r="1.05" fill="#2b5ef8"/>
<circle cx="214.0" cy="289.3" r="1.05" fill="#2962f8"/>
<circle cx="214.0" cy="288.6" r="1.05" fill="#2866f8"/>
<circle cx="214.0" cy="287.9" r="1.05" fill="#266af8"/>
<circle cx="214.0" cy="287.1" r="1.05" fill="#246ef8"/>
<circle cx="214.0" cy="286.4" r="1.05" fill="#2372f8"/>
<circle cx="214.0" cy="285.7" r="1.05" fill="#2276f8"/>
<circle cx="214.0" cy="285.0" r="1.05" fill="#207af8"/>
<circle cx="214.0" cy="284.3" r="1.05" fill="#1f7ff7"/>
<circle cx="214.0" cy="283.5" r="1.05" fill="#1d84f6"/>
<circle cx="214.0" cy="282.8" r="1.05" fill="#1c89f5"/>
<circle cx="214.0" cy="282.1" r="1.05" fill="#1a8ef4"/>
<circle cx="214.0" cy="281.4" r="1.05" fill="#1993f3"/>
<circle cx="214.0" cy="280.6" r="1.05" fill="#1798f1"/>
<circle cx="214.0" cy="279.9" r="1.05" fill="#169cee"/>
<circle cx="214.0" cy="279.2" r="1.05" fill="#14a0ec"/>
<circle cx="214.0" cy="278.5" r="1.05" fill="#13a4e9"/>
<circle cx="214.0" cy="277.7" r="1.05" fill="#11a8e7"/>
<circle cx="214.0" cy="277.0" r="1.05" fill="#10ace4"/>
<circle cx="214.0" cy="276.3" r="1.05" fill="#10b3d6"/>
<circle cx="214.0" cy="275.6" r="1.05" fill="#10bac8"/>
<circle cx="214.0" cy="274.9" r="1.05" fill="#12c0b4"/>
<circle cx="214.0" cy="274.2" r="1.05" fill="#14c6a0"/>
<circle cx="214.0" cy="273.5" r="1.05" fill="#16ca7d"/>
<circle cx="210.0" cy="306.7" r="1.1" fill="#e8b800"/>
<circle cx="209.3" cy="306.7" r="1.1" fill="#dfbb05"/>
<circle cx="208.6" cy="306.7" r="1.1" fill="#d6be0a"/>
<circle cx="207.9" cy="306.6" r="1.1" fill="#cdc010"/>
<circle cx="207.2" cy="306.6" r="1.1" fill="#c4c315"/>
<circle cx="206.5" cy="306.6" r="1.1" fill="#bbc61a"/>
<circle cx="205.8" cy="306.6" r="1.1" fill="#b0c81f"/>
<circle cx="205.1" cy="306.5" r="1.1" fill="#a0c924"/>
<circle cx="204.4" cy="306.5" r="1.1" fill="#8fca29"/>
<circle cx="203.7" cy="306.5" r="1.1" fill="#7ecb2d"/>
<circle cx="203.0" cy="306.5" r="1.1" fill="#6ecb32"/>
<circle cx="202.3" cy="306.4" r="1.1" fill="#5ecc38"/>
<circle cx="201.6" cy="306.4" r="1.1" fill="#4fcc42"/>
<circle cx="200.9" cy="306.4" r="1.1" fill="#41cc4b"/>
<circle cx="200.4" cy="305.8" r="1.1" fill="#39cc51"/>
<circle cx="200.0" cy="305.2" r="1.1" fill="#30cc57"/>
<circle cx="199.6" cy="304.5" r="1.1" fill="#27cc5d"/>
<circle cx="199.1" cy="303.9" r="1.1" fill="#1fcc63"/>
<circle cx="198.6" cy="303.3" r="1.1" fill="#18cc69"/>
<circle cx="198.2" cy="302.7" r="1.1" fill="#18cb6f"/>
<circle cx="198.4" cy="302.0" r="1.1" fill="#17cb76"/>
<circle cx="198.6" cy="301.3" r="1.1" fill="#16ca7d"/>
<circle cx="198.7" cy="300.5" r="1.1" fill="#16c984"/>
<circle cx="198.9" cy="299.8" r="1.1" fill="#16c88b"/>
<circle cx="199.1" cy="299.1" r="1.1" fill="#15c892"/>
<circle cx="201.8" cy="298.2" r="1.0" fill="#c7c213"/>
<circle cx="202.2" cy="297.6" r="1.0" fill="#c3c315"/>
<circle cx="202.6" cy="297.0" r="1.0" fill="#bec518"/>
<circle cx="203.1" cy="296.3" r="1.0" fill="#bac61b"/>
<circle cx="203.5" cy="295.7" r="1.0" fill="#b5c81d"/>
<circle cx="203.9" cy="295.1" r="1.0" fill="#aec820"/>
<circle cx="204.3" cy="294.5" r="1.0" fill="#a6c922"/>
<circle cx="204.7" cy="293.9" r="1.0" fill="#9dc925"/>
<circle cx="205.2" cy="293.2" r="1.0" fill="#95c927"/>
<circle cx="205.6" cy="292.6" r="1.0" fill="#8cca29"/>
<circle cx="206.0" cy="292.0" r="1.0" fill="#84ca2c"/>
<circle cx="206.4" cy="291.4" r="1.0" fill="#7fcb2d"/>
<circle cx="206.9" cy="290.8" r="1.0" fill="#79cb2f"/>
<circle cx="207.3" cy="290.1" r="1.0" fill="#74cb30"/>
<circle cx="207.8" cy="289.5" r="1.0" fill="#6fcb32"/>
<circle cx="208.2" cy="288.9" r="1.0" fill="#69cc33"/>
<circle cx="208.7" cy="288.3" r="1.0" fill="#64cc35"/>
<circle cx="209.1" cy="287.6" r="1.0" fill="#5fcc37"/>
<circle cx="209.6" cy="287.0" r="1.0" fill="#5acc3a"/>
<circle cx="210.0" cy="286.4" r="1.0" fill="#56cc3d"/>
<circle cx="210.2" cy="285.7" r="1.0" fill="#52cc40"/>
<circle cx="210.5" cy="285.1" r="1.0" fill="#4ecc42"/>
<circle cx="210.7" cy="284.4" r="1.0" fill="#4acc45"/>
<circle cx="211.0" cy="283.7" r="1.0" fill="#47cc48"/>
<circle cx="211.2" cy="283.1" r="1.0" fill="#43cc4a"/>
<circle cx="211.5" cy="282.4" r="1.0" fill="#3fcc4d"/>
<circle cx="211.7" cy="281.8" r="1.0" fill="#3ccc4f"/>
<circle cx="212.0" cy="281.1" r="1.0" fill="#38cc52"/>
<circle cx="212.2" cy="280.4" r="1.0" fill="#34cc55"/>
<circle cx="212.5" cy="279.8" r="1.0" fill="#30cc57"/>
<circle cx="212.7" cy="279.1" r="1.0" fill="#2dcc5a"/>
<circle cx="200.2" cy="299.7" r="1.2" fill="#12a5e8"/>
<circle cx="200.6" cy="299.4" r="1.2" fill="#169dee"/>
<circle cx="199.3" cy="299.1" r="1.2" fill="#14a1eb"/>
<circle cx="200.1" cy="298.9" r="1.2" fill="#10b1da"/>
<circle cx="191.0" cy="299.6" r="1.2" fill="#14a1eb"/>
<circle cx="194.1" cy="301.8" r="1.2" fill="#12a6e8"/>
<circle cx="193.6" cy="299.5" r="1.2" fill="#10b0dc"/>
<circle cx="200.0" cy="303.4" r="1.2" fill="#10b0dd"/>
<circle cx="199.7" cy="301.7" r="1.2" fill="#159eed"/>
<circle cx="199.6" cy="299.3" r="1.2" fill="#13a3ea"/>
<circle cx="200.2" cy="298.7" r="1.2" fill="#10b2d9"/>
<circle cx="190.7" cy="302.7" r="1.2" fill="#159ded"/>
<circle cx="199.5" cy="300.4" r="1.2" fill="#13a4e9"/>
<circle cx="195.8" cy="302.0" r="1.2" fill="#14a2eb"/>
<circle cx="187.9" cy="301.9" r="1.2" fill="#169bef"/>
<circle cx="199.1" cy="299.9" r="1.2" fill="#159fec"/>
<circle cx="190.7" cy="301.6" r="1.2" fill="#12a6e8"/>
<circle cx="191.0" cy="299.5" r="1.2" fill="#11a8e6"/>
<circle cx="197.7" cy="300.7" r="1.2" fill="#10afde"/>
<circle cx="193.2" cy="300.3" r="1.2" fill="#11a9e6"/>
<circle cx="198.7" cy="300.2" r="1.2" fill="#13a5e9"/>
<circle cx="194.2" cy="301.1" r="1.2" fill="#11a9e6"/>
<circle cx="192.8" cy="301.0" r="1.2" fill="#10aee0"/>
<circle cx="188.6" cy="303.8" r="1.2" fill="#14a2ea"/>
<circle cx="187.2" cy="301.6" r="1.2" fill="#10b0dc"/>
<circle cx="197.3" cy="300.8" r="1.2" fill="#10aedf"/>
<circle cx="196.2" cy="304.4" r="1.2" fill="#11aae5"/>
<circle cx="198.5" cy="299.4" r="1.2" fill="#10ade2"/>
<circle cx="196.7" cy="297.3" r="1.2" fill="#11a9e6"/>
<circle cx="200.1" cy="298.8" r="1.2" fill="#10aee1"/>
<circle cx="197.2" cy="302.3" r="1.2" fill="#10afdf"/>
<circle cx="196.5" cy="297.1" r="1.2" fill="#14a0ec"/>
<circle cx="189.3" cy="302.0" r="1.2" fill="#159eed"/>
<circle cx="198.7" cy="300.8" r="1.2" fill="#11a9e6"/>
<circle cx="196.0" cy="298.2" r="1.2" fill="#10aee0"/>
<circle cx="192.6" cy="300.3" r="1.2" fill="#11a9e6"/>
<circle cx="196.5" cy="299.7" r="1.2" fill="#13a4e9"/>
<circle cx="197.5" cy="303.6" r="1.2" fill="#13a3ea"/>
<circle cx="196.9" cy="302.1" r="1.2" fill="#12a6e8"/>
<circle cx="200.4" cy="300.7" r="1.2" fill="#14a1eb"/>
<circle cx="195.0" cy="300.1" r="1.2" fill="#10b2d8"/>
<circle cx="195.7" cy="300.9" r="1.2" fill="#10ade2"/>
<circle cx="195.0" cy="302.2" r="1.2" fill="#11a9e6"/>
<circle cx="193.8" cy="301.2" r="1.2" fill="#10b0dc"/>
<circle cx="188.9" cy="303.7" r="1.2" fill="#13a3ea"/>
<circle cx="198.7" cy="297.6" r="1.2" fill="#11a8e6"/>
<circle cx="192.6" cy="303.0" r="1.2" fill="#14a0ec"/>
<circle cx="194.4" cy="301.9" r="1.2" fill="#169aef"/>
<circle cx="200.4" cy="300.9" r="1.2" fill="#11abe5"/>
<circle cx="190.3" cy="302.6" r="1.2" fill="#10b0dd"/>
<circle cx="67.7" cy="372.2" r="1.25" fill="#3d1cd3"/>
<circle cx="69.9" cy="370.9" r="1.25" fill="#3d1cd4"/>
<circle cx="72.9" cy="369.4" r="1.25" fill="#3d1dd5"/>
<circle cx="75.7" cy="368.0" r="1.25" fill="#3d1dd6"/>
<circle cx="78.8" cy="365.9" r="1.25" fill="#3d1ed8"/>
<circle cx="80.1" cy="365.0" r="1.25" fill="#3d1ed8"/>
<circle cx="82.4" cy="363.2" r="1.25" fill="#3c1fd9"/>
<circle cx="83.5" cy="362.4" r="1.25" fill="#3c1fda"/>
<circle cx="86.8" cy="360.4" r="1.25" fill="#3c20db"/>
<circle cx="89.5" cy="358.4" r="1.25" fill="#3c21dc"/>
<circle cx="91.6" cy="356.3" r="1.25" fill="#3c21dd"/>
<circle cx="92.8" cy="354.6" r="1.25" fill="#3c22de"/>
<circle cx="95.6" cy="352.1" r="1.25" fill="#3c22df"/>
<circle cx="96.9" cy="351.2" r="1.25" fill="#3c23df"/>
<circle cx="98.5" cy="350.4" r="1.25" fill="#3c23e0"/>
<circle cx="101.7" cy="348.1" r="1.25" fill="#3b24e1"/>
<circle cx="104.8" cy="345.8" r="1.25" fill="#3b25e3"/>
<circle cx="106.4" cy="345.4" r="1.25" fill="#3b25e3"/>
<circle cx="108.2" cy="344.8" r="1.25" fill="#3b25e4"/>
<circle cx="111.9" cy="343.9" r="1.25" fill="#3b26e5"/>
<circle cx="114.7" cy="341.9" r="1.25" fill="#3b27e6"/>
<circle cx="116.8" cy="340.6" r="1.25" fill="#3b27e7"/>
<circle cx="120.0" cy="338.5" r="1.25" fill="#3a28e8"/>
<circle cx="123.0" cy="337.5" r="1.25" fill="#3a29e9"/>
<circle cx="126.5" cy="336.6" r="1.25" fill="#3a29eb"/>
<circle cx="128.8" cy="336.3" r="1.25" fill="#3a2aeb"/>
<circle cx="109.8" cy="344.6" r="1.25" fill="#2e54f8"/>
<circle cx="111.1" cy="343.5" r="1.25" fill="#2e54f8"/>
<circle cx="112.7" cy="342.6" r="1.25" fill="#2e54f8"/>
<circle cx="114.1" cy="341.5" r="1.25" fill="#2e54f8"/>
<circle cx="114.9" cy="340.8" r="1.25" fill="#2e54f8"/>
<circle cx="117.0" cy="339.3" r="1.25" fill="#2e54f8"/>
<circle cx="117.9" cy="338.7" r="1.25" fill="#2e54f8"/>
<circle cx="119.8" cy="338.1" r="1.25" fill="#2e54f8"/>
<circle cx="130.3" cy="336.6" r="1.25" fill="#3c21dc"/>
<circle cx="132.7" cy="335.5" r="1.25" fill="#3c22de"/>
<circle cx="134.7" cy="334.7" r="1.25" fill="#3c23e0"/>
<circle cx="136.5" cy="334.2" r="1.25" fill="#3b24e1"/>
<circle cx="138.6" cy="332.5" r="1.25" fill="#3b25e4"/>
<circle cx="141.1" cy="331.2" r="1.25" fill="#3b26e6"/>
<circle cx="142.3" cy="330.2" r="1.25" fill="#3b27e7"/>
<circle cx="143.8" cy="329.1" r="1.25" fill="#3a28e8"/>
<circle cx="146.0" cy="327.9" r="1.25" fill="#3a29ea"/>
<circle cx="146.9" cy="327.1" r="1.25" fill="#3a2aeb"/>
<circle cx="148.8" cy="325.3" r="1.25" fill="#392ced"/>
<circle cx="149.8" cy="324.4" r="1.25" fill="#392ded"/>
<circle cx="151.4" cy="322.9" r="1.25" fill="#3830ee"/>
<circle cx="152.5" cy="321.8" r="1.25" fill="#3831ee"/>
<circle cx="155.2" cy="320.2" r="1.25" fill="#3734ef"/>
<circle cx="157.5" cy="319.0" r="1.25" fill="#3637f0"/>
<circle cx="159.1" cy="318.4" r="1.25" fill="#3639f0"/>
<circle cx="161.4" cy="317.9" r="1.25" fill="#353cf1"/>
<circle cx="162.7" cy="317.6" r="1.25" fill="#353df1"/>
<circle cx="163.9" cy="317.6" r="1.25" fill="#343ef2"/>
<circle cx="162.6" cy="317.6" r="1.3" fill="#2b5cf8"/>
<circle cx="163.2" cy="317.2" r="1.3" fill="#2a5ff8"/>
<circle cx="163.8" cy="316.1" r="1.3" fill="#2962f8"/>
<circle cx="164.8" cy="315.7" r="1.3" fill="#2766f8"/>
<circle cx="164.9" cy="315.9" r="1.3" fill="#2669f8"/>
<circle cx="165.3" cy="315.3" r="1.3" fill="#256cf8"/>
<circle cx="166.5" cy="314.9" r="1.3" fill="#2470f8"/>
<circle cx="166.7" cy="314.6" r="1.3" fill="#2273f8"/>
<circle cx="167.7" cy="314.1" r="1.3" fill="#2177f8"/>
<circle cx="168.1" cy="313.5" r="1.3" fill="#207af8"/>
<circle cx="168.6" cy="313.7" r="1.3" fill="#1f7cf8"/>
<circle cx="169.7" cy="312.5" r="1.3" fill="#1f7ef7"/>
<circle cx="169.8" cy="312.4" r="1.3" fill="#1e80f7"/>
<circle cx="171.0" cy="312.1" r="1.3" fill="#1e82f6"/>
<circle cx="171.1" cy="312.2" r="1.3" fill="#1d84f6"/>
<circle cx="171.8" cy="312.0" r="1.3" fill="#1d86f5"/>
<circle cx="172.7" cy="311.6" r="1.3" fill="#1c88f5"/>
<circle cx="173.7" cy="310.7" r="1.3" fill="#1b8af5"/>
<circle cx="174.4" cy="310.6" r="1.3" fill="#1b8cf4"/>
<circle cx="174.6" cy="310.0" r="1.3" fill="#1a8ef4"/>
<circle cx="175.7" cy="310.0" r="1.3" fill="#1a90f3"/>
<circle cx="176.0" cy="310.0" r="1.3" fill="#1992f3"/>
<circle cx="176.6" cy="309.4" r="1.3" fill="#1993f3"/>
<circle cx="177.2" cy="309.0" r="1.3" fill="#1895f2"/>
<circle cx="178.6" cy="308.9" r="1.3" fill="#1896f2"/>
<circle cx="178.7" cy="308.4" r="1.3" fill="#1798f1"/>
<circle cx="179.8" cy="308.2" r="1.3" fill="#1799f0"/>
<circle cx="180.7" cy="307.7" r="1.3" fill="#179af0"/>
<circle cx="181.3" cy="307.9" r="1.3" fill="#169bef"/>
<circle cx="182.0" cy="307.4" r="1.3" fill="#169cee"/>
<circle cx="182.1" cy="307.0" r="1.3" fill="#159ded"/>
<circle cx="183.2" cy="306.6" r="1.3" fill="#159fed"/>
<circle cx="183.5" cy="306.9" r="1.3" fill="#14a0ec"/>
<circle cx="184.8" cy="306.7" r="1.3" fill="#14a1eb"/>
<circle cx="185.4" cy="306.2" r="1.3" fill="#13a3ea"/>
<circle cx="186.1" cy="306.0" r="1.3" fill="#13a4e9"/>
<circle cx="186.5" cy="305.5" r="1.3" fill="#12a6e8"/>
<circle cx="186.7" cy="305.0" r="1.3" fill="#12a7e7"/>
<circle cx="187.5" cy="305.0" r="1.3" fill="#11a9e6"/>
<circle cx="188.1" cy="305.2" r="1.3" fill="#11aae5"/>
<circle cx="189.1" cy="304.7" r="1.3" fill="#10ace4"/>
<circle cx="190.0" cy="304.1" r="1.3" fill="#10ade2"/>
<circle cx="190.7" cy="304.4" r="1.3" fill="#10aee0"/>
<circle cx="190.8" cy="303.5" r="1.3" fill="#10afde"/>
<circle cx="191.9" cy="303.8" r="1.3" fill="#10b0dc"/>
<circle cx="192.5" cy="303.2" r="1.3" fill="#10b1da"/>
<circle cx="193.0" cy="302.7" r="1.3" fill="#10b2d8"/>
<circle cx="193.4" cy="302.6" r="1.3" fill="#10b3d6"/>
<circle cx="130.0" cy="327.5" r="1.3" fill="#e8b800"/>
<circle cx="130.8" cy="327.6" r="1.3" fill="#d4be0b"/>
<circle cx="131.6" cy="327.6" r="1.3" fill="#c1c417"/>
<circle cx="132.4" cy="327.7" r="1.3" fill="#a8c921"/>
<circle cx="133.2" cy="327.7" r="1.3" fill="#84ca2c"/>
<circle cx="134.0" cy="327.8" r="1.3" fill="#60cc36"/>
<circle cx="134.8" cy="327.7" r="1.3" fill="#56cc3d"/>
<circle cx="135.6" cy="327.7" r="1.3" fill="#4bcc44"/>
<circle cx="136.4" cy="327.6" r="1.3" fill="#41cc4b"/>
<circle cx="137.2" cy="327.6" r="1.3" fill="#37cc53"/>
<circle cx="138.0" cy="327.5" r="1.3" fill="#2dcc5a"/>
<circle cx="138.8" cy="327.5" r="1.3" fill="#29cc5c"/>
<circle cx="139.6" cy="327.4" r="1.3" fill="#26cc5e"/>
<circle cx="140.3" cy="327.4" r="1.3" fill="#22cc61"/>
<circle cx="141.1" cy="327.4" r="1.3" fill="#1fcc63"/>
<circle cx="141.9" cy="327.3" r="1.3" fill="#1bcc66"/>
<circle cx="142.7" cy="327.3" r="1.3" fill="#18cc68"/>
<circle cx="68.2" cy="261.5" r="1.1" fill="#3e18cd"/>
<circle cx="68.2" cy="261.5" r="3.3" fill="none" stroke="#f4633c" stroke-width="1.0"/>
<circle cx="73.1" cy="267.6" r="1.1" fill="#3e18cd"/>
<circle cx="73.1" cy="267.6" r="3.3" fill="none" stroke="#f4633c" stroke-width="1.0"/>
<circle cx="118.5" cy="301.8" r="1.1" fill="#3e18cd"/>
<circle cx="118.5" cy="301.8" r="3.3" fill="none" stroke="#f4633c" stroke-width="1.0"/>
<circle cx="139.5" cy="309.1" r="1.1" fill="#3e18cd"/>
<circle cx="139.5" cy="309.1" r="3.3" fill="none" stroke="#f4633c" stroke-width="1.0"/>
<circle cx="214.5" cy="306.7" r="1.1" fill="#3e18cd"/>
<circle cx="214.5" cy="306.7" r="3.3" fill="none" stroke="#f4633c" stroke-width="1.0"/>
<circle cx="207.3" cy="328.2" r="1.1" fill="#3e18cd"/>
<circle cx="207.3" cy="328.2" r="3.3" fill="none" stroke="#f4633c" stroke-width="1.0"/>
<circle cx="67.6" cy="372.4" r="1.1" fill="#3e18cd"/>
<circle cx="67.6" cy="372.4" r="3.3" fill="none" stroke="#f4633c" stroke-width="1.0"/>
<circle cx="130.4" cy="336.4" r="1.1" fill="#3e18cd"/>
<circle cx="130.4" cy="336.4" r="3.3" fill="none" stroke="#f4633c" stroke-width="1.0"/>
<circle cx="92.7" cy="363.6" r="1.1" fill="#3e18cd"/>
<circle cx="92.7" cy="363.6" r="3.3" fill="none" stroke="#f4633c" stroke-width="1.0"/>
<circle cx="375.4" cy="264.3" r="1.25" fill="#3d1cd3"/>
<circle cx="378.1" cy="264.5" r="1.25" fill="#3d1cd4"/>
<circle cx="381.2" cy="265.0" r="1.25" fill="#3d1dd6"/>
<circle cx="384.8" cy="264.9" r="1.25" fill="#3d1ed7"/>
<circle cx="387.1" cy="264.7" r="1.25" fill="#3d1fd8"/>
<circle cx="389.7" cy="265.1" r="1.25" fill="#3c1fd9"/>
<circle cx="393.7" cy="265.3" r="1.25" fill="#3c20db"/>
<circle cx="396.0" cy="265.9" r="1.25" fill="#3c21dc"/>
<circle cx="410.7" cy="265.3" r="1.2" fill="#2373f8"/>
<circle cx="407.2" cy="266.3" r="1.2" fill="#304ef6"/>
<circle cx="403.9" cy="265.2" r="1.2" fill="#2c59f8"/>
<circle cx="410.5" cy="266.4" r="1.2" fill="#2866f8"/>
<circle cx="411.2" cy="266.5" r="1.2" fill="#1f7ef7"/>
<circle cx="410.2" cy="266.3" r="1.2" fill="#2768f8"/>
<circle cx="406.0" cy="266.0" r="1.2" fill="#3246f4"/>
<circle cx="401.1" cy="266.8" r="1.2" fill="#3b27e6"/>
<circle cx="396.8" cy="266.2" r="1.2" fill="#3c1fd9"/>
<circle cx="404.9" cy="266.1" r="1.2" fill="#3247f4"/>
<circle cx="412.7" cy="265.7" r="1.2" fill="#2176f8"/>
<circle cx="399.4" cy="266.3" r="1.2" fill="#3b26e5"/>
<circle cx="401.9" cy="266.7" r="1.2" fill="#3733ef"/>
<circle cx="405.3" cy="267.1" r="1.2" fill="#343ff2"/>
<circle cx="397.0" cy="265.3" r="1.2" fill="#3a29e9"/>
<circle cx="406.3" cy="265.6" r="1.2" fill="#304ff6"/>
<circle cx="399.0" cy="265.9" r="1.2" fill="#3c21dc"/>
<circle cx="407.6" cy="267.2" r="1.2" fill="#246ff8"/>
<circle cx="408.2" cy="267.4" r="1.2" fill="#304ef6"/>
<circle cx="400.8" cy="267.2" r="1.2" fill="#343ff2"/>
<circle cx="402.8" cy="267.2" r="1.2" fill="#3245f4"/>
<circle cx="409.7" cy="265.8" r="1.2" fill="#2b5df8"/>
<circle cx="403.4" cy="265.2" r="1.2" fill="#343ff2"/>
<circle cx="412.1" cy="266.0" r="1.2" fill="#2864f8"/>
<circle cx="396.8" cy="265.1" r="1.2" fill="#3a28e9"/>
<circle cx="402.1" cy="265.6" r="1.2" fill="#3a2aec"/>
<circle cx="428.7" cy="266.6" r="1.2" fill="#13a5e9"/>
<circle cx="413.7" cy="265.4" r="1.2" fill="#2372f8"/>
<circle cx="423.8" cy="265.8" r="1.2" fill="#1993f3"/>
<circle cx="420.7" cy="266.0" r="1.2" fill="#14a1eb"/>
<circle cx="414.7" cy="266.5" r="1.2" fill="#1c89f5"/>
<circle cx="419.3" cy="267.7" r="1.2" fill="#1a90f3"/>
<circle cx="416.6" cy="266.3" r="1.2" fill="#207bf8"/>
<circle cx="419.6" cy="266.0" r="1.2" fill="#169bef"/>
<circle cx="426.2" cy="266.7" r="1.2" fill="#169aef"/>
<circle cx="416.9" cy="265.9" r="1.2" fill="#1e80f7"/>
<circle cx="416.5" cy="267.4" r="1.2" fill="#1f7df7"/>
<circle cx="413.5" cy="267.4" r="1.2" fill="#1f7ff7"/>
<circle cx="428.9" cy="266.6" r="1.2" fill="#10b1d9"/>
<circle cx="423.3" cy="267.4" r="1.2" fill="#14a2ea"/>
<circle cx="420.8" cy="265.6" r="1.2" fill="#1a8ef4"/>
<circle cx="426.9" cy="267.7" r="1.2" fill="#10aedf"/>
<circle cx="418.2" cy="266.9" r="1.2" fill="#1895f2"/>
<circle cx="423.2" cy="267.4" r="1.2" fill="#159dee"/>
<circle cx="423.4" cy="267.1" r="1.2" fill="#1798f1"/>
<circle cx="427.7" cy="267.9" r="1.2" fill="#159fec"/>
<circle cx="428.5" cy="267.9" r="1.2" fill="#10aee1"/>
<circle cx="413.4" cy="267.4" r="1.2" fill="#246ff8"/>
<circle cx="428.5" cy="267.2" r="1.2" fill="#14a1eb"/>
<circle cx="415.4" cy="266.8" r="1.2" fill="#1d85f6"/>
<circle cx="424.8" cy="267.7" r="1.2" fill="#169bef"/>
<circle cx="412.7" cy="267.4" r="1.2" fill="#2768f8"/>
<circle cx="443.1" cy="266.5" r="1.2" fill="#11beba"/>
<circle cx="441.5" cy="268.3" r="1.2" fill="#10bac8"/>
<circle cx="443.1" cy="266.7" r="1.2" fill="#11bdbf"/>
<circle cx="434.2" cy="268.0" r="1.2" fill="#10b5d1"/>
<circle cx="436.5" cy="267.2" r="1.2" fill="#10ade1"/>
<circle cx="429.5" cy="267.1" r="1.2" fill="#10ace3"/>
<circle cx="442.8" cy="267.7" r="1.2" fill="#10b5d1"/>
<circle cx="434.8" cy="267.7" r="1.2" fill="#10b2d7"/>
<circle cx="429.1" cy="267.6" r="1.2" fill="#10b1da"/>
<circle cx="430.4" cy="267.0" r="1.2" fill="#10ace4"/>
<circle cx="441.6" cy="266.9" r="1.2" fill="#10b5d1"/>
<circle cx="436.7" cy="268.3" r="1.2" fill="#10afdf"/>
<circle cx="430.8" cy="267.2" r="1.2" fill="#10b3d5"/>
<circle cx="437.2" cy="267.0" r="1.2" fill="#10bac9"/>
<circle cx="441.5" cy="266.3" r="1.2" fill="#11bebb"/>
<circle cx="432.2" cy="266.5" r="1.2" fill="#10b4d4"/>
<circle cx="435.7" cy="267.8" r="1.2" fill="#10aedf"/>
<circle cx="443.0" cy="266.6" r="1.2" fill="#10b6d0"/>
<circle cx="436.9" cy="266.8" r="1.2" fill="#10b5d2"/>
<circle cx="443.4" cy="267.9" r="1.2" fill="#10b4d3"/>
<circle cx="434.0" cy="267.1" r="1.2" fill="#10b1da"/>
<circle cx="440.5" cy="267.3" r="1.2" fill="#10b2d8"/>
<circle cx="432.9" cy="267.8" r="1.2" fill="#10aee0"/>
<circle cx="441.2" cy="268.5" r="1.2" fill="#10bbc6"/>
<circle cx="439.8" cy="267.5" r="1.2" fill="#10b5d2"/>
<circle cx="457.4" cy="268.0" r="1.2" fill="#17ca7b"/>
<circle cx="449.1" cy="268.6" r="1.2" fill="#13c4a8"/>
<circle cx="453.3" cy="267.7" r="1.2" fill="#12bfb6"/>
<circle cx="455.5" cy="267.6" r="1.2" fill="#15c797"/>
<circle cx="446.9" cy="266.6" r="1.2" fill="#10bac9"/>
<circle cx="456.0" cy="267.2" r="1.2" fill="#16c983"/>
<circle cx="450.1" cy="267.9" r="1.2" fill="#12bfb7"/>
<circle cx="453.5" cy="266.9" r="1.2" fill="#13c3ab"/>
<circle cx="457.8" cy="267.3" r="1.2" fill="#15c88c"/>
<circle cx="449.5" cy="267.2" r="1.2" fill="#10bbc6"/>
<circle cx="445.2" cy="268.6" r="1.2" fill="#12c1b2"/>
<circle cx="455.9" cy="268.7" r="1.2" fill="#16c980"/>
<circle cx="447.1" cy="267.8" r="1.2" fill="#11beba"/>
<circle cx="452.8" cy="268.9" r="1.2" fill="#14c69e"/>
<circle cx="458.2" cy="267.2" r="1.2" fill="#16c88a"/>
<circle cx="454.2" cy="268.5" r="1.2" fill="#14c6a0"/>
<circle cx="456.3" cy="267.5" r="1.2" fill="#16c980"/>
<circle cx="450.5" cy="268.0" r="1.2" fill="#14c6a0"/>
<circle cx="454.6" cy="267.5" r="1.2" fill="#13c2af"/>
<circle cx="449.4" cy="268.0" r="1.2" fill="#14c69e"/>
<circle cx="457.2" cy="267.8" r="1.2" fill="#14c6a0"/>
<circle cx="431.5" cy="260.5" r="0.9" fill="#3e18cd"/>
<circle cx="431.4" cy="261.2" r="0.9" fill="#3e1ad0"/>
<circle cx="431.3" cy="261.9" r="0.9" fill="#3d1cd3"/>
<circle cx="431.1" cy="262.6" r="0.9" fill="#3d1dd6"/>
<circle cx="431.0" cy="263.3" r="0.9" fill="#3c1fd9"/>
<circle cx="430.9" cy="264.0" r="0.9" fill="#3c21dc"/>
<circle cx="420.1" cy="269.7" r="1.2" fill="#3b27e6"/>
<circle cx="412.7" cy="272.8" r="1.2" fill="#3c22df"/>
<circle cx="420.3" cy="274.0" r="1.2" fill="#3e19cf"/>
<circle cx="412.4" cy="271.1" r="1.2" fill="#392ced"/>
<circle cx="419.8" cy="274.2" r="1.2" fill="#3d1bd2"/>
<circle cx="412.7" cy="275.5" r="1.2" fill="#392ded"/>
<circle cx="414.8" cy="272.9" r="1.2" fill="#392eed"/>
<circle cx="418.6" cy="272.6" r="1.2" fill="#3e1ad0"/>
<circle cx="420.4" cy="275.4" r="1.2" fill="#3d1bd2"/>
<circle cx="420.2" cy="275.2" r="1.2" fill="#3b27e7"/>
<circle cx="418.1" cy="270.5" r="1.2" fill="#3b24e1"/>
<circle cx="414.3" cy="272.3" r="1.2" fill="#392fed"/>
<circle cx="412.9" cy="272.1" r="1.2" fill="#3b26e6"/>
<circle cx="414.6" cy="271.9" r="1.2" fill="#3b25e3"/>
<circle cx="416.7" cy="275.1" r="1.2" fill="#3a28e9"/>
<circle cx="416.9" cy="275.6" r="1.2" fill="#3d1cd4"/>
<circle cx="413.3" cy="274.8" r="1.2" fill="#3b23e0"/>
<circle cx="414.6" cy="271.0" r="1.2" fill="#3c20dc"/>
<circle cx="417.6" cy="273.3" r="1.2" fill="#3e18ce"/>
<circle cx="413.4" cy="276.2" r="1.2" fill="#3832ee"/>
<circle cx="419.9" cy="274.7" r="1.2" fill="#3b25e3"/>
<circle cx="413.8" cy="274.9" r="1.2" fill="#3b26e5"/>
<circle cx="416.6" cy="271.7" r="1.2" fill="#3d1cd4"/>
<circle cx="404.9" cy="273.7" r="1.2" fill="#2e54f8"/>
<circle cx="404.4" cy="274.4" r="1.2" fill="#314bf5"/>
<circle cx="405.2" cy="274.7" r="1.2" fill="#2f50f7"/>
<circle cx="410.9" cy="273.2" r="1.2" fill="#3638f0"/>
<circle cx="409.5" cy="273.8" r="1.2" fill="#3342f3"/>
<circle cx="409.0" cy="278.1" r="1.2" fill="#3245f4"/>
<circle cx="409.2" cy="272.5" r="1.2" fill="#3735ef"/>
<circle cx="408.8" cy="272.5" r="1.2" fill="#3636f0"/>
<circle cx="408.7" cy="272.9" r="1.2" fill="#3343f3"/>
<circle cx="404.7" cy="274.6" r="1.2" fill="#2e55f8"/>
<circle cx="406.8" cy="275.4" r="1.2" fill="#3246f4"/>
<circle cx="405.5" cy="277.7" r="1.2" fill="#3342f3"/>
<circle cx="407.0" cy="276.0" r="1.2" fill="#3247f4"/>
<circle cx="408.5" cy="276.9" r="1.2" fill="#3733ef"/>
<circle cx="410.7" cy="272.2" r="1.2" fill="#3636f0"/>
<circle cx="408.2" cy="278.0" r="1.2" fill="#2c58f8"/>
<circle cx="406.2" cy="276.3" r="1.2" fill="#3636f0"/>
<circle cx="405.8" cy="275.8" r="1.2" fill="#2f51f7"/>
<circle cx="411.2" cy="272.3" r="1.2" fill="#3d1ed8"/>
<circle cx="409.6" cy="277.1" r="1.2" fill="#3734ef"/>
<circle cx="398.7" cy="280.3" r="1.2" fill="#1994f2"/>
<circle cx="403.6" cy="279.0" r="1.2" fill="#256cf8"/>
<circle cx="405.1" cy="277.6" r="1.2" fill="#2668f8"/>
<circle cx="399.1" cy="279.1" r="1.2" fill="#1f7ef7"/>
<circle cx="399.7" cy="279.1" r="1.2" fill="#1c87f5"/>
<circle cx="403.6" cy="280.7" r="1.2" fill="#2a60f8"/>
<circle cx="398.0" cy="279.4" r="1.2" fill="#1d84f6"/>
<circle cx="400.8" cy="281.2" r="1.2" fill="#1c88f5"/>
<circle cx="400.6" cy="282.0" r="1.2" fill="#1b8cf4"/>
<circle cx="403.4" cy="278.2" r="1.2" fill="#2e54f8"/>
<circle cx="404.2" cy="279.3" r="1.2" fill="#2276f8"/>
<circle cx="403.2" cy="276.5" r="1.2" fill="#304df6"/>
<circle cx="400.4" cy="283.5" r="1.2" fill="#1d84f6"/>
<circle cx="402.1" cy="276.1" r="1.2" fill="#2669f8"/>
<circle cx="399.7" cy="281.5" r="1.2" fill="#1e80f7"/>
<circle cx="403.1" cy="278.9" r="1.2" fill="#1f7df7"/>
<circle cx="405.0" cy="279.0" r="1.2" fill="#256cf8"/>
<circle cx="402.5" cy="275.4" r="1.2" fill="#2e54f8"/>
<circle cx="401.0" cy="279.1" r="1.2" fill="#1d86f5"/>
<circle cx="403.2" cy="275.8" r="1.2" fill="#304cf6"/>
<circle cx="399.3" cy="287.1" r="1.2" fill="#12a7e7"/>
<circle cx="400.0" cy="283.8" r="1.2" fill="#1c88f5"/>
<circle cx="398.9" cy="284.2" r="1.2" fill="#13a3e9"/>
<circle cx="397.9" cy="285.5" r="1.2" fill="#11aae5"/>
<circle cx="400.0" cy="283.7" r="1.2" fill="#159fec"/>
<circle cx="395.2" cy="286.2" r="1.2" fill="#10afde"/>
<circle cx="396.8" cy="281.0" r="1.2" fill="#1897f1"/>
<circle cx="395.2" cy="284.3" r="1.2" fill="#1798f1"/>
<circle cx="400.3" cy="284.1" r="1.2" fill="#1895f2"/>
<circle cx="397.2" cy="284.6" r="1.2" fill="#169bef"/>
<circle cx="395.0" cy="284.7" r="1.2" fill="#12a8e7"/>
<circle cx="400.7" cy="283.3" r="1.2" fill="#1c8af5"/>
<circle cx="397.9" cy="283.0" r="1.2" fill="#1a8ff4"/>
<circle cx="397.9" cy="285.6" r="1.2" fill="#169cee"/>
<circle cx="394.6" cy="284.2" r="1.2" fill="#169aef"/>
<circle cx="400.3" cy="290.7" r="1.2" fill="#1991f3"/>
<circle cx="408.9" cy="287.2" r="1.2" fill="#11aae5"/>
<circle cx="403.0" cy="277.6" r="1.2" fill="#1895f2"/>
<circle cx="406.9" cy="282.5" r="1.2" fill="#1a8ef4"/>
<circle cx="400.8" cy="283.5" r="1.2" fill="#1897f2"/>
<circle cx="402.0" cy="278.9" r="1.2" fill="#1c89f5"/>
<circle cx="408.1" cy="287.3" r="1.2" fill="#1799f0"/>
<circle cx="396.1" cy="281.1" r="1.2" fill="#159ded"/>
<circle cx="410.1" cy="283.7" r="1.2" fill="#10abe5"/>
<circle cx="403.5" cy="279.5" r="1.2" fill="#159fec"/>
<circle cx="404.8" cy="285.4" r="1.2" fill="#13a3ea"/>
<circle cx="394.4" cy="283.1" r="1.2" fill="#12a5e8"/>
<circle cx="397.3" cy="281.0" r="1.2" fill="#1799f0"/>
<circle cx="399.7" cy="285.9" r="1.2" fill="#1a8ff3"/>
<circle cx="400.2" cy="286.5" r="1.2" fill="#159dee"/>
<circle cx="398.6" cy="281.7" r="1.2" fill="#169dee"/>
<circle cx="403.8" cy="282.1" r="1.2" fill="#12a7e7"/>
<circle cx="397.5" cy="283.6" r="1.2" fill="#1b8df4"/>
<circle cx="409.9" cy="285.3" r="1.2" fill="#10ace4"/>
<circle cx="396.6" cy="287.0" r="1.2" fill="#159fec"/>
<circle cx="394.9" cy="288.5" r="1.2" fill="#12a8e7"/>
<circle cx="408.1" cy="285.5" r="1.2" fill="#159dee"/>
<circle cx="391.4" cy="285.8" r="1.25" fill="#10ace4"/>
<circle cx="391.9" cy="288.5" r="1.25" fill="#10ace4"/>
<circle cx="391.9" cy="291.4" r="1.25" fill="#10ace4"/>
<circle cx="358.5" cy="284.4" r="1.15" fill="#e8b800"/>
<circle cx="358.7" cy="285.1" r="1.15" fill="#e3b903"/>
<circle cx="358.9" cy="285.8" r="1.15" fill="#dfbb05"/>
<circle cx="359.0" cy="286.5" r="1.15" fill="#dabc08"/>
<circle cx="359.2" cy="287.2" r="1.15" fill="#d5be0b"/>
<circle cx="359.4" cy="287.9" r="1.15" fill="#d0bf0e"/>
<circle cx="359.6" cy="288.5" r="1.15" fill="#ccc110"/>
<circle cx="359.8" cy="289.2" r="1.15" fill="#c7c213"/>
<circle cx="360.0" cy="289.9" r="1.15" fill="#c2c416"/>
<circle cx="360.1" cy="290.6" r="1.15" fill="#bdc519"/>
<circle cx="360.3" cy="291.3" r="1.15" fill="#b9c71b"/>
<circle cx="360.5" cy="292.0" r="1.15" fill="#b4c81e"/>
<circle cx="360.7" cy="292.7" r="1.15" fill="#acc820"/>
<circle cx="360.8" cy="293.4" r="1.15" fill="#a5c922"/>
<circle cx="361.0" cy="294.0" r="1.15" fill="#9dc925"/>
<circle cx="361.2" cy="294.7" r="1.15" fill="#95c927"/>
<circle cx="361.3" cy="295.4" r="1.15" fill="#8eca29"/>
<circle cx="361.5" cy="296.1" r="1.15" fill="#86ca2b"/>
<circle cx="361.6" cy="296.8" r="1.15" fill="#7fcb2d"/>
<circle cx="361.8" cy="297.5" r="1.15" fill="#77cb2f"/>
<circle cx="362.0" cy="298.1" r="1.15" fill="#6fcb32"/>
<circle cx="362.1" cy="298.8" r="1.15" fill="#68cc34"/>
<circle cx="362.3" cy="299.5" r="1.15" fill="#60cc36"/>
<circle cx="367.2" cy="307.2" r="1.2" fill="#13c4a6"/>
<circle cx="362.5" cy="304.4" r="1.2" fill="#17ca7c"/>
<circle cx="364.7" cy="307.0" r="1.2" fill="#12c0b4"/>
<circle cx="365.7" cy="301.6" r="1.2" fill="#14c6a1"/>
<circle cx="366.0" cy="307.2" r="1.2" fill="#15c795"/>
<circle cx="365.2" cy="301.9" r="1.2" fill="#24cc60"/>
<circle cx="366.3" cy="309.9" r="1.2" fill="#23cc60"/>
<circle cx="364.0" cy="304.0" r="1.2" fill="#12c1b0"/>
<circle cx="362.7" cy="303.5" r="1.2" fill="#13c2af"/>
<circle cx="361.6" cy="306.3" r="1.2" fill="#12c1b1"/>
<circle cx="363.2" cy="309.0" r="1.2" fill="#13c2af"/>
<circle cx="368.1" cy="311.0" r="1.2" fill="#13c2ae"/>
<circle cx="366.1" cy="307.3" r="1.2" fill="#12bfb6"/>
<circle cx="363.4" cy="302.6" r="1.2" fill="#14c5a5"/>
<circle cx="366.8" cy="303.4" r="1.2" fill="#11bcc1"/>
<circle cx="366.9" cy="307.4" r="1.2" fill="#27cc5d"/>
<circle cx="362.9" cy="304.2" r="1.2" fill="#16c986"/>
<circle cx="367.1" cy="307.6" r="1.2" fill="#14c6a1"/>
<circle cx="368.9" cy="305.5" r="1.2" fill="#16c980"/>
<circle cx="363.4" cy="300.3" r="1.2" fill="#13c3a9"/>
<circle cx="361.6" cy="299.4" r="1.2" fill="#12c1b1"/>
<circle cx="360.8" cy="305.8" r="1.2" fill="#16ca7f"/>
<circle cx="367.1" cy="312.3" r="1.2" fill="#13c2af"/>
<circle cx="366.2" cy="312.3" r="1.2" fill="#13c4a8"/>
<circle cx="366.6" cy="305.5" r="1.2" fill="#16c982"/>
<circle cx="368.3" cy="307.6" r="1.2" fill="#15c88f"/>
<circle cx="362.9" cy="299.5" r="1.2" fill="#18cc6b"/>
<circle cx="365.8" cy="309.1" r="1.2" fill="#12c0b5"/>
<circle cx="361.3" cy="306.2" r="1.2" fill="#18cc6b"/>
<circle cx="363.0" cy="305.3" r="1.2" fill="#13c4a7"/>
<circle cx="366.5" cy="310.5" r="1.2" fill="#14c5a2"/>
<circle cx="366.9" cy="303.2" r="1.2" fill="#11bdbd"/>
<circle cx="363.1" cy="303.0" r="1.2" fill="#16c982"/>
<circle cx="365.1" cy="308.9" r="1.2" fill="#28cc5d"/>
<circle cx="367.2" cy="310.9" r="1.2" fill="#26cc5e"/>
<circle cx="363.0" cy="310.5" r="1.15" fill="#e8b800"/>
<circle cx="363.8" cy="310.6" r="1.15" fill="#e6b801"/>
<circle cx="364.5" cy="310.8" r="1.15" fill="#e5b902"/>
<circle cx="365.2" cy="310.9" r="1.15" fill="#e3ba03"/>
<circle cx="366.0" cy="311.0" r="1.15" fill="#e2ba04"/>
<circle cx="366.8" cy="311.1" r="1.15" fill="#e0ba05"/>
<circle cx="367.5" cy="311.2" r="1.15" fill="#debb06"/>
<circle cx="368.2" cy="311.4" r="1.15" fill="#ddbc07"/>
<circle cx="369.0" cy="311.5" r="1.15" fill="#dbbc08"/>
<circle cx="369.7" cy="311.6" r="1.15" fill="#d9bd09"/>
<circle cx="370.4" cy="311.7" r="1.15" fill="#d7bd0a"/>
<circle cx="371.1" cy="311.9" r="1.15" fill="#d4be0b"/>
<circle cx="371.8" cy="312.0" r="1.15" fill="#d2bf0d"/>
<circle cx="372.6" cy="312.1" r="1.15" fill="#d0bf0e"/>
<circle cx="373.3" cy="312.2" r="1.15" fill="#cec00f"/>
<circle cx="374.0" cy="312.4" r="1.15" fill="#ccc110"/>
<circle cx="374.7" cy="312.5" r="1.15" fill="#cac112"/>
<circle cx="375.4" cy="312.6" r="1.15" fill="#c7c213"/>
<circle cx="379.5" cy="313.2" r="1.25" fill="#18cc68"/>
<circle cx="383.7" cy="314.2" r="1.25" fill="#18cc6c"/>
<circle cx="386.9" cy="315.1" r="1.25" fill="#17cb70"/>
<circle cx="390.6" cy="315.9" r="1.25" fill="#17cb74"/>
<circle cx="393.3" cy="316.1" r="1.25" fill="#17ca77"/>
<circle cx="395.5" cy="316.5" r="1.25" fill="#17ca79"/>
<circle cx="398.6" cy="316.5" r="1.25" fill="#17ca7c"/>
<circle cx="372.5" cy="299.5" r="1.15" fill="#e8b800"/>
<circle cx="373.1" cy="299.1" r="1.15" fill="#e2ba04"/>
<circle cx="373.7" cy="298.6" r="1.15" fill="#dbbc08"/>
<circle cx="374.3" cy="298.1" r="1.15" fill="#d4be0b"/>
<circle cx="374.9" cy="297.7" r="1.15" fill="#cec00f"/>
<circle cx="375.5" cy="297.2" r="1.15" fill="#c7c213"/>
<circle cx="376.1" cy="296.8" r="1.15" fill="#c1c416"/>
<circle cx="376.7" cy="296.4" r="1.15" fill="#bbc61a"/>
<circle cx="377.3" cy="295.9" r="1.15" fill="#b4c81e"/>
<circle cx="377.9" cy="295.4" r="1.15" fill="#a8c921"/>
<circle cx="378.5" cy="295.0" r="1.15" fill="#9cc925"/>
<circle cx="379.1" cy="294.6" r="1.15" fill="#92ca28"/>
<circle cx="379.7" cy="294.2" r="1.15" fill="#88ca2b"/>
<circle cx="380.2" cy="293.8" r="1.15" fill="#7ecb2d"/>
<circle cx="380.8" cy="293.4" r="1.15" fill="#74cb30"/>
<circle cx="381.4" cy="293.0" r="1.15" fill="#6acc33"/>
<circle cx="382.0" cy="292.6" r="1.15" fill="#60cc36"/>
<circle cx="382.6" cy="292.1" r="1.15" fill="#57cc3c"/>
<circle cx="383.2" cy="291.7" r="1.15" fill="#4fcc42"/>
<circle cx="383.8" cy="291.3" r="1.15" fill="#46cc48"/>
<circle cx="384.3" cy="290.9" r="1.15" fill="#3ecc4e"/>
<circle cx="384.9" cy="290.5" r="1.15" fill="#35cc54"/>
<circle cx="385.5" cy="290.1" r="1.15" fill="#2dcc5a"/>
<circle cx="378.1" cy="292.3" r="1.2" fill="#11bcc2"/>
<circle cx="385.5" cy="291.9" r="1.2" fill="#17cb72"/>
<circle cx="389.3" cy="290.6" r="1.2" fill="#17cb74"/>
<circle cx="386.3" cy="291.8" r="1.2" fill="#1acc66"/>
<circle cx="386.6" cy="290.3" r="1.2" fill="#14c6a1"/>
<circle cx="391.1" cy="292.8" r="1.2" fill="#16c983"/>
<circle cx="380.0" cy="301.7" r="1.2" fill="#25cc5f"/>
<circle cx="379.6" cy="298.7" r="1.2" fill="#13c2ad"/>
<circle cx="388.7" cy="294.5" r="1.2" fill="#14c69c"/>
<circle cx="382.8" cy="295.2" r="1.2" fill="#17cb73"/>
<circle cx="384.2" cy="292.6" r="1.2" fill="#1bcc66"/>
<circle cx="388.0" cy="298.6" r="1.2" fill="#17cb75"/>
<circle cx="384.8" cy="291.6" r="1.2" fill="#11bdbf"/>
<circle cx="387.5" cy="298.5" r="1.2" fill="#18cc68"/>
<circle cx="391.7" cy="295.1" r="1.2" fill="#14c6a1"/>
<circle cx="383.0" cy="295.6" r="1.2" fill="#15c892"/>
<circle cx="386.8" cy="290.2" r="1.2" fill="#14c69f"/>
<circle cx="379.8" cy="293.4" r="1.2" fill="#11beba"/>
<circle cx="382.1" cy="296.8" r="1.2" fill="#13c4a8"/>
<circle cx="379.7" cy="294.6" r="1.2" fill="#16c988"/>
<circle cx="381.8" cy="291.8" r="1.2" fill="#13c4a5"/>
<circle cx="388.1" cy="288.5" r="1.2" fill="#16c988"/>
<circle cx="380.1" cy="299.5" r="1.2" fill="#10bbc5"/>
<circle cx="384.9" cy="291.6" r="1.2" fill="#17ca79"/>
<circle cx="389.3" cy="289.8" r="1.2" fill="#10bbc4"/>
<circle cx="388.7" cy="293.9" r="1.2" fill="#13c3aa"/>
<circle cx="382.6" cy="293.1" r="1.2" fill="#15c795"/>
<circle cx="383.2" cy="289.8" r="1.2" fill="#14c5a2"/>
<circle cx="409.8" cy="289.4" r="1.2" fill="#10afde"/>
<circle cx="408.6" cy="287.1" r="1.2" fill="#11a9e6"/>
<circle cx="406.1" cy="284.7" r="1.2" fill="#10b0dd"/>
<circle cx="393.8" cy="288.4" r="1.2" fill="#10ace4"/>
<circle cx="405.7" cy="284.4" r="1.2" fill="#10aedf"/>
<circle cx="406.7" cy="284.3" r="1.2" fill="#10afdf"/>
<circle cx="396.3" cy="289.2" r="1.2" fill="#10b3d7"/>
<circle cx="391.1" cy="286.8" r="1.2" fill="#10ace4"/>
<circle cx="409.6" cy="290.5" r="1.2" fill="#14a2eb"/>
<circle cx="393.6" cy="286.9" r="1.2" fill="#10b0db"/>
<circle cx="406.0" cy="287.9" r="1.2" fill="#10b2d8"/>
<circle cx="406.6" cy="290.1" r="1.2" fill="#10aee0"/>
<circle cx="366.5" cy="317.4" r="1.2" fill="#10b8cb"/>
<circle cx="379.0" cy="316.0" r="1.2" fill="#10b1d9"/>
<circle cx="368.3" cy="315.0" r="1.2" fill="#10b3d5"/>
<circle cx="363.0" cy="316.3" r="1.2" fill="#10b2d8"/>
<circle cx="367.1" cy="314.0" r="1.2" fill="#10b6d0"/>
<circle cx="363.5" cy="317.7" r="1.2" fill="#10b0dc"/>
<circle cx="378.4" cy="315.7" r="1.2" fill="#10b7cd"/>
<circle cx="376.0" cy="317.6" r="1.2" fill="#10b8cd"/>
<circle cx="378.1" cy="315.9" r="1.2" fill="#11beba"/>
<circle cx="371.4" cy="315.6" r="1.2" fill="#10b4d4"/>
<circle cx="366.9" cy="316.9" r="1.2" fill="#10b4d4"/>
<circle cx="371.2" cy="317.6" r="1.2" fill="#11bcc0"/>
<circle cx="374.7" cy="316.1" r="1.2" fill="#10bbc6"/>
<circle cx="374.2" cy="319.5" r="1.2" fill="#10b6d0"/>
<circle cx="371.4" cy="318.2" r="1.2" fill="#10b4d4"/>
<circle cx="367.8" cy="317.0" r="1.2" fill="#10b3d6"/>
<circle cx="377.4" cy="316.8" r="1.2" fill="#10b4d4"/>
<circle cx="372.9" cy="317.6" r="1.2" fill="#12bfb8"/>
<circle cx="379.0" cy="317.4" r="1.2" fill="#10b9cb"/>
<circle cx="373.7" cy="317.2" r="1.2" fill="#10b9ca"/>
<circle cx="369.0" cy="318.5" r="1.2" fill="#11bcc1"/>
<circle cx="376.0" cy="318.8" r="1.2" fill="#11beba"/>
<circle cx="366.3" cy="318.5" r="1.2" fill="#10b0dc"/>
<circle cx="363.8" cy="315.7" r="1.2" fill="#10aee0"/>
<circle cx="366.5" cy="316.7" r="1.2" fill="#10afde"/>
<circle cx="369.3" cy="315.8" r="1.2" fill="#11bdbf"/>
<circle cx="363.4" cy="315.7" r="1.2" fill="#10b3d6"/>
<circle cx="365.0" cy="315.1" r="1.2" fill="#10b2d8"/>
<circle cx="368.4" cy="316.7" r="1.2" fill="#10b6cf"/>
<circle cx="370.4" cy="316.3" r="1.2" fill="#10b8cc"/>
<circle cx="371.0" cy="314.7" r="1.2" fill="#10b9ca"/>
<circle cx="369.1" cy="318.4" r="1.2" fill="#10b0dd"/>
<circle cx="372.0" cy="315.8" r="1.2" fill="#10b9ca"/>
<circle cx="376.6" cy="318.4" r="1.2" fill="#10bac8"/>
<circle cx="379.0" cy="316.3" r="1.2" fill="#12c1b2"/>
<circle cx="369.8" cy="317.3" r="1.2" fill="#10b0dc"/>
<circle cx="362.8" cy="313.7" r="1.2" fill="#10b4d4"/>
<circle cx="366.1" cy="317.7" r="1.2" fill="#10afde"/>
<circle cx="373.6" cy="319.3" r="1.2" fill="#10bbc5"/>
<circle cx="378.4" cy="319.6" r="1.2" fill="#12bfb8"/>
<circle cx="362.7" cy="315.7" r="1.2" fill="#10b0dc"/>
<circle cx="369.7" cy="317.8" r="1.2" fill="#10bac8"/>
<circle cx="365.9" cy="314.2" r="1.2" fill="#10ade2"/>
<circle cx="375.1" cy="319.1" r="1.2" fill="#10b1d9"/>
<circle cx="364.7" cy="313.9" r="1.2" fill="#11bcc2"/>
<circle cx="363.2" cy="316.1" r="1.2" fill="#10bac8"/>
<circle cx="364.9" cy="316.9" r="1.2" fill="#10b1d9"/>
<circle cx="373.6" cy="316.9" r="1.2" fill="#10b2d9"/>
<circle cx="378.1" cy="317.7" r="1.2" fill="#12c0b3"/>
<circle cx="372.4" cy="319.5" r="1.2" fill="#10bac8"/>
<circle cx="363.4" cy="312.9" r="1.2" fill="#10bbc3"/>
<circle cx="373.8" cy="318.8" r="1.2" fill="#11bdbe"/>
<circle cx="368.3" cy="317.5" r="1.2" fill="#10b8cc"/>
<circle cx="363.1" cy="315.9" r="1.2" fill="#10bbc6"/>
<circle cx="391.0" cy="320.7" r="1.2" fill="#10b1da"/>
<circle cx="388.3" cy="318.9" r="1.2" fill="#10bac8"/>
<circle cx="396.9" cy="319.6" r="1.2" fill="#10b9cb"/>
<circle cx="390.3" cy="320.0" r="1.2" fill="#10bac8"/>
<circle cx="388.0" cy="317.6" r="1.2" fill="#11beba"/>
<circle cx="387.0" cy="319.9" r="1.2" fill="#10b5d2"/>
<circle cx="399.9" cy="318.4" r="1.2" fill="#10b6d0"/>
<circle cx="387.2" cy="320.8" r="1.2" fill="#11bcc0"/>
<circle cx="385.4" cy="317.1" r="1.2" fill="#11bdbe"/>
<circle cx="389.1" cy="317.1" r="1.2" fill="#10b2d7"/>
<circle cx="394.3" cy="320.3" r="1.2" fill="#11bdbf"/>
<circle cx="381.5" cy="318.0" r="1.2" fill="#10b4d4"/>
<circle cx="391.6" cy="317.7" r="1.2" fill="#10b4d4"/>
<circle cx="391.4" cy="317.3" r="1.2" fill="#11bdbe"/>
<circle cx="383.5" cy="317.1" r="1.2" fill="#11bdbd"/>
<circle cx="385.4" cy="317.4" r="1.2" fill="#11bdbd"/>
<circle cx="391.1" cy="320.8" r="1.2" fill="#11bebb"/>
<circle cx="399.5" cy="317.7" r="1.2" fill="#10b6d1"/>
<circle cx="389.2" cy="317.7" r="1.2" fill="#11beba"/>
<circle cx="387.7" cy="321.1" r="1.2" fill="#10b2d9"/>
<circle cx="388.8" cy="319.6" r="1.2" fill="#11bdbe"/>
<circle cx="389.4" cy="321.2" r="1.2" fill="#10b5d2"/>
<circle cx="387.3" cy="317.0" r="1.2" fill="#10b4d4"/>
<circle cx="389.6" cy="320.2" r="1.2" fill="#10b3d5"/>
<circle cx="389.8" cy="318.6" r="1.2" fill="#12c0b5"/>
<circle cx="389.7" cy="320.7" r="1.2" fill="#10b4d4"/>
<circle cx="398.2" cy="317.2" r="1.2" fill="#10b2d9"/>
<circle cx="392.7" cy="319.4" r="1.2" fill="#10b9cb"/>
<circle cx="392.5" cy="318.4" r="1.2" fill="#10bbc5"/>
<circle cx="387.9" cy="319.3" r="1.2" fill="#11bcc1"/>
<circle cx="386.0" cy="320.0" r="1.2" fill="#11bebb"/>
<circle cx="400.0" cy="317.6" r="1.2" fill="#10b6d0"/>
<circle cx="383.5" cy="316.5" r="1.2" fill="#10b9ca"/>
<circle cx="395.8" cy="317.5" r="1.2" fill="#11bcc0"/>
<circle cx="396.6" cy="322.2" r="1.2" fill="#11bcc2"/>
<circle cx="384.1" cy="319.6" r="1.2" fill="#10bbc6"/>
<circle cx="385.3" cy="320.1" r="1.2" fill="#10b6cf"/>
<circle cx="396.6" cy="321.8" r="1.2" fill="#10b6d0"/>
<circle cx="382.5" cy="320.0" r="1.2" fill="#10b4d4"/>
<circle cx="382.2" cy="320.3" r="1.2" fill="#10b5d2"/>
<circle cx="385.3" cy="317.9" r="1.2" fill="#11bdbf"/>
<circle cx="384.0" cy="317.4" r="1.2" fill="#10b2d8"/>
<circle cx="385.0" cy="319.9" r="1.2" fill="#10bbc3"/>
<circle cx="391.8" cy="321.4" r="1.2" fill="#10b0db"/>
<circle cx="385.6" cy="319.3" r="1.2" fill="#10b7ce"/>
<circle cx="399.7" cy="318.4" r="1.2" fill="#11beba"/>
<circle cx="394.6" cy="320.4" r="1.2" fill="#12bfb9"/>
<circle cx="388.8" cy="318.0" r="1.2" fill="#10b8cd"/>
<circle cx="394.5" cy="321.2" r="1.2" fill="#10bac8"/>
<circle cx="395.7" cy="320.5" r="1.2" fill="#11bcc1"/>
<circle cx="382.4" cy="320.1" r="1.2" fill="#10bac7"/>
<circle cx="386.8" cy="316.6" r="1.2" fill="#10bbc6"/>
<circle cx="384.5" cy="317.7" r="1.2" fill="#10bac8"/>
<circle cx="384.3" cy="317.0" r="1.2" fill="#10b2d7"/>
<circle cx="386.8" cy="320.5" r="1.2" fill="#10b5d3"/>
<circle cx="385.5" cy="316.5" r="1.2" fill="#10bbc5"/>
<circle cx="395.0" cy="317.8" r="1.2" fill="#11bdbf"/>
<circle cx="380.4" cy="315.9" r="1.2" fill="#10b3d6"/>
<circle cx="396.0" cy="317.3" r="1.2" fill="#10bbc3"/>
<circle cx="384.3" cy="317.3" r="1.2" fill="#10b3d7"/>
<circle cx="413.0" cy="320.4" r="1.2" fill="#10bbc5"/>
<circle cx="411.1" cy="321.3" r="1.2" fill="#10b4d5"/>
<circle cx="409.0" cy="321.2" r="1.2" fill="#11bcc0"/>
<circle cx="403.7" cy="318.5" r="1.2" fill="#11bebb"/>
<circle cx="410.9" cy="321.7" r="1.2" fill="#10b4d4"/>
<circle cx="400.3" cy="318.5" r="1.2" fill="#11bcc2"/>
<circle cx="404.3" cy="321.0" r="1.2" fill="#10b6d0"/>
<circle cx="403.0" cy="317.8" r="1.2" fill="#10afde"/>
<circle cx="411.5" cy="319.6" r="1.2" fill="#10b4d3"/>
<circle cx="409.1" cy="322.2" r="1.2" fill="#10afde"/>
<circle cx="406.7" cy="322.0" r="1.2" fill="#10b8cc"/>
<circle cx="407.5" cy="321.4" r="1.2" fill="#10bac8"/>
<circle cx="414.0" cy="321.4" r="1.2" fill="#10ade2"/>
<circle cx="402.0" cy="321.1" r="1.2" fill="#10bac9"/>
<circle cx="407.0" cy="321.7" r="1.2" fill="#10b1db"/>
<circle cx="406.4" cy="319.9" r="1.2" fill="#10bac9"/>
<circle cx="415.6" cy="320.1" r="1.2" fill="#10ace3"/>
<circle cx="405.7" cy="322.5" r="1.2" fill="#11bdbd"/>
<circle cx="401.0" cy="319.2" r="1.2" fill="#10b7cf"/>
<circle cx="414.3" cy="321.6" r="1.2" fill="#10b2d8"/>
<circle cx="415.5" cy="322.6" r="1.2" fill="#10bac8"/>
<circle cx="412.7" cy="323.8" r="1.2" fill="#10b7ce"/>
<circle cx="412.5" cy="321.1" r="1.2" fill="#10b7ce"/>
<circle cx="414.8" cy="323.8" r="1.2" fill="#10bac8"/>
<circle cx="410.8" cy="320.9" r="1.2" fill="#10b3d6"/>
<circle cx="406.0" cy="323.0" r="1.2" fill="#10b8cb"/>
<circle cx="412.7" cy="322.0" r="1.2" fill="#10ade2"/>
<circle cx="407.2" cy="319.8" r="1.2" fill="#11bdbf"/>
<circle cx="411.1" cy="320.2" r="1.2" fill="#10b5d3"/>
<circle cx="414.3" cy="321.4" r="1.2" fill="#10b7ce"/>
<circle cx="405.8" cy="320.1" r="1.2" fill="#10bac8"/>
<circle cx="403.1" cy="321.2" r="1.2" fill="#11bcc2"/>
<circle cx="415.9" cy="321.6" r="1.2" fill="#10b5d2"/>
<circle cx="415.8" cy="323.0" r="1.2" fill="#10b9ca"/>
<circle cx="408.6" cy="318.7" r="1.2" fill="#10bac7"/>
<circle cx="401.4" cy="321.3" r="1.2" fill="#10b3d5"/>
<circle cx="412.9" cy="321.9" r="1.2" fill="#10b4d4"/>
<circle cx="407.8" cy="319.6" r="1.2" fill="#11bdbe"/>
<circle cx="408.7" cy="323.3" r="1.2" fill="#10aedf"/>
<circle cx="400.6" cy="318.3" r="1.2" fill="#10b4d4"/>
<circle cx="415.9" cy="319.3" r="1.2" fill="#10b3d5"/>
<circle cx="413.8" cy="320.1" r="1.2" fill="#10b0dc"/>
<circle cx="403.6" cy="317.9" r="1.2" fill="#10b8cd"/>
<circle cx="409.1" cy="319.2" r="1.2" fill="#10b6d0"/>
<circle cx="407.9" cy="321.8" r="1.2" fill="#10b1da"/>
<circle cx="403.5" cy="322.4" r="1.2" fill="#10b9c9"/>
<circle cx="412.2" cy="320.2" r="1.2" fill="#10b5d1"/>
<circle cx="406.0" cy="321.5" r="1.2" fill="#11bdbf"/>
<circle cx="377.0" cy="320.5" r="0.9" fill="#2dcc5a"/>
<circle cx="377.7" cy="320.5" r="0.9" fill="#2ccc5a"/>
<circle cx="378.4" cy="320.5" r="0.9" fill="#2bcc5b"/>
<circle cx="379.2" cy="320.6" r="0.9" fill="#2acc5b"/>
<circle cx="379.9" cy="320.6" r="0.9" fill="#29cc5c"/>
<circle cx="380.6" cy="320.6" r="0.9" fill="#28cc5d"/>
<circle cx="381.3" cy="320.6" r="0.9" fill="#28cc5d"/>
<circle cx="382.0" cy="320.6" r="0.9" fill="#27cc5e"/>
<circle cx="382.8" cy="320.7" r="0.9" fill="#26cc5e"/>
<circle cx="383.5" cy="320.7" r="0.9" fill="#25cc5f"/>
<circle cx="384.2" cy="320.7" r="0.9" fill="#24cc5f"/>
<circle cx="384.9" cy="320.7" r="0.9" fill="#24cc60"/>
<circle cx="385.6" cy="320.7" r="0.9" fill="#23cc61"/>
<circle cx="386.4" cy="320.8" r="0.9" fill="#22cc61"/>
<circle cx="387.1" cy="320.8" r="0.9" fill="#21cc62"/>
<circle cx="387.8" cy="320.8" r="0.9" fill="#20cc62"/>
<circle cx="388.5" cy="320.8" r="0.9" fill="#1fcc63"/>
<circle cx="389.2" cy="320.8" r="0.9" fill="#1fcc63"/>
<circle cx="390.0" cy="320.9" r="0.9" fill="#1ecc64"/>
<circle cx="390.7" cy="320.9" r="0.9" fill="#1dcc65"/>
<circle cx="391.4" cy="320.9" r="0.9" fill="#1ccc65"/>
<circle cx="392.1" cy="320.9" r="0.9" fill="#1bcc66"/>
<circle cx="392.8" cy="320.9" r="0.9" fill="#1acc66"/>
<circle cx="393.6" cy="321.0" r="0.9" fill="#1acc67"/>
<circle cx="394.3" cy="321.0" r="0.9" fill="#19cc67"/>
<circle cx="395.0" cy="321.0" r="0.9" fill="#18cc68"/>
<circle cx="395.7" cy="321.0" r="0.9" fill="#18cc69"/>
<circle cx="396.4" cy="321.0" r="0.9" fill="#18cc69"/>
<circle cx="397.2" cy="321.1" r="0.9" fill="#18cc6a"/>
<circle cx="397.9" cy="321.1" r="0.9" fill="#18cc6a"/>
<circle cx="398.6" cy="321.1" r="0.9" fill="#18cc6b"/>
<circle cx="399.3" cy="321.1" r="0.9" fill="#18cc6b"/>
<circle cx="400.0" cy="321.1" r="0.9" fill="#18cc6c"/>
<circle cx="400.8" cy="321.2" r="0.9" fill="#18cc6c"/>
<circle cx="401.5" cy="321.2" r="0.9" fill="#18cb6d"/>
<circle cx="402.2" cy="321.2" r="0.9" fill="#18cb6e"/>
<circle cx="402.9" cy="321.2" r="0.9" fill="#18cb6e"/>
<circle cx="403.6" cy="321.2" r="0.9" fill="#18cb6f"/>
<circle cx="404.4" cy="321.3" r="0.9" fill="#17cb6f"/>
<circle cx="405.1" cy="321.3" r="0.9" fill="#17cb70"/>
<circle cx="405.8" cy="321.3" r="0.9" fill="#17cb70"/>
<circle cx="406.5" cy="321.3" r="0.9" fill="#17cb71"/>
<circle cx="407.2" cy="321.3" r="0.9" fill="#17cb72"/>
<circle cx="408.0" cy="321.4" r="0.9" fill="#17cb72"/>
<circle cx="408.7" cy="321.4" r="0.9" fill="#17cb73"/>
<circle cx="409.4" cy="321.4" r="0.9" fill="#17cb73"/>
<circle cx="410.1" cy="321.4" r="0.9" fill="#17cb74"/>
<circle cx="410.8" cy="321.4" r="0.9" fill="#17cb74"/>
<circle cx="411.6" cy="321.5" r="0.9" fill="#17cb75"/>
<circle cx="412.3" cy="321.5" r="0.9" fill="#17cb75"/>
<circle cx="413.0" cy="321.5" r="0.9" fill="#17cb76"/>
<circle cx="373.6" cy="326.7" r="1.2" fill="#169bef"/>
<circle cx="380.6" cy="327.3" r="1.2" fill="#1798f1"/>
<circle cx="366.9" cy="323.5" r="1.2" fill="#1e80f7"/>
<circle cx="376.3" cy="325.5" r="1.2" fill="#169cee"/>
<circle cx="371.2" cy="327.1" r="1.2" fill="#1e80f7"/>
<circle cx="381.1" cy="324.7" r="1.2" fill="#1895f2"/>
<circle cx="378.2" cy="323.1" r="1.2" fill="#1993f3"/>
<circle cx="378.9" cy="324.2" r="1.2" fill="#1d84f6"/>
<circle cx="377.8" cy="324.1" r="1.2" fill="#1d86f6"/>
<circle cx="371.0" cy="325.1" r="1.2" fill="#1b8af5"/>
<circle cx="373.8" cy="323.0" r="1.2" fill="#1d84f6"/>
<circle cx="377.9" cy="324.8" r="1.2" fill="#1d86f5"/>
<circle cx="381.6" cy="325.9" r="1.2" fill="#1a8ef4"/>
<circle cx="384.5" cy="326.1" r="1.2" fill="#1b8af5"/>
<circle cx="375.5" cy="323.9" r="1.2" fill="#1799f0"/>
<circle cx="381.1" cy="323.5" r="1.2" fill="#1c87f5"/>
<circle cx="379.0" cy="325.5" r="1.2" fill="#1b8bf4"/>
<circle cx="375.7" cy="323.3" r="1.2" fill="#1a8ef4"/>
<circle cx="376.8" cy="327.4" r="1.2" fill="#1994f2"/>
<circle cx="377.4" cy="323.0" r="1.2" fill="#1a90f3"/>
<circle cx="376.9" cy="326.1" r="1.2" fill="#1c8af5"/>
<circle cx="383.9" cy="326.9" r="1.2" fill="#169bef"/>
<circle cx="384.4" cy="328.2" r="1.2" fill="#1c89f5"/>
<circle cx="383.1" cy="326.0" r="1.2" fill="#1798f1"/>
<circle cx="367.2" cy="322.2" r="1.2" fill="#1992f3"/>
<circle cx="373.1" cy="327.3" r="1.2" fill="#169bef"/>
<circle cx="376.5" cy="325.7" r="1.2" fill="#1993f3"/>
<circle cx="376.4" cy="326.8" r="1.2" fill="#159eed"/>
<circle cx="372.8" cy="324.4" r="1.2" fill="#1c89f5"/>
<circle cx="368.2" cy="322.7" r="1.2" fill="#1f7ef7"/>
<circle cx="380.4" cy="324.0" r="1.2" fill="#1896f2"/>
<circle cx="384.6" cy="325.5" r="1.2" fill="#13a3ea"/>
<circle cx="371.3" cy="324.0" r="1.2" fill="#1e80f7"/>
<circle cx="369.5" cy="324.1" r="1.2" fill="#1993f3"/>
<circle cx="378.8" cy="324.0" r="1.2" fill="#1e83f6"/>
<circle cx="368.1" cy="323.6" r="1.2" fill="#1b8bf4"/>
<circle cx="366.8" cy="322.3" r="1.2" fill="#1a8ef4"/>
<circle cx="371.1" cy="322.4" r="1.2" fill="#1896f2"/>
<circle cx="367.9" cy="325.6" r="1.2" fill="#207af8"/>
<circle cx="382.5" cy="325.6" r="1.2" fill="#1a8ff4"/>
<circle cx="370.4" cy="326.3" r="1.2" fill="#1c88f5"/>
<circle cx="376.9" cy="324.4" r="1.2" fill="#1d85f6"/>
<circle cx="372.4" cy="323.6" r="1.2" fill="#1894f2"/>
<circle cx="381.6" cy="327.1" r="1.2" fill="#1b8df4"/>
<circle cx="372.6" cy="327.1" r="1.2" fill="#1b8bf4"/>
<circle cx="377.5" cy="323.1" r="1.2" fill="#1799f0"/>
<circle cx="374.9" cy="323.6" r="1.2" fill="#1a8df4"/>
<circle cx="370.4" cy="323.9" r="1.2" fill="#1d86f5"/>
<circle cx="374.7" cy="324.2" r="1.2" fill="#1d83f6"/>
<circle cx="381.9" cy="325.9" r="1.2" fill="#1a90f3"/>
<circle cx="378.4" cy="323.4" r="1.2" fill="#1b8af5"/>
<circle cx="373.2" cy="324.8" r="1.2" fill="#1798f0"/>
<circle cx="374.8" cy="324.6" r="1.2" fill="#1992f3"/>
<circle cx="380.9" cy="324.7" r="1.2" fill="#1798f1"/>
<circle cx="373.5" cy="322.5" r="1.2" fill="#1f7ff7"/>
<circle cx="386.3" cy="325.6" r="1.2" fill="#1b8df4"/>
<circle cx="398.3" cy="328.6" r="1.2" fill="#1894f2"/>
<circle cx="402.5" cy="326.9" r="1.2" fill="#1b8cf4"/>
<circle cx="404.6" cy="328.4" r="1.2" fill="#1b8df4"/>
<circle cx="393.3" cy="328.8" r="1.2" fill="#1c87f5"/>
<circle cx="405.5" cy="326.3" r="1.2" fill="#14a0ec"/>
<circle cx="397.9" cy="325.5" r="1.2" fill="#1a8ef4"/>
<circle cx="394.3" cy="327.5" r="1.2" fill="#159eed"/>
<circle cx="405.2" cy="326.8" r="1.2" fill="#1798f1"/>
<circle cx="403.6" cy="326.5" r="1.2" fill="#159eed"/>
<circle cx="390.7" cy="327.1" r="1.2" fill="#1896f2"/>
<circle cx="397.5" cy="329.1" r="1.2" fill="#1b8af5"/>
<circle cx="390.9" cy="329.0" r="1.2" fill="#1799f0"/>
<circle cx="406.6" cy="327.0" r="1.2" fill="#1a90f3"/>
<circle cx="398.7" cy="328.9" r="1.2" fill="#1896f2"/>
<circle cx="386.8" cy="325.9" r="1.2" fill="#159ded"/>
<circle cx="406.2" cy="326.3" r="1.2" fill="#1992f3"/>
<circle cx="406.6" cy="329.5" r="1.2" fill="#1799f0"/>
<circle cx="389.0" cy="326.4" r="1.2" fill="#1993f3"/>
<circle cx="396.9" cy="327.3" r="1.2" fill="#1c88f5"/>
<circle cx="404.4" cy="327.8" r="1.2" fill="#1b8cf4"/>
<circle cx="399.8" cy="326.7" r="1.2" fill="#1c89f5"/>
<circle cx="399.1" cy="325.1" r="1.2" fill="#14a1eb"/>
<circle cx="398.7" cy="326.3" r="1.2" fill="#14a2eb"/>
<circle cx="399.1" cy="325.1" r="1.2" fill="#169cee"/>
<circle cx="386.4" cy="325.0" r="1.2" fill="#1798f1"/>
<circle cx="400.5" cy="330.0" r="1.2" fill="#159eed"/>
<circle cx="389.2" cy="326.7" r="1.2" fill="#1c89f5"/>
<circle cx="401.8" cy="327.5" r="1.2" fill="#179aef"/>
<circle cx="386.6" cy="326.1" r="1.2" fill="#1994f2"/>
<circle cx="385.9" cy="326.9" r="1.2" fill="#13a3ea"/>
<circle cx="402.5" cy="330.2" r="1.2" fill="#1c88f5"/>
<circle cx="400.2" cy="328.1" r="1.2" fill="#1894f2"/>
<circle cx="404.1" cy="327.6" r="1.2" fill="#1c88f5"/>
<circle cx="399.9" cy="329.4" r="1.2" fill="#1992f3"/>
<circle cx="400.1" cy="325.9" r="1.2" fill="#13a3ea"/>
<circle cx="408.5" cy="326.1" r="1.2" fill="#179af0"/>
<circle cx="407.1" cy="328.5" r="1.2" fill="#1c88f5"/>
<circle cx="402.3" cy="327.9" r="1.2" fill="#1a91f3"/>
<circle cx="386.5" cy="324.8" r="1.2" fill="#159eed"/>
<circle cx="396.2" cy="327.4" r="1.2" fill="#179af0"/>
<circle cx="393.9" cy="328.3" r="1.2" fill="#169cee"/>
<circle cx="385.4" cy="326.7" r="1.2" fill="#1d86f5"/>
<circle cx="396.8" cy="329.4" r="1.2" fill="#159fec"/>
<circle cx="392.0" cy="328.9" r="1.2" fill="#1b8bf4"/>
<circle cx="401.6" cy="329.1" r="1.2" fill="#1c87f5"/>
<circle cx="391.1" cy="326.9" r="1.2" fill="#13a3ea"/>
<circle cx="389.0" cy="326.2" r="1.2" fill="#14a0eb"/>
<circle cx="388.9" cy="328.1" r="1.2" fill="#169cee"/>
<circle cx="404.0" cy="327.3" r="1.2" fill="#1799f0"/>
<circle cx="388.6" cy="325.3" r="1.2" fill="#159eed"/>
<circle cx="387.7" cy="326.5" r="1.2" fill="#1c88f5"/>
<circle cx="404.1" cy="328.8" r="1.2" fill="#1c89f5"/>
<circle cx="405.9" cy="329.0" r="1.2" fill="#179af0"/>
<circle cx="386.7" cy="327.8" r="1.2" fill="#169bef"/>
<circle cx="394.4" cy="324.9" r="1.2" fill="#159ded"/>
<circle cx="390.1" cy="328.0" r="1.2" fill="#1798f1"/>
<circle cx="393.9" cy="326.7" r="1.2" fill="#1a8ff4"/>
<circle cx="396.9" cy="329.2" r="1.2" fill="#1798f1"/>
<circle cx="394.1" cy="328.0" r="1.2" fill="#13a3ea"/>
<circle cx="389.3" cy="326.8" r="1.2" fill="#14a0eb"/>
<circle cx="398.3" cy="326.1" r="1.2" fill="#1b8bf4"/>
<circle cx="401.8" cy="328.2" r="1.2" fill="#1c88f5"/>
<circle cx="387.6" cy="325.3" r="1.2" fill="#1897f1"/>
<circle cx="395.6" cy="326.1" r="1.2" fill="#1a8df4"/>
<circle cx="398.9" cy="329.0" r="1.2" fill="#1992f3"/>
<circle cx="395.8" cy="328.2" r="1.2" fill="#1991f3"/>
<circle cx="403.7" cy="325.5" r="1.2" fill="#1a8ef4"/>
<circle cx="398.9" cy="325.6" r="1.2" fill="#1c87f5"/>
<circle cx="399.7" cy="327.9" r="1.2" fill="#179aef"/>
<circle cx="405.3" cy="327.3" r="1.2" fill="#14a1eb"/>
<circle cx="394.3" cy="328.6" r="1.0" fill="#c7c213"/>
<circle cx="395.0" cy="328.5" r="1.0" fill="#c9c112"/>
<circle cx="395.7" cy="328.4" r="1.0" fill="#cbc111"/>
<circle cx="396.4" cy="328.3" r="1.0" fill="#cdc010"/>
<circle cx="397.1" cy="328.2" r="1.0" fill="#cfc00f"/>
<circle cx="397.8" cy="328.1" r="1.0" fill="#d0bf0e"/>
<circle cx="398.5" cy="328.0" r="1.0" fill="#d2bf0d"/>
<circle cx="399.2" cy="327.9" r="1.0" fill="#d4be0c"/>
<circle cx="399.9" cy="327.8" r="1.0" fill="#d6be0b"/>
<circle cx="400.6" cy="327.7" r="1.0" fill="#d7bd0a"/>
<circle cx="401.3" cy="327.6" r="1.0" fill="#d9bd09"/>
<circle cx="402.0" cy="327.5" r="1.0" fill="#dbbc08"/>
<circle cx="402.8" cy="327.4" r="1.0" fill="#dcbc07"/>
<circle cx="403.5" cy="327.3" r="1.0" fill="#ddbb06"/>
<circle cx="404.3" cy="327.2" r="1.0" fill="#dfbb05"/>
<circle cx="405.0" cy="327.1" r="1.0" fill="#e0bb05"/>
<circle cx="405.8" cy="327.0" r="1.0" fill="#e1ba04"/>
<circle cx="406.5" cy="327.0" r="1.0" fill="#e2ba03"/>
<circle cx="407.3" cy="326.9" r="1.0" fill="#e3b903"/>
<circle cx="408.0" cy="326.8" r="1.0" fill="#e4b902"/>
<circle cx="408.8" cy="326.7" r="1.0" fill="#e6b901"/>
<circle cx="409.5" cy="326.6" r="1.0" fill="#e7b801"/>
<circle cx="410.3" cy="326.5" r="1.0" fill="#e8b800"/>
<circle cx="376.5" cy="329.8" r="1.2" fill="#2c5af8"/>
<circle cx="380.7" cy="327.0" r="1.2" fill="#207af8"/>
<circle cx="379.9" cy="331.9" r="1.2" fill="#1e81f7"/>
<circle cx="376.7" cy="331.1" r="1.2" fill="#1f7df7"/>
<circle cx="378.6" cy="331.8" r="1.2" fill="#2d57f8"/>
<circle cx="379.4" cy="330.8" r="1.2" fill="#1e80f7"/>
<circle cx="390.1" cy="329.9" r="1.2" fill="#1f7df7"/>
<circle cx="390.1" cy="332.5" r="1.2" fill="#2767f8"/>
<circle cx="381.5" cy="331.4" r="1.2" fill="#2372f8"/>
<circle cx="375.4" cy="332.4" r="1.2" fill="#266af8"/>
<circle cx="376.7" cy="328.3" r="1.2" fill="#2d56f8"/>
<circle cx="389.5" cy="327.0" r="1.2" fill="#2e54f8"/>
<circle cx="390.3" cy="328.2" r="1.2" fill="#2178f8"/>
<circle cx="380.2" cy="328.4" r="1.2" fill="#1d85f6"/>
<circle cx="386.4" cy="328.4" r="1.2" fill="#1e81f7"/>
<circle cx="387.1" cy="332.1" r="1.2" fill="#256cf8"/>
<circle cx="381.3" cy="332.3" r="1.2" fill="#246ef8"/>
<circle cx="380.2" cy="330.3" r="1.2" fill="#207bf8"/>
<circle cx="382.8" cy="326.5" r="1.2" fill="#1c88f5"/>
<circle cx="377.1" cy="330.1" r="1.2" fill="#2767f8"/>
<circle cx="374.9" cy="327.6" r="1.2" fill="#256bf8"/>
<circle cx="374.8" cy="326.7" r="1.2" fill="#2371f8"/>
<circle cx="380.9" cy="326.4" r="1.2" fill="#2766f8"/>
<circle cx="377.8" cy="332.0" r="1.2" fill="#1d85f6"/>
<circle cx="388.9" cy="332.3" r="1.2" fill="#246ff8"/>
<circle cx="377.8" cy="330.4" r="1.2" fill="#2961f8"/>
<circle cx="389.7" cy="327.5" r="1.2" fill="#2275f8"/>
<circle cx="384.5" cy="326.7" r="1.2" fill="#1f7df7"/>
<circle cx="382.1" cy="330.9" r="1.2" fill="#2373f8"/>
<circle cx="387.3" cy="326.8" r="1.2" fill="#2961f8"/>
<circle cx="385.6" cy="326.6" r="1.2" fill="#266bf8"/>
<circle cx="386.1" cy="327.0" r="1.2" fill="#266bf8"/>
<circle cx="385.9" cy="327.4" r="1.2" fill="#2866f8"/>
<circle cx="382.8" cy="332.0" r="1.2" fill="#2372f8"/>
<circle cx="388.5" cy="329.3" r="1.2" fill="#2c5af8"/>
<circle cx="389.2" cy="329.1" r="1.2" fill="#2b5cf8"/>
<circle cx="383.6" cy="329.1" r="1.2" fill="#2e54f8"/>
<circle cx="379.2" cy="326.9" r="1.2" fill="#266bf8"/>
<circle cx="379.5" cy="332.6" r="1.2" fill="#2d57f8"/>
<circle cx="379.1" cy="326.2" r="1.2" fill="#266af8"/>
<circle cx="377.8" cy="333.8" r="1.2" fill="#353df1"/>
<circle cx="375.6" cy="334.6" r="1.2" fill="#2960f8"/>
<circle cx="377.3" cy="335.3" r="1.2" fill="#353cf1"/>
<circle cx="380.8" cy="336.7" r="1.2" fill="#3440f2"/>
<circle cx="377.5" cy="335.2" r="1.2" fill="#2a5ef8"/>
<circle cx="379.3" cy="334.8" r="1.2" fill="#3734ef"/>
<circle cx="379.7" cy="334.6" r="1.2" fill="#3342f3"/>
<circle cx="378.5" cy="336.6" r="1.2" fill="#2b5cf8"/>
<circle cx="378.0" cy="334.5" r="1.2" fill="#3735ef"/>
<circle cx="377.7" cy="334.5" r="1.2" fill="#2e55f8"/>
<circle cx="376.3" cy="336.3" r="1.2" fill="#3246f4"/>
<circle cx="378.8" cy="333.7" r="1.2" fill="#2d57f8"/>
<circle cx="377.1" cy="333.9" r="1.2" fill="#2e55f8"/>
<circle cx="378.9" cy="334.6" r="1.2" fill="#2f51f7"/>
<circle cx="374.8" cy="333.7" r="1.2" fill="#2768f8"/>
<circle cx="379.0" cy="337.9" r="1.2" fill="#3638f0"/>
<circle cx="376.6" cy="335.9" r="1.2" fill="#353af1"/>
<circle cx="378.6" cy="335.5" r="1.2" fill="#3440f2"/>
<circle cx="375.3" cy="332.9" r="1.2" fill="#314af5"/>
<circle cx="377.5" cy="335.4" r="1.2" fill="#2c5af8"/>
<circle cx="380.2" cy="343.5" r="1.2" fill="#3245f4"/>
<circle cx="383.0" cy="343.3" r="1.2" fill="#3440f2"/>
<circle cx="382.9" cy="343.6" r="1.2" fill="#3b26e6"/>
<circle cx="379.7" cy="344.0" r="1.2" fill="#3c23df"/>
<circle cx="379.8" cy="344.1" r="1.2" fill="#392ced"/>
<circle cx="380.7" cy="339.2" r="1.2" fill="#392ded"/>
<circle cx="380.5" cy="344.4" r="1.2" fill="#3b26e5"/>
<circle cx="379.9" cy="343.8" r="1.2" fill="#3b27e7"/>
<circle cx="381.2" cy="344.5" r="1.2" fill="#3c22dd"/>
<circle cx="380.9" cy="340.5" r="1.2" fill="#3a29ea"/>
<circle cx="381.2" cy="342.3" r="1.2" fill="#3148f5"/>
<circle cx="380.1" cy="341.3" r="1.2" fill="#314af5"/>
<circle cx="379.8" cy="337.7" r="1.2" fill="#2e53f8"/>
<circle cx="379.6" cy="343.2" r="1.2" fill="#3b24e1"/>
<circle cx="382.4" cy="343.1" r="1.2" fill="#3a28e8"/>
<circle cx="380.0" cy="340.5" r="1.2" fill="#3149f5"/>
<circle cx="380.2" cy="343.0" r="1.2" fill="#3b27e7"/>
<circle cx="381.6" cy="342.7" r="1.2" fill="#3341f3"/>
<circle cx="382.2" cy="341.7" r="1.2" fill="#392ded"/>
<circle cx="380.4" cy="342.9" r="1.2" fill="#3b27e7"/>
<circle cx="378.6" cy="339.9" r="1.2" fill="#3a28e9"/>
<circle cx="379.4" cy="342.1" r="1.2" fill="#3a28e8"/>
<circle cx="416.3" cy="340.4" r="1.2" fill="#10b5d2"/>
<circle cx="416.8" cy="337.1" r="1.2" fill="#10b9cb"/>
<circle cx="417.1" cy="329.2" r="1.2" fill="#10b0dc"/>
<circle cx="430.2" cy="322.0" r="1.2" fill="#1b8af5"/>
<circle cx="436.3" cy="318.6" r="1.2" fill="#1897f1"/>
<circle cx="434.6" cy="320.4" r="1.2" fill="#10ace4"/>
<circle cx="427.9" cy="320.6" r="1.2" fill="#1d85f6"/>
<circle cx="452.4" cy="302.5" r="1.2" fill="#159eed"/>
<circle cx="429.3" cy="323.8" r="1.2" fill="#10b8cc"/>
<circle cx="418.8" cy="339.9" r="1.2" fill="#1896f2"/>
<circle cx="433.7" cy="329.0" r="1.2" fill="#12a5e8"/>
<circle cx="418.8" cy="330.3" r="1.2" fill="#10ace3"/>
<circle cx="439.1" cy="319.0" r="1.2" fill="#179af0"/>
<circle cx="465.4" cy="299.4" r="1.2" fill="#14a2ea"/>
<circle cx="440.4" cy="323.1" r="1.2" fill="#10b7ce"/>
<circle cx="421.1" cy="333.9" r="1.2" fill="#169cee"/>
<circle cx="457.0" cy="301.9" r="1.2" fill="#12a5e8"/>
<circle cx="448.0" cy="307.9" r="1.2" fill="#10ace4"/>
<circle cx="422.9" cy="327.8" r="1.2" fill="#11a8e6"/>
<circle cx="435.8" cy="318.6" r="1.2" fill="#10abe5"/>
<circle cx="425.4" cy="332.7" r="1.2" fill="#10afde"/>
<circle cx="436.6" cy="323.5" r="1.2" fill="#10aee1"/>
<circle cx="458.2" cy="298.7" r="1.2" fill="#11a8e6"/>
<circle cx="457.6" cy="302.5" r="1.2" fill="#11abe5"/>
<circle cx="425.6" cy="332.4" r="1.2" fill="#207bf8"/>
<circle cx="448.9" cy="305.8" r="1.2" fill="#10bbc4"/>
<circle cx="430.2" cy="318.5" r="1.2" fill="#169dee"/>
<circle cx="427.2" cy="319.8" r="1.2" fill="#10abe5"/>
<circle cx="445.0" cy="306.9" r="1.2" fill="#11a8e6"/>
<circle cx="429.8" cy="323.7" r="1.2" fill="#1993f3"/>
<circle cx="451.7" cy="299.9" r="1.2" fill="#11aae5"/>
<circle cx="418.2" cy="322.4" r="1.2" fill="#1a90f3"/>
<circle cx="441.2" cy="314.6" r="1.2" fill="#10b7cd"/>
<circle cx="417.1" cy="329.3" r="1.2" fill="#12a7e7"/>
<circle cx="430.2" cy="322.4" r="1.2" fill="#1991f3"/>
<circle cx="436.4" cy="317.7" r="1.2" fill="#207cf8"/>
<circle cx="417.6" cy="321.4" r="1.2" fill="#1c8af5"/>
<circle cx="442.2" cy="307.7" r="1.2" fill="#10ade2"/>
<circle cx="440.5" cy="318.5" r="1.2" fill="#1799f0"/>
<circle cx="448.3" cy="313.3" r="1.2" fill="#1e80f7"/>
<circle cx="432.2" cy="321.4" r="1.2" fill="#1f7ff7"/>
<circle cx="427.8" cy="326.3" r="1.2" fill="#1a90f3"/>
<circle cx="430.7" cy="321.6" r="1.2" fill="#10b5d2"/>
<circle cx="420.0" cy="325.2" r="1.2" fill="#159dee"/>
<circle cx="444.2" cy="312.4" r="1.2" fill="#1e82f6"/>
<circle cx="452.8" cy="308.0" r="1.2" fill="#169aef"/>
<circle cx="437.5" cy="326.6" r="1.2" fill="#10b7ce"/>
<circle cx="445.6" cy="315.1" r="1.2" fill="#1f7cf8"/>
<circle cx="453.9" cy="299.3" r="1.2" fill="#1e81f7"/>
<circle cx="452.5" cy="301.7" r="1.2" fill="#179af0"/>
<circle cx="417.2" cy="338.3" r="1.2" fill="#10b6d0"/>
<circle cx="440.7" cy="312.8" r="1.2" fill="#1993f3"/>
<circle cx="438.6" cy="310.8" r="1.2" fill="#10b0db"/>
<circle cx="421.9" cy="323.2" r="1.2" fill="#1f7ff7"/>
<circle cx="430.4" cy="324.8" r="1.2" fill="#10aee0"/>
<circle cx="435.8" cy="322.8" r="1.2" fill="#1d84f6"/>
<circle cx="444.6" cy="318.4" r="1.2" fill="#1a8ef4"/>
<circle cx="419.0" cy="332.2" r="1.2" fill="#159fec"/>
<circle cx="427.4" cy="333.8" r="1.2" fill="#1f7ff7"/>
<circle cx="417.7" cy="326.2" r="1.2" fill="#10b2d8"/>
<circle cx="438.5" cy="314.4" r="1.2" fill="#1e81f6"/>
<circle cx="460.5" cy="304.8" r="1.2" fill="#1896f2"/>
<circle cx="448.1" cy="313.9" r="1.2" fill="#1799f0"/>
<circle cx="448.8" cy="314.1" r="1.2" fill="#1f7df7"/>
<circle cx="417.7" cy="340.8" r="1.2" fill="#10b9cb"/>
<circle cx="448.4" cy="310.8" r="1.2" fill="#11a8e6"/>
<circle cx="422.2" cy="336.4" r="1.2" fill="#13a3ea"/>
<circle cx="449.4" cy="307.6" r="1.2" fill="#1991f3"/>
<circle cx="422.8" cy="320.9" r="1.2" fill="#1895f2"/>
<circle cx="440.7" cy="318.8" r="1.2" fill="#1e83f6"/>
<circle cx="423.8" cy="332.6" r="1.2" fill="#11aae6"/>
<circle cx="428.2" cy="319.2" r="1.2" fill="#10b5d2"/>
<circle cx="455.5" cy="307.0" r="1.2" fill="#10b2d7"/>
<circle cx="433.8" cy="315.4" r="1.2" fill="#1a8ff3"/>
<circle cx="454.3" cy="301.8" r="1.2" fill="#10b7ce"/>
<circle cx="445.3" cy="317.1" r="1.2" fill="#10b6d0"/>
<circle cx="459.2" cy="305.2" r="1.2" fill="#159dee"/>
<circle cx="415.3" cy="328.7" r="1.2" fill="#1f7cf8"/>
<circle cx="458.0" cy="301.4" r="1.2" fill="#10bac8"/>
<circle cx="434.8" cy="317.6" r="1.2" fill="#10b7cd"/>
<circle cx="431.6" cy="332.7" r="1.2" fill="#10ace3"/>
<circle cx="422.8" cy="338.6" r="1.2" fill="#1a8ef4"/>
<circle cx="441.9" cy="315.6" r="1.2" fill="#10b6d0"/>
<circle cx="416.8" cy="341.1" r="1.2" fill="#1896f2"/>
<circle cx="416.3" cy="326.3" r="1.2" fill="#1f7cf8"/>
<circle cx="419.6" cy="338.4" r="1.2" fill="#13a2ea"/>
<circle cx="417.8" cy="330.8" r="1.2" fill="#14a1eb"/>
<circle cx="424.7" cy="333.8" r="1.2" fill="#14a0ec"/>
<circle cx="417.5" cy="337.1" r="1.2" fill="#1f7df7"/>
<circle cx="446.3" cy="316.8" r="1.2" fill="#10b5d2"/>
<circle cx="438.2" cy="319.7" r="1.2" fill="#159ded"/>
<circle cx="457.9" cy="299.3" r="1.2" fill="#1b8bf4"/>
<circle cx="451.7" cy="309.1" r="1.2" fill="#10b1d9"/>
<circle cx="430.9" cy="318.3" r="1.2" fill="#14a1eb"/>
<circle cx="436.3" cy="311.7" r="1.2" fill="#1d85f6"/>
<circle cx="424.3" cy="323.3" r="1.2" fill="#159eed"/>
<circle cx="427.5" cy="330.1" r="1.2" fill="#1f7cf8"/>
<circle cx="433.6" cy="329.7" r="1.2" fill="#10b6d0"/>
<circle cx="440.9" cy="310.6" r="1.2" fill="#10b3d5"/>
<circle cx="419.7" cy="340.1" r="1.2" fill="#10b3d6"/>
<circle cx="444.7" cy="308.9" r="1.2" fill="#1f7ef7"/>
<circle cx="447.2" cy="315.5" r="1.2" fill="#10b2d8"/>
<circle cx="456.4" cy="298.5" r="1.2" fill="#1991f3"/>
<circle cx="435.1" cy="317.3" r="1.2" fill="#1c89f5"/>
<circle cx="421.0" cy="333.3" r="1.2" fill="#10b3d6"/>
<circle cx="426.4" cy="317.7" r="1.2" fill="#12a7e7"/>
<circle cx="459.7" cy="303.0" r="1.2" fill="#1993f3"/>
<circle cx="454.4" cy="304.1" r="1.2" fill="#10ace4"/>
<circle cx="447.8" cy="313.3" r="1.2" fill="#10b8cc"/>
<circle cx="416.5" cy="333.8" r="1.2" fill="#1896f2"/>
<circle cx="417.1" cy="340.2" r="1.2" fill="#10b6d0"/>
<circle cx="450.1" cy="305.4" r="1.2" fill="#14a1eb"/>
<circle cx="459.4" cy="299.7" r="1.2" fill="#159eed"/>
<circle cx="460.6" cy="301.1" r="1.2" fill="#10b3d5"/>
<circle cx="458.4" cy="305.2" r="1.2" fill="#10b8cb"/>
<circle cx="423.9" cy="333.6" r="1.2" fill="#169cee"/>
<circle cx="418.6" cy="333.1" r="1.2" fill="#1d83f6"/>
<circle cx="452.7" cy="304.8" r="1.2" fill="#10ace4"/>
<circle cx="428.6" cy="325.3" r="1.2" fill="#1895f2"/>
<circle cx="437.1" cy="316.7" r="1.2" fill="#14a0eb"/>
<circle cx="457.2" cy="297.5" r="1.2" fill="#10afdf"/>
<circle cx="415.7" cy="336.6" r="1.2" fill="#169cee"/>
<circle cx="441.2" cy="316.3" r="1.2" fill="#12a8e7"/>
<circle cx="436.1" cy="324.5" r="1.2" fill="#10b4d4"/>
<circle cx="431.2" cy="317.3" r="1.2" fill="#10ace4"/>
<circle cx="459.5" cy="298.0" r="1.2" fill="#10b1da"/>
<circle cx="427.9" cy="330.3" r="1.2" fill="#1a8ef4"/>
<circle cx="455.0" cy="302.3" r="1.2" fill="#1994f2"/>
<circle cx="425.5" cy="334.7" r="1.2" fill="#10bac7"/>
<circle cx="435.8" cy="323.9" r="1.2" fill="#1e82f6"/>
<circle cx="415.9" cy="327.0" r="1.2" fill="#169aef"/>
<circle cx="434.4" cy="328.6" r="1.2" fill="#1a8ef4"/>
<circle cx="459.6" cy="304.1" r="1.2" fill="#10aedf"/>
<circle cx="440.0" cy="313.9" r="1.2" fill="#1b8af5"/>
<circle cx="444.9" cy="311.7" r="1.2" fill="#10b7cf"/>
<circle cx="447.9" cy="314.9" r="1.2" fill="#10b1da"/>
<circle cx="431.6" cy="326.8" r="1.2" fill="#1d85f6"/>
<circle cx="421.6" cy="330.4" r="1.2" fill="#14a1eb"/>
<circle cx="460.5" cy="302.0" r="1.2" fill="#14a0ec"/>
<circle cx="431.8" cy="327.3" r="1.2" fill="#10b4d5"/>
<circle cx="442.8" cy="315.5" r="1.2" fill="#10b2d7"/>
<circle cx="456.8" cy="299.5" r="1.2" fill="#1a8df4"/>
<circle cx="457.8" cy="303.7" r="1.2" fill="#1e83f6"/>
<circle cx="453.1" cy="300.5" r="1.2" fill="#10b9ca"/>
<circle cx="416.8" cy="321.4" r="1.2" fill="#1f7ef7"/>
<circle cx="445.2" cy="309.9" r="1.2" fill="#1d86f6"/>
<circle cx="449.4" cy="308.8" r="1.2" fill="#10bac7"/>
<circle cx="434.0" cy="324.4" r="1.2" fill="#179aef"/>
<circle cx="421.2" cy="320.3" r="1.2" fill="#12a6e8"/>
<circle cx="458.2" cy="301.1" r="1.2" fill="#10b2d7"/>
<circle cx="447.1" cy="312.1" r="1.2" fill="#12a7e7"/>
<circle cx="442.5" cy="308.1" r="1.2" fill="#1992f3"/>
<circle cx="424.6" cy="331.2" r="1.2" fill="#1993f3"/>
<circle cx="423.6" cy="320.5" r="1.2" fill="#10b1da"/>
<circle cx="454.8" cy="304.5" r="1.2" fill="#10b6d0"/>
<circle cx="458.3" cy="306.9" r="1.2" fill="#1897f2"/>
<circle cx="424.4" cy="327.6" r="1.2" fill="#1c88f5"/>
<circle cx="439.3" cy="311.3" r="1.2" fill="#10b2d8"/>
<circle cx="449.5" cy="305.3" r="1.2" fill="#1798f1"/>
<circle cx="422.6" cy="326.3" r="1.2" fill="#14a0ec"/>
<circle cx="449.2" cy="310.0" r="1.2" fill="#159fec"/>
<circle cx="439.9" cy="323.5" r="1.2" fill="#159fec"/>
<circle cx="433.2" cy="329.5" r="1.2" fill="#10bbc6"/>
<circle cx="442.6" cy="313.9" r="1.2" fill="#10b9cb"/>
<circle cx="423.5" cy="334.0" r="1.2" fill="#207bf8"/>
<circle cx="430.1" cy="320.6" r="1.2" fill="#1f7df7"/>
<circle cx="433.6" cy="331.0" r="1.2" fill="#1991f3"/>
<circle cx="433.0" cy="326.1" r="1.2" fill="#1f7cf8"/>
<circle cx="421.7" cy="327.2" r="1.2" fill="#169cee"/>
<circle cx="438.2" cy="326.6" r="1.2" fill="#10b2d7"/>
<circle cx="418.8" cy="333.0" r="1.2" fill="#10b5d1"/>
<circle cx="450.2" cy="312.0" r="1.2" fill="#10afde"/>
<circle cx="434.2" cy="316.3" r="1.2" fill="#14a2ea"/>
<circle cx="422.2" cy="322.0" r="1.2" fill="#10b9ca"/>
<circle cx="428.4" cy="320.9" r="1.2" fill="#10bac8"/>
<circle cx="426.8" cy="321.9" r="1.2" fill="#169aef"/>
<circle cx="418.5" cy="338.0" r="1.2" fill="#10b8cc"/>
<circle cx="423.0" cy="336.4" r="1.2" fill="#1c89f5"/>
<circle cx="422.8" cy="331.5" r="1.2" fill="#1c89f5"/>
<circle cx="420.9" cy="335.6" r="1.2" fill="#10b8cc"/>
<circle cx="418.3" cy="324.1" r="1.2" fill="#11a9e6"/>
<circle cx="433.1" cy="331.9" r="1.2" fill="#10b2d7"/>
<circle cx="450.1" cy="305.8" r="1.2" fill="#1a8df4"/>
<circle cx="439.3" cy="317.6" r="1.2" fill="#10b4d4"/>
<circle cx="451.5" cy="309.0" r="1.2" fill="#1d83f6"/>
<circle cx="431.1" cy="319.0" r="1.2" fill="#11bcc0"/>
<circle cx="442.3" cy="312.0" r="1.2" fill="#1d84f6"/>
<circle cx="417.8" cy="334.8" r="1.2" fill="#12a7e7"/>
<circle cx="427.1" cy="333.1" r="1.2" fill="#10b2d8"/>
<circle cx="427.7" cy="325.0" r="1.2" fill="#10afdf"/>
<circle cx="445.0" cy="307.0" r="1.2" fill="#14a2ea"/>
<circle cx="425.9" cy="325.1" r="1.2" fill="#1798f1"/>
<circle cx="459.0" cy="305.3" r="1.2" fill="#1c89f5"/>
<circle cx="440.0" cy="317.8" r="1.2" fill="#14a2ea"/>
<circle cx="425.9" cy="329.6" r="1.2" fill="#10b0dd"/>
<circle cx="420.2" cy="332.1" r="1.2" fill="#1799f0"/>
<circle cx="454.8" cy="309.9" r="1.2" fill="#1c87f5"/>
<circle cx="443.8" cy="313.0" r="1.2" fill="#11bcc2"/>
<circle cx="429.7" cy="324.9" r="1.2" fill="#10b0dc"/>
<circle cx="430.9" cy="321.7" r="1.2" fill="#10bac7"/>
<circle cx="463.7" cy="297.9" r="1.2" fill="#12c1b0"/>
<circle cx="456.4" cy="304.5" r="1.2" fill="#18cc6b"/>
<circle cx="445.8" cy="303.4" r="1.2" fill="#14c5a4"/>
<circle cx="450.9" cy="304.8" r="1.2" fill="#13c4a6"/>
<circle cx="455.1" cy="302.9" r="1.2" fill="#13c2ad"/>
<circle cx="457.7" cy="304.1" r="1.2" fill="#14c5a2"/>
<circle cx="455.1" cy="304.8" r="1.2" fill="#15c88e"/>
<circle cx="463.9" cy="299.4" r="1.2" fill="#18cc6b"/>
<circle cx="451.6" cy="306.1" r="1.2" fill="#15c795"/>
<circle cx="453.7" cy="305.7" r="1.2" fill="#15c88c"/>
<circle cx="459.6" cy="301.7" r="1.2" fill="#13c2ae"/>
<circle cx="443.7" cy="310.8" r="1.2" fill="#14c79a"/>
<circle cx="448.2" cy="307.8" r="1.2" fill="#12c0b5"/>
<circle cx="450.0" cy="304.0" r="1.2" fill="#13c2ac"/>
<circle cx="454.0" cy="307.8" r="1.2" fill="#11bdbd"/>
<circle cx="452.8" cy="303.9" r="1.2" fill="#17cb74"/>
<circle cx="459.7" cy="303.3" r="1.2" fill="#14c69d"/>
<circle cx="453.4" cy="307.3" r="1.2" fill="#16ca7e"/>
<circle cx="463.4" cy="296.7" r="1.2" fill="#24cc60"/>
<circle cx="461.1" cy="298.8" r="1.2" fill="#13c3ab"/>
<circle cx="452.2" cy="298.7" r="1.2" fill="#20cc63"/>
<circle cx="452.5" cy="307.0" r="1.2" fill="#12c1af"/>
<circle cx="449.2" cy="303.3" r="1.2" fill="#12c1b1"/>
<circle cx="446.9" cy="303.2" r="1.2" fill="#15c793"/>
<circle cx="448.2" cy="311.3" r="1.2" fill="#13c3a9"/>
<circle cx="453.1" cy="309.0" r="1.2" fill="#14c5a4"/>
<circle cx="448.8" cy="308.6" r="1.2" fill="#13c4a5"/>
<circle cx="463.4" cy="297.0" r="1.2" fill="#16c88a"/>
<circle cx="463.1" cy="298.7" r="1.2" fill="#11beb9"/>
<circle cx="450.0" cy="311.5" r="1.2" fill="#19cc67"/>
<circle cx="443.4" cy="309.3" r="1.2" fill="#20cc62"/>
<circle cx="456.8" cy="306.4" r="1.2" fill="#17cb71"/>
<circle cx="456.9" cy="304.2" r="1.2" fill="#16c986"/>
<circle cx="444.4" cy="307.9" r="1.2" fill="#12bfb7"/>
<circle cx="463.1" cy="297.1" r="1.2" fill="#11bdbe"/>
<circle cx="456.8" cy="299.7" r="1.2" fill="#1dcc65"/>
<circle cx="459.3" cy="301.8" r="1.2" fill="#15c796"/>
<circle cx="451.3" cy="311.4" r="1.2" fill="#14c5a4"/>
<circle cx="455.1" cy="297.6" r="1.2" fill="#13c4a6"/>
<circle cx="462.7" cy="299.4" r="1.2" fill="#13c4a7"/>
<circle cx="449.4" cy="311.9" r="1.2" fill="#12c0b4"/>
<circle cx="450.8" cy="310.1" r="1.2" fill="#11bdc0"/>
<circle cx="461.6" cy="300.4" r="1.2" fill="#14c5a3"/>
<circle cx="456.4" cy="303.6" r="1.2" fill="#15c890"/>
<circle cx="458.4" cy="299.9" r="1.2" fill="#19cc67"/>
<circle cx="452.3" cy="300.8" r="1.2" fill="#18cb6e"/>
<circle cx="448.3" cy="301.9" r="1.2" fill="#12bfb7"/>
<circle cx="454.6" cy="308.9" r="1.2" fill="#11bebb"/>
<circle cx="449.3" cy="300.6" r="1.2" fill="#16ca7d"/>
<circle cx="458.3" cy="298.3" r="1.2" fill="#12c0b5"/>
<circle cx="430.5" cy="331.7" r="1.2" fill="#3344f3"/>
<circle cx="426.1" cy="346.4" r="1.2" fill="#207cf8"/>
<circle cx="437.9" cy="340.2" r="1.2" fill="#10b5d3"/>
<circle cx="422.9" cy="328.4" r="1.2" fill="#2372f8"/>
<circle cx="419.3" cy="333.1" r="1.2" fill="#10b6cf"/>
<circle cx="435.2" cy="335.7" r="1.2" fill="#2a5ff8"/>
<circle cx="417.5" cy="342.4" r="1.2" fill="#2e54f8"/>
<circle cx="417.5" cy="323.4" r="1.2" fill="#392fed"/>
<circle cx="428.4" cy="343.4" r="1.2" fill="#10b6d0"/>
<circle cx="417.3" cy="344.4" r="1.2" fill="#10ace4"/>
<circle cx="419.9" cy="325.0" r="1.2" fill="#10b9c9"/>
<circle cx="408.0" cy="339.7" r="1.2" fill="#10b3d5"/>
<circle cx="415.6" cy="329.2" r="1.2" fill="#1a8ef4"/>
<circle cx="417.8" cy="333.3" r="1.2" fill="#2f50f7"/>
<circle cx="420.7" cy="329.5" r="1.2" fill="#169bef"/>
<circle cx="417.5" cy="345.5" r="1.2" fill="#10b6d0"/>
<circle cx="409.8" cy="327.8" r="1.2" fill="#1e82f6"/>
<circle cx="417.1" cy="334.5" r="1.2" fill="#10b3d5"/>
<circle cx="404.6" cy="334.8" r="1.2" fill="#2b5bf8"/>
<circle cx="430.0" cy="344.7" r="1.2" fill="#3639f0"/>
<circle cx="413.8" cy="339.4" r="1.2" fill="#3639f0"/>
<circle cx="426.7" cy="330.8" r="1.2" fill="#2863f8"/>
<circle cx="422.6" cy="330.0" r="1.2" fill="#10b5d2"/>
<circle cx="410.0" cy="336.4" r="1.2" fill="#304df6"/>
<circle cx="404.4" cy="325.5" r="1.2" fill="#12a6e8"/>
<circle cx="418.6" cy="346.2" r="1.2" fill="#1993f3"/>
<circle cx="412.6" cy="330.7" r="1.2" fill="#10ace4"/>
<circle cx="409.4" cy="332.7" r="1.2" fill="#10b5d2"/>
<circle cx="428.3" cy="331.4" r="1.2" fill="#10b4d4"/>
<circle cx="423.3" cy="346.6" r="1.2" fill="#12a7e7"/>
<circle cx="420.7" cy="335.9" r="1.2" fill="#1a90f3"/>
<circle cx="407.9" cy="340.3" r="1.2" fill="#1f7ff7"/>
<circle cx="429.2" cy="336.7" r="1.2" fill="#1d84f6"/>
<circle cx="408.4" cy="337.1" r="1.2" fill="#353af1"/>
<circle cx="415.6" cy="345.4" r="1.2" fill="#1e81f7"/>
<circle cx="427.6" cy="337.1" r="1.2" fill="#1a8ef4"/>
<circle cx="423.5" cy="340.5" r="1.2" fill="#1897f1"/>
<circle cx="419.6" cy="324.7" r="1.2" fill="#1e80f7"/>
<circle cx="417.4" cy="337.1" r="1.2" fill="#266bf8"/>
<circle cx="430.6" cy="339.0" r="1.2" fill="#1c89f5"/>
<circle cx="437.1" cy="344.6" r="1.2" fill="#1c86f5"/>
<circle cx="427.9" cy="330.1" r="1.2" fill="#1895f2"/>
<circle cx="411.8" cy="327.9" r="1.2" fill="#2e53f8"/>
<circle cx="419.0" cy="334.5" r="1.2" fill="#10afde"/>
<circle cx="423.3" cy="331.7" r="1.2" fill="#10b1d9"/>
<circle cx="417.9" cy="337.9" r="1.2" fill="#2864f8"/>
<circle cx="420.5" cy="345.1" r="1.2" fill="#10b0dc"/>
<circle cx="425.9" cy="336.3" r="1.2" fill="#2c58f8"/>
<circle cx="434.9" cy="341.2" r="1.2" fill="#2373f8"/>
<circle cx="414.8" cy="324.3" r="1.2" fill="#2276f8"/>
<circle cx="413.4" cy="325.8" r="1.2" fill="#1897f2"/>
<circle cx="434.8" cy="342.2" r="1.2" fill="#1c88f5"/>
<circle cx="419.2" cy="343.7" r="1.2" fill="#246ff8"/>
<circle cx="411.8" cy="335.7" r="1.2" fill="#10b4d3"/>
<circle cx="429.8" cy="338.6" r="1.2" fill="#2b5cf8"/>
<circle cx="430.8" cy="342.8" r="1.2" fill="#3733ef"/>
<circle cx="425.9" cy="347.5" r="1.2" fill="#1b8bf4"/>
<circle cx="417.2" cy="336.1" r="1.2" fill="#2f52f7"/>
<circle cx="412.7" cy="343.7" r="1.2" fill="#1897f1"/>
<circle cx="405.9" cy="338.9" r="1.2" fill="#343ef2"/>
<circle cx="417.2" cy="328.6" r="1.2" fill="#10ace4"/>
<circle cx="405.4" cy="335.9" r="1.2" fill="#2963f8"/>
<circle cx="429.9" cy="337.8" r="1.2" fill="#246ff8"/>
<circle cx="403.7" cy="332.0" r="1.2" fill="#11abe5"/>
<circle cx="404.9" cy="328.1" r="1.2" fill="#10ace4"/>
<circle cx="431.1" cy="334.5" r="1.2" fill="#13a3ea"/>
<circle cx="435.5" cy="332.1" r="1.2" fill="#159ded"/>
<circle cx="410.9" cy="338.5" r="1.2" fill="#11aae5"/>
<circle cx="419.6" cy="336.1" r="1.2" fill="#10b2d7"/>
<circle cx="420.0" cy="332.1" r="1.2" fill="#343ef2"/>
<circle cx="432.6" cy="330.1" r="1.2" fill="#266bf8"/>
<circle cx="436.8" cy="331.8" r="1.2" fill="#10b7ce"/>
<circle cx="407.9" cy="332.5" r="1.2" fill="#2865f8"/>
<circle cx="426.6" cy="344.8" r="1.2" fill="#343df2"/>
<circle cx="430.1" cy="330.1" r="1.2" fill="#2768f8"/>
<circle cx="407.0" cy="341.9" r="1.2" fill="#1a8ef4"/>
<circle cx="417.9" cy="323.8" r="1.2" fill="#256ef8"/>
<circle cx="408.9" cy="324.8" r="1.2" fill="#10b4d4"/>
<circle cx="403.1" cy="339.7" r="1.2" fill="#1799f0"/>
<circle cx="413.9" cy="322.6" r="1.2" fill="#10b7cd"/>
<circle cx="418.4" cy="339.9" r="1.2" fill="#3831ee"/>
<circle cx="420.0" cy="339.3" r="1.2" fill="#3148f5"/>
<circle cx="415.6" cy="345.9" r="1.2" fill="#12a7e7"/>
<circle cx="432.9" cy="334.5" r="1.2" fill="#10b4d4"/>
<circle cx="411.4" cy="336.1" r="1.2" fill="#3734ef"/>
<circle cx="421.0" cy="330.2" r="1.2" fill="#3734ef"/>
<circle cx="403.3" cy="327.1" r="1.2" fill="#256cf8"/>
<circle cx="408.5" cy="332.1" r="1.2" fill="#10b7ce"/>
<circle cx="414.2" cy="340.8" r="1.2" fill="#3734ef"/>
<circle cx="438.7" cy="334.7" r="1.2" fill="#1b8df4"/>
<circle cx="405.6" cy="330.6" r="1.2" fill="#179af0"/>
<circle cx="420.5" cy="333.7" r="1.2" fill="#10ace4"/>
<circle cx="413.2" cy="325.8" r="1.2" fill="#13a4e9"/>
<circle cx="430.3" cy="342.2" r="1.2" fill="#304cf6"/>
<circle cx="414.7" cy="341.9" r="1.2" fill="#1c88f5"/>
<circle cx="420.2" cy="329.0" r="1.2" fill="#3344f3"/>
<circle cx="411.2" cy="330.7" r="1.2" fill="#1e81f7"/>
<circle cx="435.5" cy="341.7" r="1.2" fill="#14a1eb"/>
<circle cx="426.6" cy="339.7" r="1.2" fill="#1993f3"/>
<circle cx="406.8" cy="334.3" r="1.2" fill="#2b5df8"/>
<circle cx="417.2" cy="341.6" r="1.2" fill="#2276f8"/>
<circle cx="423.4" cy="334.7" r="1.2" fill="#1c89f5"/>
<circle cx="432.2" cy="331.6" r="1.2" fill="#159ded"/>
<circle cx="432.1" cy="333.6" r="1.2" fill="#10ade3"/>
<circle cx="428.0" cy="343.9" r="1.2" fill="#2b5cf8"/>
<circle cx="413.0" cy="338.9" r="1.2" fill="#10aee1"/>
<circle cx="411.9" cy="325.7" r="1.2" fill="#10b6d0"/>
<circle cx="406.1" cy="340.7" r="1.2" fill="#304df6"/>
<circle cx="434.7" cy="333.2" r="1.2" fill="#2f51f7"/>
<circle cx="420.3" cy="336.6" r="1.2" fill="#343ff2"/>
<circle cx="423.5" cy="347.4" r="1.2" fill="#3a2bec"/>
<circle cx="420.2" cy="339.9" r="1.2" fill="#2f51f7"/>
<circle cx="428.6" cy="339.3" r="1.2" fill="#2470f8"/>
<circle cx="433.1" cy="330.1" r="1.2" fill="#3734ef"/>
<circle cx="411.4" cy="330.3" r="1.2" fill="#1b8df4"/>
<circle cx="417.2" cy="330.1" r="1.2" fill="#2079f8"/>
<circle cx="407.6" cy="340.9" r="1.2" fill="#169bef"/>
<circle cx="436.4" cy="340.7" r="1.2" fill="#1e80f7"/>
<circle cx="431.6" cy="331.9" r="1.2" fill="#10b6d0"/>
<circle cx="436.7" cy="339.3" r="1.2" fill="#2c5af8"/>
<circle cx="428.6" cy="334.6" r="1.2" fill="#1798f0"/>
<circle cx="436.2" cy="339.7" r="1.2" fill="#1c88f5"/>
<circle cx="434.7" cy="335.7" r="1.2" fill="#10b0dc"/>
<circle cx="403.3" cy="331.8" r="1.2" fill="#2178f8"/>
<circle cx="415.3" cy="325.2" r="1.2" fill="#2371f8"/>
<circle cx="419.6" cy="327.5" r="1.2" fill="#2f51f7"/>
<circle cx="411.1" cy="344.5" r="1.2" fill="#10b0dc"/>
<circle cx="438.8" cy="333.1" r="1.2" fill="#1b8bf4"/>
<circle cx="419.9" cy="338.5" r="1.2" fill="#10b6d1"/>
<circle cx="425.6" cy="339.8" r="1.2" fill="#266bf8"/>
<circle cx="415.2" cy="322.4" r="1.2" fill="#1a8ff4"/>
<circle cx="432.6" cy="333.5" r="1.2" fill="#2c58f8"/>
<circle cx="406.2" cy="332.4" r="1.2" fill="#10b8cc"/>
<circle cx="411.1" cy="336.7" r="1.2" fill="#10b2d7"/>
<circle cx="436.4" cy="330.2" r="1.2" fill="#10b9ca"/>
<circle cx="413.0" cy="338.1" r="1.2" fill="#3245f4"/>
<circle cx="429.6" cy="332.0" r="1.2" fill="#1c89f5"/>
<circle cx="417.5" cy="339.3" r="1.2" fill="#10b2d9"/>
<circle cx="415.1" cy="325.3" r="1.2" fill="#10afdd"/>
<circle cx="417.2" cy="331.4" r="1.2" fill="#1e81f6"/>
<circle cx="411.4" cy="343.8" r="1.2" fill="#1992f3"/>
<circle cx="422.7" cy="327.4" r="1.2" fill="#11a9e6"/>
<circle cx="407.3" cy="340.2" r="1.2" fill="#10b0db"/>
<circle cx="412.3" cy="327.8" r="1.2" fill="#11a9e6"/>
<circle cx="429.9" cy="344.5" r="1.2" fill="#2a5ef8"/>
<circle cx="415.6" cy="329.3" r="1.2" fill="#10b4d3"/>
<circle cx="410.0" cy="336.6" r="1.2" fill="#13a4e9"/>
<circle cx="437.3" cy="344.6" r="1.2" fill="#10b3d6"/>
<circle cx="414.9" cy="344.1" r="1.2" fill="#10b6d0"/>
<circle cx="415.5" cy="341.3" r="1.2" fill="#2d56f8"/>
<circle cx="409.2" cy="340.8" r="1.2" fill="#3a28e9"/>
<circle cx="414.1" cy="334.6" r="1.2" fill="#3c23e0"/>
<circle cx="417.2" cy="336.7" r="1.2" fill="#3c22df"/>
<circle cx="408.2" cy="343.8" r="1.2" fill="#392ced"/>
<circle cx="416.7" cy="342.2" r="1.2" fill="#363af0"/>
<circle cx="409.8" cy="342.1" r="1.2" fill="#3d1dd6"/>
<circle cx="407.9" cy="342.8" r="1.2" fill="#3a28e9"/>
<circle cx="412.7" cy="343.6" r="1.2" fill="#3636f0"/>
<circle cx="412.3" cy="339.1" r="1.2" fill="#3b27e7"/>
<circle cx="415.7" cy="333.9" r="1.2" fill="#3c21dd"/>
<circle cx="407.1" cy="341.3" r="1.2" fill="#3736ef"/>
<circle cx="410.2" cy="338.6" r="1.2" fill="#3b25e4"/>
<circle cx="415.4" cy="336.0" r="1.2" fill="#3734ef"/>
<circle cx="409.5" cy="339.6" r="1.2" fill="#3734ef"/>
<circle cx="406.5" cy="338.3" r="1.2" fill="#353af1"/>
<circle cx="443.6" cy="321.8" r="1.2" fill="#10b6d0"/>
<circle cx="454.0" cy="317.0" r="1.2" fill="#1993f3"/>
<circle cx="439.4" cy="319.0" r="1.2" fill="#12a8e7"/>
<circle cx="449.5" cy="315.7" r="1.2" fill="#10b4d3"/>
<circle cx="452.5" cy="322.8" r="1.2" fill="#10b0dc"/>
<circle cx="442.3" cy="323.4" r="1.2" fill="#10ade2"/>
<circle cx="443.5" cy="327.0" r="1.2" fill="#1b8cf4"/>
<circle cx="440.4" cy="318.5" r="1.2" fill="#12a7e7"/>
<circle cx="452.1" cy="314.6" r="1.2" fill="#10b3d6"/>
<circle cx="446.1" cy="328.2" r="1.2" fill="#10b9ca"/>
<circle cx="444.1" cy="328.0" r="1.2" fill="#169bef"/>
<circle cx="441.2" cy="327.0" r="1.2" fill="#10b7ce"/>
<circle cx="451.9" cy="328.0" r="1.2" fill="#169cee"/>
<circle cx="446.3" cy="320.5" r="1.2" fill="#10ade2"/>
<circle cx="440.1" cy="323.0" r="1.2" fill="#10b2d7"/>
<circle cx="442.9" cy="324.3" r="1.2" fill="#1a90f3"/>
<circle cx="450.7" cy="320.8" r="1.2" fill="#10bac9"/>
<circle cx="445.4" cy="315.0" r="1.2" fill="#10aee0"/>
<circle cx="442.6" cy="320.6" r="1.2" fill="#14a1eb"/>
<circle cx="438.6" cy="318.2" r="1.2" fill="#10b5d2"/>
<circle cx="448.8" cy="327.4" r="1.2" fill="#1c89f5"/>
<circle cx="446.2" cy="326.0" r="1.2" fill="#1a90f3"/>
<circle cx="446.3" cy="317.9" r="1.2" fill="#169bef"/>
<circle cx="449.2" cy="319.2" r="1.2" fill="#11a8e6"/>
<circle cx="446.1" cy="321.6" r="1.2" fill="#11a8e6"/>
<circle cx="445.3" cy="317.1" r="1.2" fill="#1798f0"/>
<circle cx="452.9" cy="324.0" r="1.2" fill="#10b6d0"/>
<circle cx="451.2" cy="320.7" r="1.2" fill="#10b4d5"/>
<circle cx="445.3" cy="317.5" r="1.2" fill="#10ade2"/>
<circle cx="443.5" cy="325.2" r="1.2" fill="#10ade2"/>
<circle cx="449.9" cy="321.0" r="1.2" fill="#10afde"/>
<circle cx="445.7" cy="314.8" r="1.2" fill="#10b7ce"/>
<circle cx="454.3" cy="320.1" r="1.2" fill="#13a4e9"/>
<circle cx="450.6" cy="327.3" r="1.2" fill="#10b6d0"/>
<circle cx="453.6" cy="320.0" r="1.2" fill="#13a4e9"/>
<circle cx="443.4" cy="316.7" r="1.2" fill="#10ace4"/>
<circle cx="447.9" cy="324.7" r="1.2" fill="#11a9e6"/>
<circle cx="443.9" cy="314.3" r="1.2" fill="#1992f3"/>
<circle cx="454.6" cy="317.6" r="1.2" fill="#169cee"/>
<circle cx="452.6" cy="326.0" r="1.2" fill="#10b0dc"/>
<circle cx="452.4" cy="322.2" r="1.2" fill="#1895f2"/>
<circle cx="449.7" cy="316.7" r="1.2" fill="#10b6cf"/>
<circle cx="446.4" cy="313.8" r="1.2" fill="#1895f2"/>
<circle cx="446.1" cy="319.5" r="1.2" fill="#14a1eb"/>
<circle cx="449.2" cy="320.7" r="1.2" fill="#10b8cb"/>
<circle cx="456.9" cy="327.2" r="1.2" fill="#3d1dd5"/>
<circle cx="451.5" cy="325.3" r="1.2" fill="#3c23df"/>
<circle cx="453.9" cy="320.7" r="1.2" fill="#392ced"/>
<circle cx="452.4" cy="319.8" r="1.2" fill="#3a29ea"/>
<circle cx="452.8" cy="327.4" r="1.2" fill="#3c23df"/>
<circle cx="451.5" cy="323.5" r="1.2" fill="#3a2bec"/>
<circle cx="448.9" cy="329.6" r="1.2" fill="#3c20db"/>
<circle cx="451.6" cy="328.8" r="1.2" fill="#392ded"/>
<circle cx="452.6" cy="328.6" r="1.2" fill="#3c1fd9"/>
<circle cx="448.5" cy="326.2" r="1.2" fill="#3b24e1"/>
<circle cx="455.0" cy="322.5" r="1.2" fill="#3c20db"/>
<circle cx="452.4" cy="329.7" r="1.2" fill="#3d1cd5"/>
<circle cx="455.8" cy="322.5" r="1.2" fill="#3b25e3"/>
<circle cx="452.5" cy="329.4" r="1.2" fill="#3a29ea"/>
<circle cx="450.2" cy="328.5" r="1.2" fill="#3b28e8"/>
<circle cx="454.6" cy="328.9" r="1.2" fill="#392ded"/>
<circle cx="448.8" cy="326.4" r="1.2" fill="#3d1ed8"/>
<circle cx="448.4" cy="318.8" r="1.2" fill="#3d1dd6"/>
<circle cx="468.3" cy="304.7" r="1.25" fill="#3d1cd3"/>
<circle cx="466.3" cy="306.4" r="1.25" fill="#3d1cd4"/>
<circle cx="463.4" cy="308.8" r="1.25" fill="#3d1dd5"/>
<circle cx="461.7" cy="310.3" r="1.25" fill="#3d1dd6"/>
<circle cx="459.2" cy="313.0" r="1.25" fill="#3d1ed7"/>
<circle cx="457.0" cy="314.3" r="1.25" fill="#3d1ed7"/>
<circle cx="454.7" cy="315.5" r="1.25" fill="#3d1fd8"/>
<circle cx="452.0" cy="317.1" r="1.25" fill="#3c1fd9"/>
<circle cx="452.2" cy="319.4" r="1.25" fill="#3c1fda"/>
<circle cx="452.2" cy="321.0" r="1.25" fill="#3c20da"/>
<circle cx="453.5" cy="324.6" r="1.25" fill="#3c20db"/>
<circle cx="454.4" cy="325.8" r="1.25" fill="#3c21dc"/>
<circle cx="477.3" cy="333.1" r="1.25" fill="#3d1cd3"/>
<circle cx="475.4" cy="333.0" r="1.25" fill="#3d1cd4"/>
<circle cx="472.5" cy="332.6" r="1.25" fill="#3d1dd5"/>
<circle cx="470.5" cy="331.7" r="1.25" fill="#3d1dd6"/>
<circle cx="468.9" cy="331.3" r="1.25" fill="#3d1ed7"/>
<circle cx="465.5" cy="331.1" r="1.25" fill="#3d1ed8"/>
<circle cx="463.6" cy="330.8" r="1.25" fill="#3d1fd9"/>
<circle cx="460.5" cy="330.1" r="1.25" fill="#3c1fda"/>
<circle cx="457.9" cy="329.3" r="1.25" fill="#3c20db"/>
<circle cx="456.4" cy="329.0" r="1.25" fill="#3c20db"/>
<circle cx="484.6" cy="306.4" r="1.0" fill="#e8b800"/>
<circle cx="484.0" cy="306.8" r="1.0" fill="#e1ba04"/>
<circle cx="483.4" cy="307.2" r="1.0" fill="#dabc08"/>
<circle cx="482.8" cy="307.6" r="1.0" fill="#d2bf0d"/>
<circle cx="482.2" cy="308.0" r="1.0" fill="#cbc111"/>
<circle cx="481.5" cy="308.4" r="1.0" fill="#c4c315"/>
<circle cx="480.9" cy="308.8" r="1.0" fill="#bdc519"/>
<circle cx="480.3" cy="309.2" r="1.0" fill="#b5c81d"/>
<circle cx="479.7" cy="309.6" r="1.0" fill="#a9c921"/>
<circle cx="479.1" cy="310.0" r="1.0" fill="#9cc925"/>
<circle cx="478.5" cy="310.3" r="1.0" fill="#95c927"/>
<circle cx="477.8" cy="310.6" r="1.0" fill="#8eca29"/>
<circle cx="477.2" cy="311.0" r="1.0" fill="#87ca2b"/>
<circle cx="476.5" cy="311.3" r="1.0" fill="#81ca2d"/>
<circle cx="475.9" cy="311.6" r="1.0" fill="#7acb2f"/>
<circle cx="475.2" cy="311.9" r="1.0" fill="#73cb31"/>
<circle cx="474.6" cy="312.2" r="1.0" fill="#6ccb33"/>
<circle cx="473.9" cy="312.6" r="1.0" fill="#65cc35"/>
<circle cx="473.2" cy="312.9" r="1.0" fill="#5fcc37"/>
<circle cx="472.6" cy="313.2" r="1.0" fill="#59cc3b"/>
<circle cx="471.9" cy="313.5" r="1.0" fill="#53cc3f"/>
<circle cx="471.3" cy="313.9" r="1.0" fill="#4dcc43"/>
<circle cx="470.6" cy="314.2" r="1.0" fill="#47cc47"/>
<circle cx="470.0" cy="314.5" r="1.0" fill="#41cc4b"/>
<circle cx="469.3" cy="314.7" r="1.0" fill="#3ecc4d"/>
<circle cx="468.6" cy="314.9" r="1.0" fill="#3bcc50"/>
<circle cx="468.0" cy="315.1" r="1.0" fill="#38cc52"/>
<circle cx="467.3" cy="315.2" r="1.0" fill="#35cc54"/>
<circle cx="466.6" cy="315.4" r="1.0" fill="#32cc56"/>
<circle cx="465.9" cy="315.6" r="1.0" fill="#30cc58"/>
<circle cx="465.2" cy="315.8" r="1.0" fill="#2dcc5a"/>
<circle cx="464.6" cy="316.0" r="1.0" fill="#2acc5c"/>
<circle cx="463.9" cy="316.2" r="1.0" fill="#27cc5e"/>
<circle cx="463.2" cy="316.4" r="1.0" fill="#24cc60"/>
<circle cx="462.5" cy="316.5" r="1.0" fill="#21cc62"/>
<circle cx="461.9" cy="316.7" r="1.0" fill="#1ecc64"/>
<circle cx="461.2" cy="316.9" r="1.0" fill="#1bcc66"/>
<circle cx="460.5" cy="317.1" r="1.0" fill="#18cc68"/>
<circle cx="448.0" cy="272.7" r="1.25" fill="#17cb76"/>
<circle cx="450.1" cy="274.2" r="1.25" fill="#17cb73"/>
<circle cx="451.0" cy="275.3" r="1.25" fill="#17cb72"/>
<circle cx="453.3" cy="277.4" r="1.25" fill="#18cb6f"/>
<circle cx="454.5" cy="279.4" r="1.25" fill="#18cc6c"/>
<circle cx="456.9" cy="282.2" r="1.25" fill="#18cc68"/>
<circle cx="457.7" cy="283.3" r="1.25" fill="#1acc67"/>
<circle cx="458.5" cy="284.8" r="1.25" fill="#1dcc65"/>
<circle cx="460.7" cy="287.1" r="1.25" fill="#21cc61"/>
<circle cx="462.9" cy="289.4" r="1.25" fill="#26cc5e"/>
<circle cx="464.2" cy="291.5" r="1.25" fill="#2bcc5b"/>
<circle cx="470.0" cy="269.1" r="1.0" fill="#e8b800"/>
<circle cx="469.7" cy="269.8" r="1.0" fill="#e3b903"/>
<circle cx="469.4" cy="270.5" r="1.0" fill="#dfbb05"/>
<circle cx="469.1" cy="271.2" r="1.0" fill="#dabc08"/>
<circle cx="468.9" cy="271.9" r="1.0" fill="#d5be0b"/>
<circle cx="468.6" cy="272.6" r="1.0" fill="#d1bf0d"/>
<circle cx="468.3" cy="273.3" r="1.0" fill="#ccc110"/>
<circle cx="468.0" cy="274.0" r="1.0" fill="#c7c213"/>
<circle cx="467.8" cy="274.7" r="1.0" fill="#c3c315"/>
<circle cx="467.5" cy="275.5" r="1.0" fill="#bec518"/>
<circle cx="467.3" cy="276.2" r="1.0" fill="#bac61b"/>
<circle cx="467.1" cy="276.9" r="1.0" fill="#b5c81d"/>
<circle cx="466.9" cy="277.6" r="1.0" fill="#adc820"/>
<circle cx="466.6" cy="278.4" r="1.0" fill="#a5c922"/>
<circle cx="466.4" cy="279.1" r="1.0" fill="#9cc925"/>
<circle cx="466.2" cy="279.8" r="1.0" fill="#95ca27"/>
<circle cx="466.0" cy="280.6" r="1.0" fill="#8dca29"/>
<circle cx="465.9" cy="281.3" r="1.0" fill="#85ca2b"/>
<circle cx="465.7" cy="282.1" r="1.0" fill="#7ecb2d"/>
<circle cx="465.5" cy="282.8" r="1.0" fill="#77cb30"/>
<circle cx="465.4" cy="283.5" r="1.0" fill="#6fcb32"/>
<circle cx="465.2" cy="284.3" r="1.0" fill="#67cc34"/>
<circle cx="465.0" cy="285.0" r="1.0" fill="#60cc36"/>
<circle cx="464.9" cy="285.7" r="1.0" fill="#59cc3b"/>
<circle cx="464.9" cy="286.4" r="1.0" fill="#51cc40"/>
<circle cx="464.8" cy="287.1" r="1.0" fill="#4acc45"/>
<circle cx="464.7" cy="287.9" r="1.0" fill="#43cc4a"/>
<circle cx="464.6" cy="288.6" r="1.0" fill="#3bcc50"/>
<circle cx="464.6" cy="289.3" r="1.0" fill="#34cc55"/>
<circle cx="464.5" cy="290.0" r="1.0" fill="#2dcc5a"/>
<circle cx="464.5" cy="290.0" r="1.0" fill="#41cc4b"/>
<circle cx="465.1" cy="290.4" r="1.0" fill="#48cc47"/>
<circle cx="465.7" cy="290.8" r="1.0" fill="#4fcc42"/>
<circle cx="466.3" cy="291.1" r="1.0" fill="#56cc3d"/>
<circle cx="466.9" cy="291.5" r="1.0" fill="#5dcc38"/>
<circle cx="467.5" cy="291.9" r="1.0" fill="#64cc35"/>
<circle cx="468.1" cy="292.2" r="1.0" fill="#6ccb33"/>
<circle cx="468.8" cy="292.6" r="1.0" fill="#74cb30"/>
<circle cx="469.4" cy="293.0" r="1.0" fill="#7ccb2e"/>
<circle cx="470.0" cy="293.4" r="1.0" fill="#84ca2c"/>
<circle cx="470.6" cy="293.8" r="1.0" fill="#8cca29"/>
<circle cx="471.2" cy="294.1" r="1.0" fill="#94ca27"/>
<circle cx="471.8" cy="294.5" r="1.0" fill="#9cc925"/>
<circle cx="472.5" cy="294.8" r="1.0" fill="#a5c922"/>
<circle cx="473.2" cy="295.1" r="1.0" fill="#aec820"/>
<circle cx="473.8" cy="295.4" r="1.0" fill="#b6c71d"/>
<circle cx="474.5" cy="295.7" r="1.0" fill="#bbc61a"/>
<circle cx="475.2" cy="296.0" r="1.0" fill="#c0c417"/>
<circle cx="475.9" cy="296.3" r="1.0" fill="#c5c314"/>
<circle cx="476.5" cy="296.6" r="1.0" fill="#cac111"/>
<circle cx="477.2" cy="296.9" r="1.0" fill="#cfc00e"/>
<circle cx="477.9" cy="297.2" r="1.0" fill="#d4be0c"/>
<circle cx="478.6" cy="297.5" r="1.0" fill="#d9bd09"/>
<circle cx="479.2" cy="297.8" r="1.0" fill="#debb06"/>
<circle cx="479.9" cy="298.1" r="1.0" fill="#e3ba03"/>
<circle cx="480.6" cy="298.4" r="1.0" fill="#e8b800"/>
<circle cx="348.4" cy="338.7" r="1.25" fill="#3d1cd3"/>
<circle cx="350.1" cy="338.1" r="1.25" fill="#3d1dd5"/>
<circle cx="354.2" cy="336.9" r="1.25" fill="#3c1fd9"/>
<circle cx="354.8" cy="334.7" r="0.9" fill="#3c21dc"/>
<circle cx="355.0" cy="334.7" r="0.9" fill="#3c21dd"/>
<circle cx="355.8" cy="334.6" r="0.9" fill="#3c22de"/>
<circle cx="356.4" cy="334.2" r="0.9" fill="#3c22df"/>
<circle cx="357.5" cy="334.1" r="0.9" fill="#3c23e0"/>
<circle cx="358.2" cy="334.1" r="0.9" fill="#3c23e0"/>
<circle cx="358.9" cy="334.0" r="0.9" fill="#3b24e1"/>
<circle cx="359.6" cy="333.7" r="0.9" fill="#3b24e2"/>
<circle cx="360.4" cy="334.2" r="0.9" fill="#3b25e3"/>
<circle cx="361.1" cy="333.8" r="0.9" fill="#3b25e3"/>
<circle cx="361.6" cy="334.0" r="0.9" fill="#3b26e4"/>
<circle cx="362.2" cy="333.5" r="0.9" fill="#3b26e5"/>
<circle cx="362.8" cy="333.5" r="0.9" fill="#3b26e6"/>
<circle cx="364.0" cy="333.6" r="0.9" fill="#3b27e6"/>
<circle cx="364.5" cy="333.2" r="0.9" fill="#3b27e7"/>
<circle cx="365.1" cy="333.3" r="0.9" fill="#3b27e7"/>
<circle cx="365.9" cy="333.3" r="0.9" fill="#3b28e8"/>
<circle cx="366.8" cy="333.3" r="0.9" fill="#3a28e8"/>
<circle cx="367.6" cy="333.6" r="0.9" fill="#3a28e9"/>
<circle cx="368.2" cy="333.6" r="0.9" fill="#3a28e9"/>
<circle cx="369.0" cy="333.5" r="0.9" fill="#3a29ea"/>
<circle cx="369.7" cy="333.3" r="0.9" fill="#3a29ea"/>
<circle cx="370.6" cy="333.1" r="0.9" fill="#3a29eb"/>
<circle cx="370.9" cy="333.5" r="0.9" fill="#3a29eb"/>
<circle cx="371.8" cy="333.3" r="0.9" fill="#3a2aec"/>
<circle cx="372.4" cy="333.5" r="0.9" fill="#3a2aec"/>
<circle cx="354.5" cy="335.0" r="1.1" fill="#e8b800"/>
<circle cx="355.1" cy="335.4" r="1.1" fill="#e2ba03"/>
<circle cx="355.7" cy="335.8" r="1.1" fill="#dcbc07"/>
<circle cx="356.3" cy="336.2" r="1.1" fill="#d7bd0a"/>
<circle cx="356.9" cy="336.6" r="1.1" fill="#d1bf0d"/>
<circle cx="357.6" cy="336.9" r="1.1" fill="#cbc111"/>
<circle cx="358.2" cy="337.3" r="1.1" fill="#c5c314"/>
<circle cx="358.8" cy="337.7" r="1.1" fill="#c0c417"/>
<circle cx="359.4" cy="338.1" r="1.1" fill="#bac61b"/>
<circle cx="360.0" cy="338.5" r="1.1" fill="#b4c81e"/>
<circle cx="360.7" cy="338.8" r="1.1" fill="#adc820"/>
<circle cx="361.3" cy="339.2" r="1.1" fill="#a7c922"/>
<circle cx="362.0" cy="339.5" r="1.1" fill="#a0c924"/>
<circle cx="362.7" cy="339.9" r="1.1" fill="#9ac925"/>
<circle cx="363.3" cy="340.2" r="1.1" fill="#93ca27"/>
<circle cx="364.0" cy="340.6" r="1.1" fill="#8dca29"/>
<circle cx="364.6" cy="340.9" r="1.1" fill="#86ca2b"/>
<circle cx="365.3" cy="341.3" r="1.1" fill="#80ca2d"/>
<circle cx="366.0" cy="341.6" r="1.1" fill="#79cb2f"/>
<circle cx="366.6" cy="342.0" r="1.1" fill="#73cb31"/>
<circle cx="367.3" cy="342.3" r="1.1" fill="#6ccb33"/>
<circle cx="367.9" cy="342.6" r="1.1" fill="#64cc35"/>
<circle cx="368.6" cy="342.9" r="1.1" fill="#5dcc38"/>
<circle cx="369.2" cy="343.2" r="1.1" fill="#56cc3d"/>
<circle cx="369.8" cy="343.5" r="1.1" fill="#4fcc42"/>
<circle cx="370.5" cy="343.8" r="1.1" fill="#48cc47"/>
<circle cx="371.1" cy="344.1" r="1.1" fill="#41cc4b"/>
<circle cx="371.7" cy="344.4" r="1.1" fill="#3acc50"/>
<circle cx="372.4" cy="344.7" r="1.1" fill="#33cc55"/>
<circle cx="373.0" cy="345.0" r="1.1" fill="#2dcc5a"/>
<circle cx="373.6" cy="345.3" r="1.1" fill="#2acc5b"/>
<circle cx="374.3" cy="345.7" r="1.1" fill="#27cc5d"/>
<circle cx="374.9" cy="346.0" r="1.1" fill="#25cc5f"/>
<circle cx="375.6" cy="346.4" r="1.1" fill="#22cc61"/>
<circle cx="376.2" cy="346.7" r="1.1" fill="#20cc63"/>
<circle cx="376.9" cy="347.0" r="1.1" fill="#1dcc64"/>
<circle cx="377.6" cy="347.4" r="1.1" fill="#1bcc66"/>
<circle cx="378.2" cy="347.7" r="1.1" fill="#18cc68"/>
<circle cx="378.9" cy="348.1" r="1.1" fill="#18cb6e"/>
<circle cx="379.5" cy="348.4" r="1.1" fill="#17cb74"/>
<circle cx="380.2" cy="348.8" r="1.1" fill="#17ca7b"/>
<circle cx="380.9" cy="349.2" r="1.1" fill="#16c981"/>
<circle cx="381.5" cy="349.5" r="1.1" fill="#16c987"/>
<circle cx="382.2" cy="349.9" r="1.1" fill="#15c88d"/>
<circle cx="382.9" cy="350.3" r="1.1" fill="#15c794"/>
<circle cx="383.5" cy="350.6" r="1.1" fill="#14c79a"/>
<circle cx="384.2" cy="351.0" r="1.1" fill="#14c6a0"/>
<circle cx="384.1" cy="345.1" r="1.25" fill="#3d1cd3"/>
<circle cx="385.6" cy="345.8" r="1.25" fill="#3d1cd4"/>
<circle cx="387.4" cy="346.1" r="1.25" fill="#3d1dd5"/>
<circle cx="389.9" cy="348.0" r="1.25" fill="#3d1dd6"/>
<circle cx="392.1" cy="351.3" r="1.25" fill="#3d1fd8"/>
<circle cx="392.9" cy="352.7" r="1.25" fill="#3c1fd9"/>
<circle cx="392.9" cy="356.5" r="1.25" fill="#3c20db"/>
<circle cx="392.6" cy="358.0" r="1.25" fill="#3c21dc"/>
<circle cx="394.7" cy="345.1" r="1.25" fill="#3d1dd6"/>
<circle cx="397.8" cy="343.9" r="1.25" fill="#3c1fd9"/>
<circle cx="399.9" cy="343.6" r="1.25" fill="#3c20db"/>
<circle cx="403.4" cy="342.5" r="1.25" fill="#3c22de"/>
<circle cx="406.1" cy="340.5" r="1.25" fill="#3b24e1"/>
<circle cx="407.0" cy="339.1" r="1.25" fill="#3b25e3"/>
<circle cx="408.2" cy="336.6" r="1.25" fill="#3b26e5"/>
<circle cx="378.2" cy="365.0" r="1.1" fill="#e8b800"/>
<circle cx="378.9" cy="364.7" r="1.1" fill="#e2ba04"/>
<circle cx="379.6" cy="364.4" r="1.1" fill="#dbbc08"/>
<circle cx="380.2" cy="364.1" r="1.1" fill="#d4be0b"/>
<circle cx="380.9" cy="363.8" r="1.1" fill="#cec00f"/>
<circle cx="381.6" cy="363.5" r="1.1" fill="#c7c213"/>
<circle cx="382.3" cy="363.2" r="1.1" fill="#c1c416"/>
<circle cx="383.0" cy="362.9" r="1.1" fill="#bbc61a"/>
<circle cx="383.6" cy="362.6" r="1.1" fill="#b4c81e"/>
<circle cx="384.3" cy="362.3" r="1.1" fill="#a8c921"/>
<circle cx="385.0" cy="362.0" r="1.1" fill="#9cc925"/>
<circle cx="385.7" cy="361.8" r="1.1" fill="#91ca28"/>
<circle cx="386.4" cy="361.5" r="1.1" fill="#86ca2b"/>
<circle cx="387.1" cy="361.3" r="1.1" fill="#7bcb2e"/>
<circle cx="387.8" cy="361.1" r="1.1" fill="#70cb31"/>
<circle cx="388.5" cy="360.9" r="1.1" fill="#65cc34"/>
<circle cx="389.2" cy="360.6" r="1.1" fill="#5bcc39"/>
<circle cx="389.9" cy="360.4" r="1.1" fill="#52cc40"/>
<circle cx="390.6" cy="360.2" r="1.1" fill="#49cc46"/>
<circle cx="391.3" cy="360.0" r="1.1" fill="#3fcc4d"/>
<circle cx="392.0" cy="359.7" r="1.1" fill="#36cc53"/>
<circle cx="392.7" cy="359.5" r="1.1" fill="#2dcc5a"/>
<circle cx="393.2" cy="358.9" r="1.1" fill="#2bcc5b"/>
<circle cx="393.6" cy="358.3" r="1.1" fill="#29cc5c"/>
<circle cx="394.1" cy="357.7" r="1.1" fill="#27cc5d"/>
<circle cx="394.5" cy="357.1" r="1.1" fill="#26cc5e"/>
<circle cx="395.0" cy="356.5" r="1.1" fill="#24cc60"/>
<circle cx="395.4" cy="355.9" r="1.1" fill="#22cc61"/>
<circle cx="395.9" cy="355.3" r="1.1" fill="#21cc62"/>
<circle cx="396.4" cy="354.7" r="1.1" fill="#1fcc63"/>
<circle cx="396.8" cy="354.1" r="1.1" fill="#1dcc64"/>
<circle cx="397.3" cy="353.5" r="1.1" fill="#1bcc66"/>
<circle cx="397.7" cy="352.9" r="1.1" fill="#1acc67"/>
<circle cx="398.2" cy="352.3" r="1.1" fill="#18cc68"/>
<circle cx="398.7" cy="351.8" r="1.1" fill="#18cc69"/>
<circle cx="399.2" cy="351.3" r="1.1" fill="#18cc6b"/>
<circle cx="399.7" cy="350.8" r="1.1" fill="#18cc6c"/>
<circle cx="400.2" cy="350.3" r="1.1" fill="#18cb6d"/>
<circle cx="400.7" cy="349.8" r="1.1" fill="#18cb6e"/>
<circle cx="401.1" cy="349.3" r="1.1" fill="#17cb70"/>
<circle cx="401.6" cy="348.8" r="1.1" fill="#17cb71"/>
<circle cx="402.1" cy="348.3" r="1.1" fill="#17cb72"/>
<circle cx="402.6" cy="347.8" r="1.1" fill="#17cb73"/>
<circle cx="403.1" cy="347.3" r="1.1" fill="#17cb75"/>
<circle cx="403.6" cy="346.8" r="1.1" fill="#17cb76"/>
<circle cx="395.8" cy="360.9" r="1.2" fill="#10b7ce"/>
<circle cx="401.9" cy="361.5" r="1.2" fill="#10afde"/>
<circle cx="404.2" cy="362.8" r="1.2" fill="#10b0db"/>
<circle cx="400.6" cy="361.0" r="1.2" fill="#10b4d5"/>
<circle cx="394.7" cy="360.5" r="1.2" fill="#10b2d9"/>
<circle cx="403.3" cy="361.3" r="1.2" fill="#11a9e6"/>
<circle cx="403.0" cy="360.8" r="1.2" fill="#11a8e6"/>
<circle cx="401.9" cy="363.5" r="1.2" fill="#10afde"/>
<circle cx="397.5" cy="361.6" r="1.2" fill="#10b1da"/>
<circle cx="398.7" cy="362.7" r="1.2" fill="#10abe5"/>
<circle cx="401.5" cy="362.4" r="1.2" fill="#11aae5"/>
<circle cx="401.1" cy="360.7" r="1.2" fill="#10ace3"/>
<circle cx="394.9" cy="360.5" r="1.2" fill="#10afdd"/>
<circle cx="400.0" cy="361.3" r="1.2" fill="#11a9e6"/>
<circle cx="398.4" cy="361.6" r="1.2" fill="#10aee1"/>
<circle cx="399.5" cy="362.1" r="1.2" fill="#10b3d6"/>
<circle cx="401.2" cy="361.8" r="1.2" fill="#10abe5"/>
<circle cx="398.3" cy="361.9" r="1.2" fill="#10b5d2"/>
<circle cx="398.7" cy="362.3" r="1.2" fill="#10afdf"/>
<circle cx="395.6" cy="362.0" r="1.2" fill="#10b1da"/>
<circle cx="397.8" cy="363.3" r="1.2" fill="#10b4d3"/>
<circle cx="396.1" cy="362.8" r="1.2" fill="#10b3d6"/>
<circle cx="403.6" cy="363.5" r="1.2" fill="#10aee0"/>
<circle cx="405.1" cy="361.0" r="1.2" fill="#12a6e8"/>
<circle cx="402.2" cy="360.8" r="1.2" fill="#10b2d8"/>
<circle cx="395.5" cy="361.7" r="1.2" fill="#10b4d4"/>
<circle cx="396.5" cy="362.2" r="1.2" fill="#10b6cf"/>
<circle cx="403.2" cy="363.3" r="1.2" fill="#10b2d9"/>
<circle cx="398.2" cy="362.5" r="1.2" fill="#10b5d3"/>
<circle cx="394.9" cy="362.2" r="1.2" fill="#10b4d4"/>
<circle cx="403.9" cy="361.2" r="1.2" fill="#10afdd"/>
<circle cx="410.6" cy="363.7" r="1.2" fill="#169bef"/>
<circle cx="405.9" cy="362.5" r="1.2" fill="#14a2ea"/>
<circle cx="406.7" cy="363.9" r="1.2" fill="#159fec"/>
<circle cx="411.4" cy="362.6" r="1.2" fill="#1799f0"/>
<circle cx="412.6" cy="364.5" r="1.2" fill="#1798f1"/>
<circle cx="412.1" cy="364.0" r="1.2" fill="#169aef"/>
<circle cx="409.2" cy="361.5" r="1.2" fill="#13a5e9"/>
<circle cx="407.0" cy="361.6" r="1.2" fill="#13a4e9"/>
<circle cx="408.8" cy="362.8" r="1.2" fill="#14a0ec"/>
<circle cx="408.7" cy="362.9" r="1.2" fill="#179af0"/>
<circle cx="414.2" cy="364.1" r="1.2" fill="#1d84f6"/>
<circle cx="412.3" cy="364.3" r="1.2" fill="#1798f1"/>
<circle cx="406.3" cy="363.5" r="1.2" fill="#10aee0"/>
<circle cx="410.3" cy="361.7" r="1.2" fill="#14a1eb"/>
<circle cx="408.8" cy="363.0" r="1.2" fill="#14a0ec"/>
<circle cx="413.9" cy="362.6" r="1.2" fill="#1c89f5"/>
<circle cx="414.6" cy="363.9" r="1.2" fill="#1c8af5"/>
<circle cx="410.7" cy="361.9" r="1.2" fill="#1992f3"/>
<circle cx="410.8" cy="363.9" r="1.2" fill="#1798f1"/>
<circle cx="409.3" cy="362.5" r="1.2" fill="#1896f2"/>
<circle cx="408.9" cy="363.8" r="1.2" fill="#13a3ea"/>
<circle cx="411.3" cy="361.7" r="1.2" fill="#1798f1"/>
<circle cx="409.3" cy="364.0" r="1.2" fill="#169dee"/>
<circle cx="411.4" cy="364.4" r="1.2" fill="#1993f3"/>
<circle cx="406.5" cy="361.8" r="1.2" fill="#14a1eb"/>
<circle cx="410.1" cy="362.7" r="1.2" fill="#159fec"/>
<circle cx="408.1" cy="361.5" r="1.2" fill="#11aae5"/>
<circle cx="412.1" cy="364.5" r="1.2" fill="#169bef"/>
<circle cx="409.1" cy="363.1" r="1.2" fill="#179af0"/>
<circle cx="408.6" cy="362.5" r="1.2" fill="#13a3ea"/>
<circle cx="417.9" cy="362.9" r="1.2" fill="#1d86f5"/>
<circle cx="421.8" cy="365.0" r="1.2" fill="#2275f8"/>
<circle cx="416.0" cy="364.3" r="1.2" fill="#1a90f3"/>
<circle cx="417.5" cy="364.5" r="1.2" fill="#1c89f5"/>
<circle cx="424.5" cy="364.2" r="1.2" fill="#2c5af8"/>
<circle cx="415.9" cy="363.9" r="1.2" fill="#1c88f5"/>
<circle cx="415.5" cy="363.8" r="1.2" fill="#1c89f5"/>
<circle cx="416.4" cy="363.9" r="1.2" fill="#207bf8"/>
<circle cx="422.2" cy="363.1" r="1.2" fill="#2371f8"/>
<circle cx="420.0" cy="362.1" r="1.2" fill="#2276f8"/>
<circle cx="419.6" cy="362.8" r="1.2" fill="#1f7ff7"/>
<circle cx="416.7" cy="364.2" r="1.2" fill="#1b8af5"/>
<circle cx="416.8" cy="363.6" r="1.2" fill="#1b8bf4"/>
<circle cx="417.9" cy="362.7" r="1.2" fill="#1c87f5"/>
<circle cx="416.2" cy="362.4" r="1.2" fill="#207bf8"/>
<circle cx="415.3" cy="362.5" r="1.2" fill="#1f7ff7"/>
<circle cx="420.0" cy="364.0" r="1.2" fill="#256cf8"/>
<circle cx="421.7" cy="362.5" r="1.2" fill="#1f7ff7"/>
<circle cx="418.6" cy="364.8" r="1.2" fill="#207bf8"/>
<circle cx="418.2" cy="364.8" r="1.2" fill="#1f7ff7"/>
<circle cx="422.0" cy="364.4" r="1.2" fill="#2274f8"/>
<circle cx="416.3" cy="364.6" r="1.2" fill="#1d84f6"/>
<circle cx="418.7" cy="362.7" r="1.2" fill="#1f7cf7"/>
<circle cx="418.9" cy="363.4" r="1.2" fill="#1f7cf8"/>
<circle cx="415.8" cy="364.6" r="1.2" fill="#1c88f5"/>
<circle cx="416.8" cy="364.5" r="1.2" fill="#1d84f6"/>
<circle cx="424.1" cy="364.9" r="1.2" fill="#2177f8"/>
<circle cx="421.4" cy="363.1" r="1.2" fill="#256ef8"/>
<circle cx="421.8" cy="364.2" r="1.2" fill="#2669f8"/>
<circle cx="423.7" cy="363.4" r="1.2" fill="#2767f8"/>
<circle cx="429.2" cy="364.0" r="1.2" fill="#3341f3"/>
<circle cx="429.9" cy="365.4" r="1.2" fill="#3149f5"/>
<circle cx="431.8" cy="364.9" r="1.2" fill="#304cf6"/>
<circle cx="432.0" cy="364.1" r="1.2" fill="#314af5"/>
<circle cx="430.7" cy="364.1" r="1.2" fill="#2d56f8"/>
<circle cx="426.9" cy="363.7" r="1.2" fill="#2768f8"/>
<circle cx="429.9" cy="364.5" r="1.2" fill="#2c5af8"/>
<circle cx="430.5" cy="363.0" r="1.2" fill="#3342f3"/>
<circle cx="425.4" cy="364.2" r="1.2" fill="#2d58f8"/>
<circle cx="427.3" cy="363.1" r="1.2" fill="#2e55f8"/>
<circle cx="431.9" cy="363.4" r="1.2" fill="#314af5"/>
<circle cx="431.2" cy="364.3" r="1.2" fill="#304ef6"/>
<circle cx="424.9" cy="364.3" r="1.2" fill="#2c5af8"/>
<circle cx="427.2" cy="362.5" r="1.2" fill="#2963f8"/>
<circle cx="428.6" cy="364.3" r="1.2" fill="#2a5ff8"/>
<circle cx="426.3" cy="362.6" r="1.2" fill="#2865f8"/>
<circle cx="429.3" cy="364.5" r="1.2" fill="#3341f3"/>
<circle cx="431.2" cy="365.0" r="1.2" fill="#3736ef"/>
<circle cx="431.2" cy="365.4" r="1.2" fill="#353df1"/>
<circle cx="425.5" cy="363.4" r="1.2" fill="#2b5df8"/>
<circle cx="427.7" cy="362.8" r="1.2" fill="#2f4ff7"/>
<circle cx="432.0" cy="364.5" r="0.8" fill="#3a2aec"/>
<circle cx="432.6" cy="364.9" r="0.8" fill="#3a28e9"/>
<circle cx="433.2" cy="365.3" r="0.8" fill="#3b26e5"/>
<circle cx="433.9" cy="365.7" r="0.8" fill="#3b24e2"/>
<circle cx="434.5" cy="366.1" r="0.8" fill="#3c22de"/>
<circle cx="435.1" cy="366.6" r="0.8" fill="#3c20db"/>
<circle cx="435.7" cy="367.0" r="0.8" fill="#3d1ed7"/>
<circle cx="436.4" cy="367.4" r="0.8" fill="#3d1cd4"/>
<circle cx="437.0" cy="367.8" r="0.8" fill="#3e1ad0"/>
<circle cx="437.6" cy="368.2" r="0.8" fill="#3e18cd"/>
<circle cx="413.6" cy="366.4" r="0.9" fill="#3a2aec"/>
<circle cx="413.6" cy="367.2" r="0.9" fill="#3b27e7"/>
<circle cx="413.6" cy="367.9" r="0.9" fill="#3b24e2"/>
<circle cx="413.6" cy="368.7" r="0.9" fill="#3c21dc"/>
<circle cx="413.6" cy="369.5" r="0.9" fill="#3d1ed7"/>
<circle cx="413.6" cy="370.2" r="0.9" fill="#3d1bd2"/>
<circle cx="413.6" cy="371.0" r="0.9" fill="#3e18cd"/>
<circle cx="419.8" cy="360.4" r="1.25" fill="#3c21dc"/>
<circle cx="421.1" cy="358.3" r="1.25" fill="#3c22df"/>
<circle cx="422.3" cy="356.2" r="1.25" fill="#3b23e1"/>
<circle cx="422.9" cy="354.6" r="1.25" fill="#3b24e2"/>
<circle cx="424.2" cy="353.1" r="1.25" fill="#3b25e4"/>
<circle cx="424.8" cy="351.6" r="1.25" fill="#3b26e5"/>
<circle cx="426.3" cy="349.0" r="1.25" fill="#3b28e8"/>
<circle cx="427.3" cy="347.5" r="1.25" fill="#3a29ea"/>
<circle cx="429.0" cy="345.5" r="1.25" fill="#3a2aec"/>
<circle cx="414.6" cy="349.7" r="1.2" fill="#1bcc66"/>
<circle cx="411.6" cy="347.8" r="1.2" fill="#15c892"/>
<circle cx="411.7" cy="348.6" r="1.2" fill="#18cb6d"/>
<circle cx="413.4" cy="349.5" r="1.2" fill="#15c88d"/>
<circle cx="410.8" cy="348.0" r="1.2" fill="#1bcc66"/>
<circle cx="409.7" cy="349.5" r="1.2" fill="#19cc67"/>
<circle cx="375.5" cy="264.5" r="1.1" fill="#3e18cd"/>
<circle cx="375.5" cy="264.5" r="3.3" fill="none" stroke="#f4633c" stroke-width="1.0"/>
<circle cx="431.5" cy="260.5" r="1.1" fill="#3e18cd"/>
<circle cx="431.5" cy="260.5" r="3.3" fill="none" stroke="#f4633c" stroke-width="1.0"/>
<circle cx="468.2" cy="304.9" r="1.1" fill="#3e18cd"/>
<circle cx="468.2" cy="304.9" r="3.3" fill="none" stroke="#f4633c" stroke-width="1.0"/>
<circle cx="477.3" cy="333.3" r="1.1" fill="#3e18cd"/>
<circle cx="477.3" cy="333.3" r="3.3" fill="none" stroke="#f4633c" stroke-width="1.0"/>
<circle cx="348.2" cy="338.6" r="1.1" fill="#3e18cd"/>
<circle cx="348.2" cy="338.6" r="3.3" fill="none" stroke="#f4633c" stroke-width="1.0"/>
<circle cx="384.2" cy="351.0" r="1.1" fill="#3e18cd"/>
<circle cx="384.2" cy="351.0" r="3.3" fill="none" stroke="#f4633c" stroke-width="1.0"/>
<circle cx="392.7" cy="359.5" r="1.1" fill="#3e18cd"/>
<circle cx="392.7" cy="359.5" r="3.3" fill="none" stroke="#f4633c" stroke-width="1.0"/>
<circle cx="413.6" cy="370.8" r="1.1" fill="#3e18cd"/>
<circle cx="413.6" cy="370.8" r="3.3" fill="none" stroke="#f4633c" stroke-width="1.0"/>
<circle cx="437.6" cy="368.3" r="1.1" fill="#3e18cd"/>
<circle cx="437.6" cy="368.3" r="3.3" fill="none" stroke="#f4633c" stroke-width="1.0"/>
</svg></body></html>
